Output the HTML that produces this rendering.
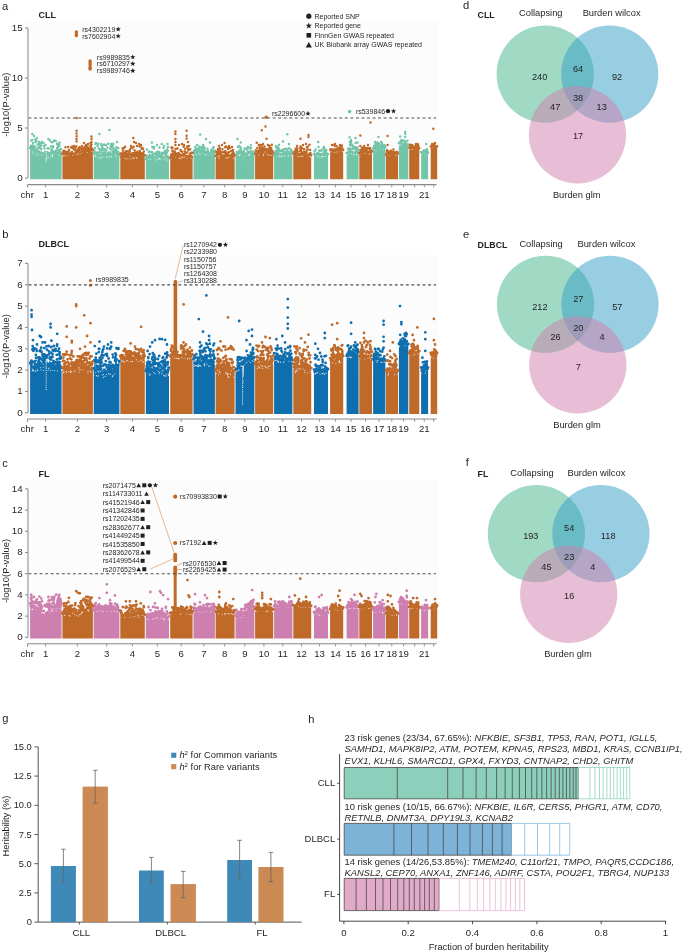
<!DOCTYPE html><html><head><meta charset="utf-8"><style>
html,body{margin:0;padding:0;background:#fff;}
svg{display:block;font-family:"Liberation Sans", sans-serif;filter:blur(0.3px);}
</style></head><body>
<svg width="685" height="952" viewBox="0 0 685 952">
<rect width="685" height="952" fill="#fff"/>
<rect x="25" y="22" width="413" height="164" fill="#fcfcfc"/>
<rect x="25" y="255" width="413" height="166" fill="#fcfcfc"/>
<rect x="25" y="480" width="413" height="166" fill="#fcfcfc"/>
<g>
<path d="M30.1 179.2 L30.1 148.0 L30.8 146.7 L31.5 148.6 L32.2 148.2 L32.9 149.8 L33.6 150.3 L34.3 149.7 L35.0 147.1 L35.7 151.3 L36.4 151.6 L37.1 150.3 L37.8 148.0 L38.5 151.5 L39.2 152.5 L39.9 147.9 L40.6 153.1 L41.3 149.0 L42.0 153.1 L42.7 154.2 L43.4 155.0 L44.1 155.2 L44.8 152.4 L45.5 156.3 L46.2 154.6 L46.9 154.0 L47.6 155.5 L48.3 154.6 L49.0 156.1 L49.7 155.7 L50.4 154.8 L51.1 151.8 L51.8 152.8 L52.5 153.0 L53.2 151.7 L53.9 152.8 L54.6 154.0 L55.3 151.3 L56.0 152.1 L56.7 154.4 L57.4 152.8 L58.1 153.1 L58.8 150.5 L59.5 151.9 L60.2 154.3 L60.9 149.1 L61.6 154.0 L61.6 179.2ZM93.7 179.2 L93.7 153.1 L94.4 150.8 L95.1 153.3 L95.8 153.8 L96.6 154.3 L97.3 152.6 L98.0 155.9 L98.7 155.8 L99.4 151.9 L100.1 156.3 L100.8 155.9 L101.6 152.6 L102.3 155.3 L103.0 153.3 L103.7 149.4 L104.4 154.1 L105.1 154.1 L105.8 151.1 L106.6 154.7 L107.3 153.7 L108.0 153.5 L108.7 155.0 L109.4 154.0 L110.1 152.5 L110.8 154.6 L111.5 154.4 L112.3 150.5 L113.0 152.3 L113.7 154.3 L114.4 153.9 L115.1 153.0 L115.8 153.2 L116.5 152.7 L117.3 151.7 L118.0 151.9 L118.7 154.4 L119.4 154.7 L119.4 179.2ZM145.8 179.2 L145.8 158.9 L146.5 157.6 L147.2 158.7 L147.9 157.2 L148.6 156.4 L149.3 155.4 L150.0 156.9 L150.7 157.7 L151.4 156.8 L152.1 156.2 L152.8 157.4 L153.5 155.1 L154.2 158.1 L154.9 157.3 L155.6 157.6 L156.3 154.9 L157.0 153.9 L157.8 152.9 L158.5 156.3 L159.2 153.5 L159.9 156.8 L160.6 156.2 L161.3 157.6 L162.0 154.2 L162.7 153.3 L163.4 157.9 L164.1 158.2 L164.8 153.8 L165.5 155.0 L166.2 156.6 L166.9 152.8 L167.6 156.6 L168.3 158.6 L169.0 158.3 L169.0 179.2ZM193.5 179.2 L193.5 152.6 L194.2 150.4 L194.9 150.4 L195.6 150.8 L196.4 153.0 L197.1 151.0 L197.8 151.1 L198.5 151.2 L199.2 149.3 L199.9 152.3 L200.6 152.4 L201.3 150.9 L202.1 150.1 L202.8 151.5 L203.5 152.7 L204.2 151.9 L204.9 151.2 L205.6 153.1 L206.3 153.1 L207.1 153.5 L207.8 153.9 L208.5 153.3 L209.2 153.9 L209.9 153.6 L210.6 153.6 L211.3 152.1 L212.0 153.6 L212.8 152.0 L213.5 153.6 L214.2 153.6 L214.9 150.8 L214.9 179.2ZM235.5 179.2 L235.5 154.7 L236.2 154.5 L236.9 154.2 L237.6 153.8 L238.3 151.8 L239.0 152.6 L239.7 151.2 L240.4 151.0 L241.1 152.8 L241.8 153.5 L242.5 156.3 L243.2 158.9 L243.9 157.9 L244.6 154.9 L245.3 153.7 L246.0 154.2 L246.7 153.7 L247.4 150.3 L248.1 152.2 L248.8 152.3 L249.5 152.7 L250.2 151.4 L250.9 152.3 L251.6 152.1 L252.3 152.3 L253.0 153.0 L253.7 152.7 L254.4 152.5 L254.4 179.2ZM274.1 179.2 L274.1 155.4 L274.8 153.3 L275.5 153.6 L276.2 155.4 L276.9 154.2 L277.6 153.9 L278.3 151.2 L279.0 153.7 L279.7 153.9 L280.4 153.5 L281.1 154.2 L281.8 154.3 L282.5 150.8 L283.2 154.1 L284.0 152.3 L284.7 154.5 L285.4 152.2 L286.1 153.2 L286.8 154.3 L287.5 152.4 L288.2 152.2 L288.9 154.1 L289.6 153.8 L290.3 153.5 L291.0 152.8 L291.7 152.6 L292.4 151.9 L292.4 179.2ZM314.0 179.2 L314.0 153.9 L314.7 151.0 L315.4 154.3 L316.1 154.3 L316.8 153.8 L317.5 154.4 L318.2 152.9 L318.9 154.6 L319.6 155.2 L320.3 155.4 L321.0 154.4 L321.7 153.9 L322.4 154.7 L323.1 154.8 L323.8 152.3 L324.5 154.1 L325.2 155.0 L325.9 153.5 L326.6 154.8 L327.3 154.9 L328.0 153.9 L328.0 179.2ZM346.6 179.2 L346.6 152.9 L347.3 153.1 L348.0 148.4 L348.7 151.2 L349.4 151.8 L350.1 149.5 L350.8 151.8 L351.5 151.8 L352.2 152.1 L353.0 148.7 L353.7 152.5 L354.4 152.5 L355.1 148.4 L355.8 148.8 L356.5 151.0 L357.2 152.6 L357.9 150.1 L358.6 150.0 L358.6 179.2ZM373.1 179.2 L373.1 148.2 L373.8 147.4 L374.5 149.1 L375.3 147.6 L376.0 148.9 L376.7 147.0 L377.4 148.8 L378.2 148.5 L378.9 145.9 L379.6 148.1 L380.3 148.3 L381.1 146.4 L381.8 147.8 L382.5 146.7 L383.2 148.4 L384.0 147.9 L384.7 145.6 L385.4 147.3 L385.4 179.2ZM398.9 179.2 L398.9 143.1 L399.6 142.5 L400.3 142.6 L401.1 143.3 L401.8 143.4 L402.5 144.7 L403.2 144.7 L404.0 144.7 L404.7 143.0 L405.4 143.3 L406.1 143.7 L406.9 144.5 L407.6 144.4 L408.3 144.6 L408.3 179.2ZM421.1 179.2 L421.1 151.9 L421.8 153.3 L422.5 152.5 L423.2 153.3 L423.9 153.1 L424.6 153.0 L425.3 153.1 L426.0 153.4 L426.7 153.1 L427.4 151.6 L428.1 152.7 L428.1 179.2Z" fill="#73c5aa"/>
<path d="M62.4 179.2 L62.4 153.4 L63.1 153.4 L63.8 153.8 L64.5 154.0 L65.2 154.4 L65.9 154.3 L66.7 152.5 L67.4 154.6 L68.1 152.0 L68.8 154.2 L69.5 154.0 L70.2 153.8 L70.9 153.7 L71.6 152.9 L72.3 154.0 L73.0 153.8 L73.7 153.7 L74.5 153.6 L75.2 150.3 L75.9 153.0 L76.6 150.5 L77.3 151.4 L78.0 152.3 L78.7 150.4 L79.4 149.2 L80.1 149.1 L80.8 151.9 L81.6 151.8 L82.3 148.9 L83.0 150.7 L83.7 151.4 L84.4 152.2 L85.1 151.4 L85.8 150.1 L86.5 151.2 L87.2 149.2 L87.9 148.0 L88.6 151.1 L89.4 150.7 L90.1 149.6 L90.8 147.2 L91.5 149.7 L92.2 150.5 L92.9 149.7 L92.9 179.2ZM120.3 179.2 L120.3 153.6 L121.0 156.7 L121.7 156.8 L122.4 156.2 L123.1 155.3 L123.8 155.7 L124.5 156.4 L125.2 156.5 L125.9 154.8 L126.6 153.7 L127.3 157.2 L128.0 155.7 L128.7 154.7 L129.4 157.6 L130.1 154.6 L130.8 157.5 L131.5 155.5 L132.2 155.3 L132.9 154.6 L133.6 156.0 L134.3 155.7 L135.0 154.8 L135.7 155.1 L136.4 153.7 L137.1 154.9 L137.8 155.3 L138.5 156.5 L139.2 154.8 L139.9 155.2 L140.6 155.8 L141.3 153.4 L142.0 153.5 L142.7 155.4 L143.4 156.0 L144.1 154.7 L144.8 155.3 L144.8 179.2ZM170.2 179.2 L170.2 157.8 L170.9 156.7 L171.6 154.8 L172.3 156.9 L173.0 156.6 L173.7 156.0 L174.4 156.7 L175.1 156.5 L175.8 154.3 L176.5 155.6 L177.2 153.6 L177.9 155.3 L178.6 153.1 L179.3 156.2 L180.0 155.5 L180.7 155.3 L181.4 155.3 L182.1 155.1 L182.8 155.1 L183.5 154.7 L184.2 155.3 L184.9 151.6 L185.6 152.9 L186.3 156.3 L187.0 157.0 L187.7 156.0 L188.4 156.7 L189.1 156.2 L189.8 154.0 L190.5 156.5 L191.2 152.8 L191.9 157.2 L192.6 152.8 L192.6 179.2ZM215.6 179.2 L215.6 155.8 L216.3 152.0 L217.0 153.8 L217.7 152.8 L218.4 155.1 L219.1 154.1 L219.8 153.6 L220.5 153.7 L221.2 157.3 L221.9 155.5 L222.6 157.1 L223.3 155.4 L224.0 157.1 L224.7 155.9 L225.5 153.1 L226.2 154.8 L226.9 156.0 L227.6 154.9 L228.3 155.3 L229.0 152.2 L229.7 156.2 L230.4 156.4 L231.1 155.0 L231.8 156.8 L232.5 155.0 L233.2 152.2 L233.9 154.7 L234.6 155.2 L234.6 179.2ZM255.1 179.2 L255.1 153.7 L255.8 150.3 L256.5 151.5 L257.3 153.9 L258.0 152.0 L258.7 153.0 L259.4 150.9 L260.2 150.0 L260.9 152.4 L261.6 152.8 L262.3 149.2 L263.1 151.9 L263.8 148.8 L264.5 150.2 L265.2 150.2 L266.0 150.0 L266.7 151.4 L267.4 152.2 L268.1 152.9 L268.9 151.0 L269.6 152.5 L270.3 152.6 L271.0 150.3 L271.8 153.6 L272.5 151.1 L273.2 153.3 L273.2 179.2ZM293.3 179.2 L293.3 153.8 L294.0 153.8 L294.7 152.1 L295.4 153.0 L296.2 150.8 L296.9 153.9 L297.6 151.4 L298.3 153.7 L299.0 155.2 L299.7 155.3 L300.5 154.2 L301.2 151.7 L301.9 154.7 L302.6 152.7 L303.3 154.2 L304.0 152.0 L304.8 155.0 L305.5 154.2 L306.2 152.2 L306.9 155.0 L307.6 155.0 L308.3 155.1 L309.1 155.0 L309.8 154.8 L310.5 153.3 L311.2 155.2 L311.2 179.2ZM330.1 179.2 L330.1 149.6 L330.8 150.4 L331.6 149.6 L332.3 149.5 L333.0 151.2 L333.7 150.5 L334.5 151.3 L335.2 151.1 L335.9 150.5 L336.6 149.9 L337.4 150.1 L338.1 150.4 L338.8 149.2 L339.6 150.6 L340.3 149.6 L341.0 150.2 L341.7 149.9 L342.5 149.1 L343.2 150.0 L343.2 179.2ZM359.3 179.2 L359.3 153.0 L360.0 152.4 L360.7 153.4 L361.4 153.1 L362.1 150.5 L362.8 152.7 L363.5 152.0 L364.2 150.0 L364.9 150.4 L365.6 151.2 L366.4 151.7 L367.1 152.1 L367.8 152.1 L368.5 152.0 L369.2 152.2 L369.9 150.6 L370.6 151.2 L371.3 152.6 L372.0 151.1 L372.0 179.2ZM386.0 179.2 L386.0 154.8 L386.7 153.4 L387.4 154.0 L388.1 154.3 L388.8 152.8 L389.5 154.5 L390.2 154.5 L390.9 154.5 L391.6 153.7 L392.4 152.9 L393.1 153.1 L393.8 153.7 L394.5 152.8 L395.2 154.0 L395.9 153.8 L396.6 153.1 L397.3 152.1 L398.0 153.4 L398.0 179.2ZM409.2 179.2 L409.2 147.5 L409.9 148.2 L410.6 148.0 L411.4 146.1 L412.1 148.1 L412.8 148.1 L413.5 147.2 L414.2 147.1 L415.0 147.5 L415.7 147.2 L416.4 148.4 L417.1 148.5 L417.9 146.6 L418.6 147.1 L419.3 148.3 L419.3 179.2ZM430.7 179.2 L430.7 146.5 L431.4 146.2 L432.1 145.2 L432.9 145.9 L433.6 146.5 L434.3 145.6 L435.0 146.5 L435.8 146.5 L436.5 146.4 L437.2 146.3 L437.2 179.2Z" fill="#c06a2a"/>
<path d="M52.6 155.6h0M41.5 152.3h0M32.1 149.0h0M50.6 155.9h0M53.5 154.2h0M52.3 156.0h0M52.5 156.6h0M38.0 150.8h0M36.4 154.6h0M34.9 150.1h0M53.2 153.8h0M34.0 150.5h0M38.7 154.7h0M52.2 154.9h0M33.0 151.8h0M52.3 154.5h0M42.0 155.4h0M50.9 154.2h0M53.5 152.6h0M41.5 150.0h0M38.3 152.5h0M34.9 151.1h0M59.2 155.4h0M59.3 155.1h0M36.5 152.2h0M46.4 158.2h0M50.7 156.8h0M47.4 156.2h0M59.3 152.9h0M48.9 156.6h0M48.2 157.4h0M46.2 159.0h0M49.6 156.5h0M53.2 153.5h0M33.2 153.0h0M39.7 148.5h0M41.5 154.4h0M64.3 155.6h0M92.5 151.5h0M73.0 154.3h0M76.5 153.8h0M81.7 152.5h0M91.0 149.8h0M87.4 150.8h0M64.5 154.6h0M90.1 150.5h0M75.4 152.6h0M87.2 152.2h0M77.1 153.7h0M91.6 151.3h0M76.0 154.2h0M67.2 155.8h0M71.8 154.2h0M87.5 151.9h0M82.3 151.6h0M72.9 155.2h0M65.9 155.6h0M87.6 151.4h0M81.0 153.5h0M71.5 154.5h0M64.6 155.2h0M78.7 153.9h0M91.0 148.4h0M65.8 155.7h0M80.1 150.9h0M76.1 153.7h0M63.1 155.9h0M83.7 151.9h0M65.5 155.6h0M86.1 150.9h0M72.9 154.5h0M68.9 155.1h0M91.7 150.4h0M102.2 155.9h0M101.4 155.2h0M93.8 157.1h0M109.3 156.8h0M100.4 157.9h0M95.2 155.1h0M103.2 154.4h0M112.1 152.7h0M107.0 157.4h0M115.6 155.2h0M98.1 156.6h0M99.9 157.2h0M100.7 157.2h0M106.5 155.9h0M95.9 156.4h0M109.1 156.1h0M110.1 154.3h0M111.3 157.0h0M101.0 157.2h0M111.5 155.9h0M100.6 157.6h0M100.4 157.2h0M97.5 154.7h0M116.5 156.6h0M101.1 157.0h0M98.1 157.2h0M102.5 157.1h0M95.1 153.9h0M95.9 155.4h0M97.3 153.4h0M131.2 157.9h0M135.3 155.6h0M131.4 156.6h0M144.9 156.5h0M143.3 156.5h0M129.4 158.8h0M127.1 158.5h0M128.8 155.3h0M134.2 158.1h0M131.0 158.5h0M144.3 156.8h0M120.3 154.6h0M130.0 156.4h0M129.5 158.5h0M127.0 158.7h0M124.3 157.5h0M126.3 155.3h0M126.0 156.2h0M122.8 156.5h0M136.7 157.5h0M143.8 155.5h0M136.9 158.2h0M125.5 158.8h0M123.9 156.5h0M132.7 156.7h0M129.3 158.6h0M131.4 158.8h0M133.1 158.5h0M134.4 156.6h0M164.0 159.7h0M151.4 157.9h0M155.6 159.9h0M157.2 154.5h0M167.0 160.9h0M157.8 157.3h0M159.8 158.8h0M149.2 157.2h0M158.9 154.7h0M159.6 157.9h0M161.0 158.9h0M145.5 160.5h0M158.2 159.4h0M151.9 157.2h0M165.3 158.4h0M163.2 158.8h0M149.6 157.2h0M159.3 158.8h0M169.2 160.7h0M150.6 159.2h0M155.6 158.5h0M148.2 159.0h0M167.4 159.5h0M145.7 160.6h0M167.8 158.1h0M162.3 157.6h0M148.5 159.8h0M178.7 154.4h0M179.7 157.7h0M187.5 157.6h0M181.1 156.8h0M186.8 158.1h0M185.4 154.3h0M181.4 156.1h0M191.0 155.4h0M179.1 158.3h0M182.8 157.3h0M187.9 156.9h0M181.0 158.6h0M186.2 157.0h0M190.3 157.3h0M170.9 158.1h0M170.7 158.7h0M191.7 158.1h0M182.4 157.1h0M175.5 157.4h0M178.5 153.6h0M170.9 158.8h0M190.7 157.8h0M173.1 157.3h0M174.9 157.4h0M184.3 156.9h0M192.6 156.0h0M195.6 151.5h0M205.1 154.7h0M196.6 154.9h0M198.3 152.6h0M200.1 154.1h0M193.8 154.8h0M209.6 154.7h0M207.0 154.3h0M198.3 152.4h0M212.6 154.5h0M199.2 153.8h0M204.7 152.3h0M195.4 153.0h0M206.2 154.5h0M208.6 154.2h0M196.8 151.6h0M207.7 154.7h0M211.8 154.3h0M214.8 154.5h0M202.0 153.3h0M202.8 152.4h0M214.1 154.6h0M205.6 154.8h0M214.8 152.1h0M212.8 153.6h0M215.6 158.7h0M226.2 157.4h0M222.2 157.1h0M227.0 156.8h0M224.7 157.6h0M228.9 154.2h0M215.6 157.0h0M217.7 156.0h0M229.7 157.4h0M219.8 154.2h0M225.7 154.5h0M228.3 157.5h0M233.8 158.3h0M223.5 156.0h0M227.0 158.3h0M222.1 156.7h0M226.8 156.7h0M219.3 156.2h0M219.6 156.0h0M219.2 158.4h0M218.0 156.3h0M229.8 157.1h0M249.9 152.2h0M243.4 159.8h0M239.6 155.0h0M240.6 153.9h0M243.8 159.3h0M245.5 154.6h0M254.7 153.1h0M239.1 155.4h0M250.4 152.7h0M235.6 155.3h0M240.3 151.5h0M249.4 155.2h0M241.2 153.4h0M250.8 153.4h0M248.6 155.0h0M241.9 155.2h0M247.5 153.7h0M238.8 154.0h0M245.9 155.0h0M244.6 156.0h0M235.7 155.5h0M249.2 154.6h0M270.8 153.1h0M259.4 153.0h0M258.8 153.5h0M269.7 155.2h0M258.8 155.1h0M263.5 154.5h0M265.1 152.7h0M263.3 155.6h0M273.0 154.5h0M256.6 152.9h0M264.2 151.1h0M255.3 154.5h0M271.6 155.2h0M265.3 151.4h0M267.9 154.9h0M262.3 151.9h0M267.6 152.9h0M263.9 149.4h0M273.3 154.1h0M262.2 151.4h0M268.1 154.4h0M283.9 155.0h0M281.7 156.0h0M284.4 156.1h0M284.0 153.2h0M288.3 155.9h0M279.5 155.6h0M279.8 155.7h0M287.1 154.8h0M275.0 154.0h0M276.4 156.0h0M287.9 154.1h0M291.9 155.4h0M291.8 153.3h0M280.3 154.1h0M281.9 155.6h0M282.0 155.0h0M281.0 156.7h0M281.3 154.9h0M285.2 154.9h0M278.8 154.2h0M278.5 156.8h0M310.4 154.5h0M304.3 155.5h0M311.0 156.3h0M311.0 155.8h0M310.0 156.9h0M301.8 155.6h0M298.3 155.1h0M302.0 155.3h0M298.0 156.7h0M308.9 156.1h0M297.6 154.7h0M299.3 156.4h0M297.8 152.0h0M304.3 153.0h0M298.8 155.8h0M299.6 156.5h0M303.9 152.9h0M300.5 155.2h0M303.1 156.2h0M311.4 156.5h0M301.3 156.4h0M322.5 156.4h0M322.1 156.2h0M325.3 156.5h0M321.2 156.8h0M319.1 155.2h0M319.6 155.8h0M321.7 155.4h0M318.6 155.1h0M325.0 156.3h0M317.3 155.2h0M317.6 156.5h0M317.7 155.5h0M327.7 154.6h0M322.6 156.2h0M322.9 156.7h0M319.5 156.4h0M331.0 151.4h0M343.1 151.8h0M330.6 151.0h0M337.7 151.8h0M333.6 151.0h0M335.9 152.0h0M336.7 151.1h0M339.4 151.4h0M335.4 151.7h0M342.3 151.3h0M330.9 151.8h0M340.4 150.6h0M333.2 152.0h0M334.6 152.0h0M330.5 151.2h0M351.4 153.1h0M348.6 151.7h0M349.2 153.0h0M353.6 154.1h0M353.5 153.4h0M353.1 150.0h0M356.5 154.4h0M350.1 151.5h0M347.4 154.9h0M355.6 150.8h0M354.5 154.7h0M350.2 152.6h0M348.2 152.2h0M357.0 154.2h0M370.9 153.2h0M371.4 153.4h0M360.9 153.9h0M365.2 151.5h0M364.2 153.1h0M364.3 150.8h0M360.2 153.6h0M366.3 152.4h0M360.8 154.1h0M366.6 152.7h0M368.2 152.8h0M370.2 152.0h0M369.9 152.5h0M369.2 153.9h0M360.9 154.1h0M376.2 150.0h0M374.0 149.6h0M377.0 148.1h0M379.8 148.6h0M380.9 146.9h0M379.6 148.7h0M380.3 148.9h0M378.8 148.4h0M383.8 149.5h0M383.2 149.5h0M376.6 147.9h0M376.0 149.9h0M385.3 148.1h0M374.5 150.0h0M390.5 155.4h0M397.8 154.3h0M389.5 155.5h0M395.4 155.1h0M391.7 154.5h0M394.7 154.4h0M395.4 155.2h0M387.0 154.1h0M392.9 154.1h0M396.5 154.2h0M396.0 155.2h0M388.0 155.2h0M390.5 155.5h0M385.8 155.4h0M398.9 144.9h0M399.5 143.3h0M404.7 143.6h0M405.8 144.3h0M401.0 143.9h0M399.8 145.1h0M401.1 144.6h0M406.4 144.5h0M407.7 145.5h0M398.7 143.8h0M406.3 144.5h0M409.8 149.0h0M409.8 149.4h0M419.1 148.8h0M412.7 149.2h0M412.1 149.3h0M412.5 148.8h0M410.0 149.5h0M417.9 147.8h0M414.5 147.6h0M415.9 148.2h0M416.9 149.1h0M409.3 148.2h0M425.6 153.8h0M422.6 153.5h0M422.6 153.4h0M425.2 154.2h0M421.3 154.2h0M428.4 154.0h0M427.9 153.4h0M421.9 154.0h0M432.3 146.5h0M434.3 146.7h0M431.7 146.8h0M432.1 146.6h0M430.5 147.2h0M433.1 146.6h0M432.8 146.6h0" stroke="#fff" stroke-opacity="0.85" stroke-width="1.1" stroke-linecap="round" fill="none"/>
<path d="M30.1 148.0h0M30.8 146.7h0M31.5 148.6h0M32.2 148.2h0M32.9 149.8h0M33.6 150.3h0M34.3 149.7h0M35.0 147.1h0M35.7 151.3h0M36.4 151.6h0M37.1 150.3h0M37.8 148.0h0M38.5 151.5h0M39.2 152.5h0M39.9 147.9h0M40.6 153.1h0M41.3 149.0h0M42.0 153.1h0M42.7 154.2h0M43.4 155.0h0M44.1 155.2h0M44.8 152.4h0M45.5 156.3h0M46.2 154.6h0M46.9 154.0h0M47.6 155.5h0M48.3 154.6h0M49.0 156.1h0M49.7 155.7h0M50.4 154.8h0M51.1 151.8h0M51.8 152.8h0M52.5 153.0h0M53.2 151.7h0M53.9 152.8h0M54.6 154.0h0M55.3 151.3h0M56.0 152.1h0M56.7 154.4h0M57.4 152.8h0M58.1 153.1h0M58.8 150.5h0M59.5 151.9h0M60.2 154.3h0M60.9 149.1h0M61.6 154.0h0M48.0 152.9h0M51.7 142.3h0M33.1 145.6h0M44.0 153.3h0M51.9 150.0h0M34.0 147.3h0M59.2 145.9h0M43.5 143.0h0M49.5 153.3h0M59.4 142.6h0M45.2 156.0h0M32.0 147.1h0M40.5 143.4h0M51.5 150.2h0M54.4 153.6h0M49.3 154.7h0M48.7 148.6h0M47.3 153.6h0M37.5 144.5h0M55.7 151.0h0M36.3 149.7h0M55.2 151.0h0M52.9 147.5h0M32.2 140.1h0M60.4 152.0h0M47.5 152.2h0M47.2 155.4h0M39.2 152.3h0M56.3 154.4h0M36.4 141.0h0M57.0 143.7h0M57.3 147.7h0M45.6 153.0h0M35.3 139.5h0M50.4 153.3h0M36.1 149.9h0M41.3 145.4h0M52.8 142.0h0M53.1 146.2h0M31.0 145.7h0M59.1 145.8h0M41.3 143.1h0M45.7 152.2h0M52.4 152.3h0M38.7 144.2h0M39.7 146.0h0M31.2 140.6h0M50.9 146.6h0M45.5 145.0h0M45.9 154.2h0M39.6 146.2h0M44.6 148.5h0M57.7 149.7h0M58.7 146.4h0M59.2 150.0h0M51.4 149.5h0M58.0 145.2h0M47.6 148.2h0M33.8 149.8h0M35.3 146.7h0M50.6 154.4h0M57.1 148.2h0M45.2 152.0h0M58.5 145.0h0M35.6 142.1h0M38.8 151.8h0M32.4 134.0h0M34.0 136.0h0M36.8 138.0h0M39.0 142.0h0M41.9 142.0h0M48.4 139.0h0M49.9 140.5h0M54.3 140.5h0M55.7 141.0h0M57.0 144.0h0M59.4 144.0h0M33.0 143.0h0M44.0 146.0h0M93.7 153.1h0M94.4 150.8h0M95.1 153.3h0M95.8 153.8h0M96.6 154.3h0M97.3 152.6h0M98.0 155.9h0M98.7 155.8h0M99.4 151.9h0M100.1 156.3h0M100.8 155.9h0M101.6 152.6h0M102.3 155.3h0M103.0 153.3h0M103.7 149.4h0M104.4 154.1h0M105.1 154.1h0M105.8 151.1h0M106.6 154.7h0M107.3 153.7h0M108.0 153.5h0M108.7 155.0h0M109.4 154.0h0M110.1 152.5h0M110.8 154.6h0M111.5 154.4h0M112.3 150.5h0M113.0 152.3h0M113.7 154.3h0M114.4 153.9h0M115.1 153.0h0M115.8 153.2h0M116.5 152.7h0M117.3 151.7h0M118.0 151.9h0M118.7 154.4h0M119.4 154.7h0M116.2 150.1h0M102.1 147.2h0M103.7 148.9h0M106.2 150.0h0M101.9 150.2h0M96.2 153.5h0M111.2 154.4h0M100.1 149.5h0M101.5 145.2h0M108.2 143.7h0M100.7 155.3h0M117.5 151.7h0M111.1 143.9h0M113.4 154.3h0M105.5 149.6h0M98.7 148.4h0M110.7 146.9h0M112.6 147.7h0M102.2 145.3h0M102.1 148.6h0M114.7 151.1h0M111.2 154.3h0M96.8 154.3h0M102.5 145.7h0M108.6 153.4h0M94.9 148.0h0M108.3 152.4h0M96.2 153.5h0M115.3 150.7h0M111.1 145.3h0M115.5 150.5h0M107.5 147.4h0M104.3 152.7h0M110.3 149.0h0M116.3 147.3h0M104.3 149.3h0M115.2 151.8h0M113.3 143.8h0M105.2 153.4h0M112.3 146.8h0M113.4 154.0h0M114.5 148.9h0M118.2 148.0h0M98.9 154.5h0M105.9 149.9h0M104.9 153.2h0M104.2 153.0h0M102.1 153.1h0M104.4 153.3h0M98.1 143.8h0M97.6 146.1h0M104.0 144.5h0M95.4 152.6h0M95.6 144.1h0M99.5 134.0h0M109.5 130.0h0M96.0 143.0h0M106.0 145.0h0M113.0 145.0h0M117.0 142.0h0M101.0 144.0h0M145.8 158.9h0M146.5 157.6h0M147.2 158.7h0M147.9 157.2h0M148.6 156.4h0M149.3 155.4h0M150.0 156.9h0M150.7 157.7h0M151.4 156.8h0M152.1 156.2h0M152.8 157.4h0M153.5 155.1h0M154.2 158.1h0M154.9 157.3h0M155.6 157.6h0M156.3 154.9h0M157.0 153.9h0M157.8 152.9h0M158.5 156.3h0M159.2 153.5h0M159.9 156.8h0M160.6 156.2h0M161.3 157.6h0M162.0 154.2h0M162.7 153.3h0M163.4 157.9h0M164.1 158.2h0M164.8 153.8h0M165.5 155.0h0M166.2 156.6h0M166.9 152.8h0M167.6 156.6h0M168.3 158.6h0M169.0 158.3h0M149.9 155.0h0M149.3 151.4h0M161.7 153.5h0M168.0 147.0h0M156.0 157.3h0M147.1 157.1h0M152.4 154.0h0M159.6 154.5h0M157.1 153.8h0M166.3 151.4h0M168.1 157.2h0M152.3 147.1h0M159.9 155.3h0M156.2 154.5h0M149.7 152.1h0M154.1 147.0h0M159.3 152.0h0M153.9 148.4h0M157.5 151.8h0M146.8 149.6h0M164.9 151.7h0M158.4 156.0h0M163.0 157.0h0M164.9 151.0h0M164.4 152.6h0M155.8 152.7h0M166.1 155.8h0M150.3 156.1h0M163.5 153.0h0M157.3 152.0h0M146.6 155.4h0M153.8 153.9h0M167.9 156.4h0M157.1 153.7h0M154.3 157.9h0M166.2 151.1h0M167.9 150.7h0M162.0 152.7h0M166.0 151.6h0M163.4 148.0h0M161.4 156.6h0M162.6 153.3h0M164.4 153.2h0M161.3 157.4h0M159.4 147.4h0M163.3 157.5h0M148.9 152.1h0M167.0 149.4h0M152.0 152.0h0M151.9 142.4h0M161.8 144.0h0M167.6 144.0h0M157.0 145.0h0M164.0 146.0h0M193.5 152.6h0M194.2 150.4h0M194.9 150.4h0M195.6 150.8h0M196.4 153.0h0M197.1 151.0h0M197.8 151.1h0M198.5 151.2h0M199.2 149.3h0M199.9 152.3h0M200.6 152.4h0M201.3 150.9h0M202.1 150.1h0M202.8 151.5h0M203.5 152.7h0M204.2 151.9h0M204.9 151.2h0M205.6 153.1h0M206.3 153.1h0M207.1 153.5h0M207.8 153.9h0M208.5 153.3h0M209.2 153.9h0M209.9 153.6h0M210.6 153.6h0M211.3 152.1h0M212.0 153.6h0M212.8 152.0h0M213.5 153.6h0M214.2 153.6h0M214.9 150.8h0M198.2 149.1h0M201.7 150.8h0M203.9 147.0h0M202.3 148.4h0M203.9 151.9h0M198.5 149.0h0M196.2 149.1h0M197.2 149.3h0M196.3 152.8h0M202.7 151.3h0M199.3 148.9h0M211.1 150.5h0M200.6 150.7h0M196.7 153.0h0M213.7 147.2h0M205.6 152.4h0M199.4 146.4h0M203.2 146.2h0M214.0 152.3h0M203.1 151.5h0M210.3 153.4h0M207.4 148.7h0M200.6 151.0h0M211.6 150.2h0M197.0 151.0h0M202.5 149.6h0M196.6 150.9h0M198.7 150.9h0M195.2 147.0h0M209.9 152.9h0M197.5 148.7h0M208.0 151.0h0M197.4 148.6h0M204.8 148.4h0M201.2 147.4h0M213.1 151.9h0M203.1 150.1h0M212.9 151.5h0M206.6 152.0h0M197.2 149.2h0M212.4 150.2h0M203.9 152.7h0M201.5 147.6h0M213.1 148.3h0M212.7 148.5h0M200.2 134.6h0M206.0 139.0h0M210.0 142.4h0M197.0 145.0h0M203.0 145.0h0M235.5 154.7h0M236.2 154.5h0M236.9 154.2h0M237.6 153.8h0M238.3 151.8h0M239.0 152.6h0M239.7 151.2h0M240.4 151.0h0M241.1 152.8h0M241.8 153.5h0M242.5 156.3h0M243.2 158.9h0M243.9 157.9h0M244.6 154.9h0M245.3 153.7h0M246.0 154.2h0M246.7 153.7h0M247.4 150.3h0M248.1 152.2h0M248.8 152.3h0M249.5 152.7h0M250.2 151.4h0M250.9 152.3h0M251.6 152.1h0M252.3 152.3h0M253.0 153.0h0M253.7 152.7h0M254.4 152.5h0M237.9 146.9h0M236.8 152.3h0M243.5 157.5h0M244.0 150.9h0M244.9 153.2h0M240.0 146.8h0M244.7 148.6h0M246.4 154.1h0M250.1 148.5h0M240.3 150.1h0M250.9 148.1h0M240.1 150.8h0M243.6 151.7h0M241.7 152.3h0M242.5 155.0h0M244.0 150.7h0M244.9 153.8h0M240.3 149.8h0M243.0 158.9h0M249.8 147.9h0M240.6 151.0h0M241.1 148.5h0M247.4 147.7h0M252.8 151.8h0M239.9 150.3h0M247.9 147.1h0M246.5 148.6h0M249.9 148.6h0M241.2 151.3h0M243.2 157.7h0M246.5 148.4h0M237.7 153.7h0M252.5 152.3h0M251.0 151.5h0M244.1 153.8h0M252.6 151.4h0M237.4 139.0h0M240.7 142.4h0M250.9 145.3h0M247.0 148.0h0M239.0 146.0h0M274.1 155.4h0M274.8 153.3h0M275.5 153.6h0M276.2 155.4h0M276.9 154.2h0M277.6 153.9h0M278.3 151.2h0M279.0 153.7h0M279.7 153.9h0M280.4 153.5h0M281.1 154.2h0M281.8 154.3h0M282.5 150.8h0M283.2 154.1h0M284.0 152.3h0M284.7 154.5h0M285.4 152.2h0M286.1 153.2h0M286.8 154.3h0M287.5 152.4h0M288.2 152.2h0M288.9 154.1h0M289.6 153.8h0M290.3 153.5h0M291.0 152.8h0M291.7 152.6h0M292.4 151.9h0M286.4 152.7h0M275.7 153.4h0M285.4 149.0h0M291.4 150.0h0M290.3 151.8h0M288.8 153.8h0M278.4 148.1h0M276.8 150.9h0M282.3 150.0h0M278.3 151.1h0M276.9 147.8h0M287.9 152.1h0M276.5 148.3h0M277.5 148.4h0M288.5 153.5h0M278.9 149.5h0M282.0 154.3h0M287.4 151.5h0M281.4 154.0h0M288.7 152.9h0M289.5 148.4h0M286.7 149.1h0M284.3 149.1h0M277.3 147.3h0M289.0 148.5h0M287.1 151.7h0M289.8 153.1h0M283.6 151.4h0M276.9 152.0h0M275.0 153.3h0M277.7 150.5h0M287.4 150.8h0M277.8 152.1h0M279.3 150.7h0M275.4 151.3h0M280.7 150.7h0M287.4 134.3h0M283.0 141.6h0M279.0 145.0h0M289.0 144.0h0M276.0 146.0h0M314.0 153.9h0M314.7 151.0h0M315.4 154.3h0M316.1 154.3h0M316.8 153.8h0M317.5 154.4h0M318.2 152.9h0M318.9 154.6h0M319.6 155.2h0M320.3 155.4h0M321.0 154.4h0M321.7 153.9h0M322.4 154.7h0M323.1 154.8h0M323.8 152.3h0M324.5 154.1h0M325.2 155.0h0M325.9 153.5h0M326.6 154.8h0M327.3 154.9h0M328.0 153.9h0M326.5 154.7h0M320.7 154.2h0M324.9 151.8h0M325.6 149.6h0M325.6 152.4h0M324.9 154.0h0M318.5 147.0h0M319.1 153.8h0M317.1 153.6h0M326.3 152.9h0M321.2 150.8h0M325.7 152.6h0M323.5 148.5h0M319.5 154.2h0M323.0 154.5h0M322.7 149.3h0M319.8 150.4h0M319.2 150.8h0M315.7 149.4h0M325.8 150.4h0M326.0 151.8h0M326.2 150.0h0M324.5 151.2h0M318.2 142.1h0M324.0 147.0h0M346.6 152.9h0M347.3 153.1h0M348.0 148.4h0M348.7 151.2h0M349.4 151.8h0M350.1 149.5h0M350.8 151.8h0M351.5 151.8h0M352.2 152.1h0M353.0 148.7h0M353.7 152.5h0M354.4 152.5h0M355.1 148.4h0M355.8 148.8h0M356.5 151.0h0M357.2 152.6h0M357.9 150.1h0M358.6 150.0h0M350.1 145.1h0M353.2 146.1h0M349.8 141.9h0M350.8 148.9h0M351.1 141.6h0M355.6 142.9h0M356.6 150.7h0M347.6 152.7h0M350.4 148.5h0M351.8 144.4h0M353.3 147.6h0M350.6 144.3h0M351.5 151.8h0M354.8 147.5h0M350.8 145.5h0M355.6 147.2h0M347.6 152.8h0M351.2 141.8h0M357.6 147.5h0M357.5 142.5h0M350.8 143.2h0M350.5 150.7h0M349.6 137.3h0M355.5 138.0h0M351.0 140.0h0M373.1 148.2h0M373.8 147.4h0M374.5 149.1h0M375.3 147.6h0M376.0 148.9h0M376.7 147.0h0M377.4 148.8h0M378.2 148.5h0M378.9 145.9h0M379.6 148.1h0M380.3 148.3h0M381.1 146.4h0M381.8 147.8h0M382.5 146.7h0M383.2 148.4h0M384.0 147.9h0M384.7 145.6h0M385.4 147.3h0M377.7 142.5h0M381.8 147.8h0M376.4 146.6h0M379.1 144.0h0M376.3 143.4h0M382.2 144.7h0M383.0 147.7h0M379.7 145.5h0M382.1 143.9h0M374.1 145.9h0M381.2 146.4h0M375.3 146.3h0M382.9 147.6h0M375.6 142.9h0M378.6 144.4h0M384.3 145.0h0M379.0 145.6h0M374.8 145.6h0M381.8 142.4h0M381.2 145.9h0M377.0 145.6h0M374.1 146.6h0M378.4 137.0h0M375.0 142.0h0M381.0 142.0h0M398.9 143.1h0M399.6 142.5h0M400.3 142.6h0M401.1 143.3h0M401.8 143.4h0M402.5 144.7h0M403.2 144.7h0M404.0 144.7h0M404.7 143.0h0M405.4 143.3h0M406.1 143.7h0M406.9 144.5h0M407.6 144.4h0M408.3 144.6h0M406.0 143.1h0M400.5 142.1h0M404.2 144.0h0M404.4 140.7h0M407.4 140.7h0M400.6 141.8h0M401.8 143.2h0M401.9 140.3h0M401.2 140.3h0M404.6 141.2h0M403.0 140.8h0M402.9 144.7h0M401.3 142.2h0M400.2 136.6h0M405.2 132.0h0M405.2 134.0h0M405.2 137.0h0M421.1 151.9h0M421.8 153.3h0M422.5 152.5h0M423.2 153.3h0M423.9 153.1h0M424.6 153.0h0M425.3 153.1h0M426.0 153.4h0M426.7 153.1h0M427.4 151.6h0M428.1 152.7h0M426.2 150.2h0M424.4 152.7h0M425.3 152.5h0M427.0 149.5h0M424.2 150.5h0M423.5 150.4h0M426.4 153.1h0M424.5 152.5h0M425.7 152.0h0M423.6 152.4h0M426.9 149.2h0M421.9 153.0h0M426.2 144.0h0" stroke="#73c5aa" stroke-width="2.5" stroke-linecap="round" fill="none"/>
<path d="M62.4 153.4h0M63.1 153.4h0M63.8 153.8h0M64.5 154.0h0M65.2 154.4h0M65.9 154.3h0M66.7 152.5h0M67.4 154.6h0M68.1 152.0h0M68.8 154.2h0M69.5 154.0h0M70.2 153.8h0M70.9 153.7h0M71.6 152.9h0M72.3 154.0h0M73.0 153.8h0M73.7 153.7h0M74.5 153.6h0M75.2 150.3h0M75.9 153.0h0M76.6 150.5h0M77.3 151.4h0M78.0 152.3h0M78.7 150.4h0M79.4 149.2h0M80.1 149.1h0M80.8 151.9h0M81.6 151.8h0M82.3 148.9h0M83.0 150.7h0M83.7 151.4h0M84.4 152.2h0M85.1 151.4h0M85.8 150.1h0M86.5 151.2h0M87.2 149.2h0M87.9 148.0h0M88.6 151.1h0M89.4 150.7h0M90.1 149.6h0M90.8 147.2h0M91.5 149.7h0M92.2 150.5h0M92.9 149.7h0M81.7 149.5h0M80.5 148.6h0M72.0 151.9h0M90.5 142.9h0M64.8 154.0h0M91.0 146.9h0M69.1 150.4h0M79.7 147.3h0M75.2 148.0h0M63.8 153.6h0M81.9 148.3h0M77.7 149.5h0M72.7 147.7h0M71.5 152.9h0M79.1 148.8h0M91.2 147.7h0M65.7 151.5h0M79.8 148.6h0M72.0 146.8h0M68.9 150.0h0M89.3 149.7h0M84.1 147.8h0M91.2 144.7h0M85.2 147.2h0M84.8 149.1h0M85.2 146.4h0M63.4 151.0h0M91.3 149.7h0M68.2 147.0h0M79.7 147.8h0M90.4 145.8h0M73.0 153.8h0M65.4 152.2h0M86.2 148.9h0M83.5 151.3h0M73.5 149.1h0M72.5 146.5h0M84.7 152.1h0M63.9 150.8h0M65.3 153.3h0M91.7 148.9h0M87.6 146.8h0M84.2 148.4h0M71.8 152.2h0M85.6 148.6h0M67.8 151.9h0M76.3 146.6h0M65.5 147.3h0M82.7 148.2h0M71.3 152.8h0M85.6 149.2h0M89.6 148.5h0M67.5 154.1h0M84.3 151.9h0M84.5 150.6h0M68.7 152.9h0M67.6 154.6h0M77.6 151.3h0M71.1 147.6h0M75.0 150.3h0M79.8 147.7h0M79.1 147.4h0M76.6 130.8h0M76.6 133.5h0M76.6 136.2h0M76.6 138.9h0M76.6 141.6h0M76.6 118.0h0M91.5 136.5h0M91.5 139.0h0M91.5 142.0h0M91.5 144.5h0M84.0 143.0h0M86.0 145.0h0M82.0 146.0h0M88.0 144.0h0M74.0 146.0h0M120.3 153.6h0M121.0 156.7h0M121.7 156.8h0M122.4 156.2h0M123.1 155.3h0M123.8 155.7h0M124.5 156.4h0M125.2 156.5h0M125.9 154.8h0M126.6 153.7h0M127.3 157.2h0M128.0 155.7h0M128.7 154.7h0M129.4 157.6h0M130.1 154.6h0M130.8 157.5h0M131.5 155.5h0M132.2 155.3h0M132.9 154.6h0M133.6 156.0h0M134.3 155.7h0M135.0 154.8h0M135.7 155.1h0M136.4 153.7h0M137.1 154.9h0M137.8 155.3h0M138.5 156.5h0M139.2 154.8h0M139.9 155.2h0M140.6 155.8h0M141.3 153.4h0M142.0 153.5h0M142.7 155.4h0M143.4 156.0h0M144.1 154.7h0M144.8 155.3h0M125.8 153.5h0M139.9 151.1h0M121.8 156.7h0M134.5 152.9h0M122.6 148.3h0M125.5 154.8h0M125.0 146.8h0M141.8 148.7h0M127.4 151.3h0M129.8 153.4h0M131.2 148.1h0M132.5 153.1h0M131.5 147.8h0M129.5 152.9h0M130.7 157.5h0M127.9 151.6h0M132.3 148.1h0M127.5 156.2h0M143.0 148.8h0M139.9 152.0h0M124.3 153.2h0M138.0 153.8h0M137.5 151.8h0M136.3 153.7h0M129.8 149.8h0M122.2 153.2h0M133.7 146.8h0M134.5 150.2h0M129.8 151.2h0M139.1 153.5h0M122.1 155.5h0M121.3 156.8h0M135.5 152.4h0M143.9 151.6h0M125.7 151.3h0M141.0 153.4h0M131.0 154.9h0M123.2 148.4h0M132.1 154.5h0M140.0 152.6h0M141.8 147.7h0M121.3 156.8h0M127.8 155.7h0M124.1 153.0h0M128.4 154.2h0M142.8 153.6h0M128.0 155.7h0M122.8 150.8h0M141.5 153.4h0M139.4 152.7h0M139.6 146.6h0M133.3 138.0h0M134.0 142.0h0M136.0 143.0h0M139.0 144.0h0M141.0 145.0h0M124.0 148.0h0M131.0 146.0h0M137.0 146.0h0M170.2 157.8h0M170.9 156.7h0M171.6 154.8h0M172.3 156.9h0M173.0 156.6h0M173.7 156.0h0M174.4 156.7h0M175.1 156.5h0M175.8 154.3h0M176.5 155.6h0M177.2 153.6h0M177.9 155.3h0M178.6 153.1h0M179.3 156.2h0M180.0 155.5h0M180.7 155.3h0M181.4 155.3h0M182.1 155.1h0M182.8 155.1h0M183.5 154.7h0M184.2 155.3h0M184.9 151.6h0M185.6 152.9h0M186.3 156.3h0M187.0 157.0h0M187.7 156.0h0M188.4 156.7h0M189.1 156.2h0M189.8 154.0h0M190.5 156.5h0M191.2 152.8h0M191.9 157.2h0M192.6 152.8h0M187.9 148.4h0M172.2 156.7h0M171.4 147.6h0M172.5 148.1h0M187.1 152.5h0M173.5 151.4h0M190.6 156.1h0M178.2 153.5h0M174.7 151.9h0M186.6 156.0h0M183.5 154.0h0M183.2 154.7h0M172.3 153.7h0M175.3 154.4h0M187.7 156.0h0M187.1 146.6h0M176.5 153.8h0M174.1 154.0h0M176.6 153.7h0M175.5 148.9h0M179.6 156.0h0M180.7 150.1h0M172.2 150.7h0M176.7 155.5h0M181.7 155.3h0M171.2 154.8h0M173.6 154.9h0M177.6 148.5h0M172.2 147.4h0M189.8 153.7h0M175.0 152.0h0M188.4 150.2h0M190.2 149.2h0M184.7 151.6h0M185.2 148.7h0M183.6 146.8h0M180.6 150.8h0M180.2 154.6h0M182.0 151.8h0M171.4 154.5h0M176.3 148.8h0M191.8 157.1h0M175.4 131.4h0M175.4 134.0h0M175.4 139.0h0M175.4 142.0h0M175.4 145.0h0M186.6 130.7h0M186.6 135.8h0M186.6 138.5h0M188.0 142.0h0M184.0 145.0h0M189.0 146.0h0M179.0 145.0h0M182.0 144.0h0M215.6 155.8h0M216.3 152.0h0M217.0 153.8h0M217.7 152.8h0M218.4 155.1h0M219.1 154.1h0M219.8 153.6h0M220.5 153.7h0M221.2 157.3h0M221.9 155.5h0M222.6 157.1h0M223.3 155.4h0M224.0 157.1h0M224.7 155.9h0M225.5 153.1h0M226.2 154.8h0M226.9 156.0h0M227.6 154.9h0M228.3 155.3h0M229.0 152.2h0M229.7 156.2h0M230.4 156.4h0M231.1 155.0h0M231.8 156.8h0M232.5 155.0h0M233.2 152.2h0M233.9 154.7h0M234.6 155.2h0M225.5 147.3h0M225.2 152.9h0M222.3 152.2h0M221.0 157.1h0M227.4 152.9h0M231.1 151.1h0M219.9 152.4h0M227.4 152.7h0M233.7 154.1h0M220.3 151.3h0M228.2 147.7h0M219.4 153.5h0M227.4 154.1h0M219.7 149.1h0M219.2 151.0h0M223.3 155.4h0M224.3 155.4h0M232.2 154.5h0M230.6 156.0h0M222.8 156.8h0M219.9 148.3h0M217.9 149.1h0M232.9 154.2h0M229.8 147.9h0M218.3 155.0h0M225.0 152.3h0M226.1 146.6h0M218.3 149.6h0M217.6 151.3h0M225.3 152.0h0M223.3 152.3h0M224.2 157.1h0M232.1 153.8h0M225.3 150.9h0M232.9 150.1h0M228.1 149.1h0M222.5 149.3h0M233.7 153.6h0M225.1 147.2h0M224.6 143.0h0M219.0 146.0h0M229.0 146.0h0M232.0 147.0h0M222.0 145.0h0M255.1 153.7h0M255.8 150.3h0M256.5 151.5h0M257.3 153.9h0M258.0 152.0h0M258.7 153.0h0M259.4 150.9h0M260.2 150.0h0M260.9 152.4h0M261.6 152.8h0M262.3 149.2h0M263.1 151.9h0M263.8 148.8h0M264.5 150.2h0M265.2 150.2h0M266.0 150.0h0M266.7 151.4h0M267.4 152.2h0M268.1 152.9h0M268.9 151.0h0M269.6 152.5h0M270.3 152.6h0M271.0 150.3h0M271.8 153.6h0M272.5 151.1h0M273.2 153.3h0M271.3 148.3h0M258.8 144.9h0M269.4 151.8h0M263.0 151.4h0M261.3 148.5h0M266.1 149.6h0M259.8 147.1h0M258.3 150.8h0M261.3 148.3h0M268.2 151.7h0M257.3 148.1h0M258.9 152.7h0M265.5 149.0h0M259.1 150.2h0M263.1 151.8h0M260.7 152.3h0M261.6 152.6h0M262.3 147.5h0M261.4 152.7h0M271.9 144.7h0M267.9 149.0h0M264.5 146.5h0M261.9 145.1h0M269.4 149.2h0M271.9 152.9h0M259.8 146.7h0M257.8 151.6h0M269.6 145.9h0M270.0 147.3h0M261.8 151.7h0M258.8 151.6h0M260.1 148.1h0M263.3 151.2h0M268.4 145.6h0M261.8 130.2h0M265.5 126.6h0M266.6 138.7h0M256.7 142.7h0M263.0 144.0h0M268.0 145.0h0M260.0 145.0h0M293.3 153.8h0M294.0 153.8h0M294.7 152.1h0M295.4 153.0h0M296.2 150.8h0M296.9 153.9h0M297.6 151.4h0M298.3 153.7h0M299.0 155.2h0M299.7 155.3h0M300.5 154.2h0M301.2 151.7h0M301.9 154.7h0M302.6 152.7h0M303.3 154.2h0M304.0 152.0h0M304.8 155.0h0M305.5 154.2h0M306.2 152.2h0M306.9 155.0h0M307.6 155.0h0M308.3 155.1h0M309.1 155.0h0M309.8 154.8h0M310.5 153.3h0M311.2 155.2h0M301.9 147.9h0M300.0 151.2h0M297.4 151.4h0M296.2 150.8h0M306.1 152.0h0M297.4 149.1h0M300.8 154.2h0M304.0 149.2h0M300.2 148.2h0M307.7 149.5h0M306.8 147.3h0M300.5 146.5h0M309.2 153.8h0M294.3 151.8h0M305.0 154.9h0M301.1 149.9h0M306.5 152.0h0M307.0 154.4h0M306.7 150.3h0M310.1 150.1h0M307.8 146.7h0M303.4 153.0h0M305.1 154.8h0M295.6 148.8h0M300.9 149.4h0M302.1 154.6h0M295.1 151.1h0M305.7 153.6h0M306.8 154.7h0M297.2 148.2h0M310.2 153.3h0M300.5 138.7h0M308.5 135.0h0M308.5 137.0h0M309.5 144.7h0M303.0 145.0h0M297.0 146.0h0M306.0 144.0h0M330.1 149.6h0M330.8 150.4h0M331.6 149.6h0M332.3 149.5h0M333.0 151.2h0M333.7 150.5h0M334.5 151.3h0M335.2 151.1h0M335.9 150.5h0M336.6 149.9h0M337.4 150.1h0M338.1 150.4h0M338.8 149.2h0M339.6 150.6h0M340.3 149.6h0M341.0 150.2h0M341.7 149.9h0M342.5 149.1h0M343.2 150.0h0M342.3 148.5h0M335.0 149.6h0M341.9 145.5h0M334.2 144.7h0M336.7 149.0h0M331.0 149.3h0M331.0 149.7h0M339.5 148.0h0M335.8 149.3h0M334.8 145.9h0M334.3 151.2h0M340.2 147.9h0M341.4 147.5h0M340.4 148.3h0M340.8 150.2h0M338.8 147.7h0M334.4 151.2h0M336.7 146.3h0M340.0 149.2h0M331.6 149.6h0M340.7 146.6h0M334.6 149.4h0M335.0 144.0h0M340.0 145.0h0M332.0 145.0h0M359.3 153.0h0M360.0 152.4h0M360.7 153.4h0M361.4 153.1h0M362.1 150.5h0M362.8 152.7h0M363.5 152.0h0M364.2 150.0h0M364.9 150.4h0M365.6 151.2h0M366.4 151.7h0M367.1 152.1h0M367.8 152.1h0M368.5 152.0h0M369.2 152.2h0M369.9 150.6h0M370.6 151.2h0M371.3 152.6h0M372.0 151.1h0M360.9 153.1h0M365.3 149.5h0M370.3 149.3h0M361.1 150.5h0M364.0 147.6h0M370.8 151.1h0M363.9 149.4h0M361.0 150.2h0M363.1 151.8h0M369.3 151.9h0M366.7 150.6h0M368.1 148.2h0M362.3 148.3h0M362.4 147.8h0M363.3 151.6h0M366.5 151.6h0M369.5 149.2h0M366.7 148.4h0M360.5 150.3h0M367.3 152.0h0M367.1 148.1h0M370.0 148.0h0M361.9 148.2h0M366.0 148.2h0M368.0 148.3h0M360.3 135.5h0M370.5 122.4h0M360.3 146.0h0M364.2 146.0h0M368.0 145.0h0M386.0 154.8h0M386.7 153.4h0M387.4 154.0h0M388.1 154.3h0M388.8 152.8h0M389.5 154.5h0M390.2 154.5h0M390.9 154.5h0M391.6 153.7h0M392.4 152.9h0M393.1 153.1h0M393.8 153.7h0M394.5 152.8h0M395.2 154.0h0M395.9 153.8h0M396.6 153.1h0M397.3 152.1h0M398.0 153.4h0M388.3 153.5h0M393.0 152.2h0M392.9 152.9h0M388.8 151.9h0M392.1 152.5h0M387.8 153.9h0M391.0 153.6h0M391.9 151.8h0M388.5 151.4h0M390.9 150.7h0M386.9 151.0h0M394.8 152.7h0M394.6 152.5h0M387.6 152.3h0M397.1 152.0h0M390.8 153.8h0M387.3 151.9h0M387.1 150.3h0M389.8 152.5h0M388.8 152.0h0M396.0 152.3h0M395.6 153.5h0M393.4 152.1h0M390.7 151.5h0M387.6 136.0h0M387.6 145.0h0M393.4 149.6h0M409.2 147.5h0M409.9 148.2h0M410.6 148.0h0M411.4 146.1h0M412.1 148.1h0M412.8 148.1h0M413.5 147.2h0M414.2 147.1h0M415.0 147.5h0M415.7 147.2h0M416.4 148.4h0M417.1 148.5h0M417.9 146.6h0M418.6 147.1h0M419.3 148.3h0M418.0 144.3h0M416.5 147.5h0M410.1 144.8h0M417.9 145.5h0M412.5 145.4h0M418.2 145.6h0M415.8 145.1h0M414.6 147.5h0M415.1 146.6h0M416.0 145.8h0M415.2 146.6h0M410.1 145.7h0M416.4 148.4h0M412.0 145.0h0M416.0 144.0h0M430.7 146.5h0M431.4 146.2h0M432.1 145.2h0M432.9 145.9h0M433.6 146.5h0M434.3 145.6h0M435.0 146.5h0M435.8 146.5h0M436.5 146.4h0M437.2 146.3h0M432.1 143.9h0M431.7 145.4h0M434.6 145.6h0M432.6 145.7h0M434.4 145.4h0M431.7 146.1h0M433.3 146.4h0M431.7 146.2h0M433.7 145.2h0M432.5 145.6h0M433.9 146.4h0M434.2 144.1h0M433.3 128.8h0M435.0 143.0h0" stroke="#c06a2a" stroke-width="2.5" stroke-linecap="round" fill="none"/>
<line x1="46.2" y1="152.0" x2="46.2" y2="163.0" stroke="#fff" stroke-opacity="0.85" stroke-width="0.9" stroke-dasharray="1.2 0.9"/>
</g>
<circle cx="76.4" cy="32.0" r="1.7" fill="#c06a2a"/>
<circle cx="76.4" cy="34.0" r="1.7" fill="#c06a2a"/>
<circle cx="76.4" cy="35.5" r="1.7" fill="#c06a2a"/>
<circle cx="90.1" cy="61.0" r="1.75" fill="#c06a2a"/>
<circle cx="90.1" cy="63.0" r="1.75" fill="#c06a2a"/>
<circle cx="90.1" cy="65.0" r="1.75" fill="#c06a2a"/>
<circle cx="90.1" cy="67.5" r="1.75" fill="#c06a2a"/>
<circle cx="90.1" cy="69.0" r="1.75" fill="#c06a2a"/>
<circle cx="266.2" cy="117.2" r="1.8" fill="#c06a2a"/>
<circle cx="349.6" cy="111.6" r="1.8" fill="#73c5aa"/>
<line x1="28.5" y1="118.0" x2="436" y2="118.0" stroke="#4d4d4d" stroke-width="1.15" stroke-dasharray="2.9 2.65"/>
<line x1="28.0" y1="28.0" x2="28.0" y2="178.0" stroke="#8a8a8a" stroke-width="1"/>
<line x1="25" y1="178.0" x2="28.0" y2="178.0" stroke="#8a8a8a" stroke-width="1"/>
<text x="22.6" y="180.9" font-size="9.7" text-anchor="end" fill="#231f20">0</text>
<line x1="25" y1="128.0" x2="28.0" y2="128.0" stroke="#8a8a8a" stroke-width="1"/>
<text x="22.6" y="130.9" font-size="9.7" text-anchor="end" fill="#231f20">5</text>
<line x1="25" y1="78.0" x2="28.0" y2="78.0" stroke="#8a8a8a" stroke-width="1"/>
<text x="22.6" y="80.9" font-size="9.7" text-anchor="end" fill="#231f20">10</text>
<line x1="25" y1="28.0" x2="28.0" y2="28.0" stroke="#8a8a8a" stroke-width="1"/>
<text x="22.6" y="30.9" font-size="9.7" text-anchor="end" fill="#231f20">15</text>
<line x1="27.6" y1="184.6" x2="436.5" y2="184.6" stroke="#8a8a8a" stroke-width="1.1"/>
<line x1="27.6" y1="184.6" x2="27.6" y2="187.6" stroke="#8a8a8a" stroke-width="1"/>
<line x1="45.6" y1="184.6" x2="45.6" y2="187.4" stroke="#8a8a8a" stroke-width="0.9"/>
<text x="45.6" y="197.8" font-size="9.6" text-anchor="middle" fill="#231f20">1</text>
<line x1="77.4" y1="184.6" x2="77.4" y2="187.4" stroke="#8a8a8a" stroke-width="0.9"/>
<text x="77.4" y="197.8" font-size="9.6" text-anchor="middle" fill="#231f20">2</text>
<line x1="106.6" y1="184.6" x2="106.6" y2="187.4" stroke="#8a8a8a" stroke-width="0.9"/>
<text x="106.6" y="197.8" font-size="9.6" text-anchor="middle" fill="#231f20">3</text>
<line x1="132.4" y1="184.6" x2="132.4" y2="187.4" stroke="#8a8a8a" stroke-width="0.9"/>
<text x="132.4" y="197.8" font-size="9.6" text-anchor="middle" fill="#231f20">4</text>
<line x1="157.4" y1="184.6" x2="157.4" y2="187.4" stroke="#8a8a8a" stroke-width="0.9"/>
<text x="157.4" y="197.8" font-size="9.6" text-anchor="middle" fill="#231f20">5</text>
<line x1="181.2" y1="184.6" x2="181.2" y2="187.4" stroke="#8a8a8a" stroke-width="0.9"/>
<text x="181.2" y="197.8" font-size="9.6" text-anchor="middle" fill="#231f20">6</text>
<line x1="203.8" y1="184.6" x2="203.8" y2="187.4" stroke="#8a8a8a" stroke-width="0.9"/>
<text x="203.8" y="197.8" font-size="9.6" text-anchor="middle" fill="#231f20">7</text>
<line x1="224.7" y1="184.6" x2="224.7" y2="187.4" stroke="#8a8a8a" stroke-width="0.9"/>
<text x="224.7" y="197.8" font-size="9.6" text-anchor="middle" fill="#231f20">8</text>
<line x1="244.8" y1="184.6" x2="244.8" y2="187.4" stroke="#8a8a8a" stroke-width="0.9"/>
<text x="244.8" y="197.8" font-size="9.6" text-anchor="middle" fill="#231f20">9</text>
<line x1="263.9" y1="184.6" x2="263.9" y2="187.4" stroke="#8a8a8a" stroke-width="0.9"/>
<text x="263.9" y="197.8" font-size="9.6" text-anchor="middle" fill="#231f20">10</text>
<line x1="282.8" y1="184.6" x2="282.8" y2="187.4" stroke="#8a8a8a" stroke-width="0.9"/>
<text x="282.8" y="197.8" font-size="9.6" text-anchor="middle" fill="#231f20">11</text>
<line x1="301.6" y1="184.6" x2="301.6" y2="187.4" stroke="#8a8a8a" stroke-width="0.9"/>
<text x="301.6" y="197.8" font-size="9.6" text-anchor="middle" fill="#231f20">12</text>
<line x1="319.6" y1="184.6" x2="319.6" y2="187.4" stroke="#8a8a8a" stroke-width="0.9"/>
<text x="319.6" y="197.8" font-size="9.6" text-anchor="middle" fill="#231f20">13</text>
<line x1="335.6" y1="184.6" x2="335.6" y2="187.4" stroke="#8a8a8a" stroke-width="0.9"/>
<text x="335.6" y="197.8" font-size="9.6" text-anchor="middle" fill="#231f20">14</text>
<line x1="351.0" y1="184.6" x2="351.0" y2="187.4" stroke="#8a8a8a" stroke-width="0.9"/>
<text x="351.0" y="197.8" font-size="9.6" text-anchor="middle" fill="#231f20">15</text>
<line x1="365.6" y1="184.6" x2="365.6" y2="187.4" stroke="#8a8a8a" stroke-width="0.9"/>
<text x="365.6" y="197.8" font-size="9.6" text-anchor="middle" fill="#231f20">16</text>
<line x1="379.0" y1="184.6" x2="379.0" y2="187.4" stroke="#8a8a8a" stroke-width="0.9"/>
<text x="379.0" y="197.8" font-size="9.6" text-anchor="middle" fill="#231f20">17</text>
<line x1="391.8" y1="184.6" x2="391.8" y2="187.4" stroke="#8a8a8a" stroke-width="0.9"/>
<text x="391.8" y="197.8" font-size="9.6" text-anchor="middle" fill="#231f20">18</text>
<line x1="403.6" y1="184.6" x2="403.6" y2="187.4" stroke="#8a8a8a" stroke-width="0.9"/>
<text x="403.6" y="197.8" font-size="9.6" text-anchor="middle" fill="#231f20">19</text>
<line x1="414.6" y1="184.6" x2="414.6" y2="187.4" stroke="#8a8a8a" stroke-width="0.9"/>
<line x1="424.3" y1="184.6" x2="424.3" y2="187.4" stroke="#8a8a8a" stroke-width="0.9"/>
<text x="424.3" y="197.8" font-size="9.6" text-anchor="middle" fill="#231f20">21</text>
<line x1="433.7" y1="184.6" x2="433.7" y2="187.4" stroke="#8a8a8a" stroke-width="0.9"/>
<text x="27.2" y="197.8" font-size="9.6" text-anchor="middle" fill="#231f20">chr</text>
<text transform="translate(8.6 104.7) rotate(-90)" font-size="9.4" text-anchor="middle" fill="#231f20">-log10(P-value)</text>
<text x="38.6" y="18.1" font-size="9.0" font-weight="bold" fill="#231f20">CLL</text>
<g>
<path d="M30.1 414.0 L30.1 362.8 L30.8 364.8 L31.5 363.4 L32.2 361.4 L32.9 367.1 L33.6 367.9 L34.3 366.5 L35.0 368.6 L35.7 368.2 L36.4 366.3 L37.1 367.4 L37.8 366.9 L38.5 365.3 L39.2 364.2 L39.9 357.9 L40.6 363.5 L41.3 366.3 L42.0 365.7 L42.7 360.5 L43.4 362.4 L44.1 357.9 L44.8 356.1 L45.5 358.1 L46.2 365.4 L46.9 357.4 L47.6 363.7 L48.3 365.8 L49.0 365.9 L49.7 358.6 L50.4 364.9 L51.1 364.9 L51.8 364.2 L52.5 356.9 L53.2 363.6 L53.9 361.2 L54.6 367.0 L55.3 365.6 L56.0 366.8 L56.7 367.4 L57.4 363.5 L58.1 366.4 L58.8 367.6 L59.5 358.5 L60.2 365.7 L60.9 367.6 L61.6 367.6 L61.6 414.0ZM93.7 414.0 L93.7 368.4 L94.4 360.1 L95.1 370.9 L95.8 362.6 L96.6 366.9 L97.3 373.4 L98.0 366.5 L98.7 368.4 L99.4 362.2 L100.1 367.5 L100.8 369.7 L101.6 362.4 L102.3 372.5 L103.0 365.7 L103.7 372.4 L104.4 371.9 L105.1 373.2 L105.8 365.3 L106.6 371.9 L107.3 367.5 L108.0 371.5 L108.7 364.9 L109.4 365.3 L110.1 370.0 L110.8 368.0 L111.5 365.7 L112.3 371.6 L113.0 367.1 L113.7 370.5 L114.4 369.3 L115.1 360.9 L115.8 360.4 L116.5 359.0 L117.3 367.7 L118.0 365.2 L118.7 360.8 L119.4 361.5 L119.4 414.0ZM145.8 414.0 L145.8 370.8 L146.5 369.0 L147.2 365.1 L147.9 371.7 L148.6 370.9 L149.3 371.7 L150.0 371.2 L150.7 368.9 L151.4 365.6 L152.1 370.3 L152.8 364.4 L153.5 362.5 L154.2 368.3 L154.9 364.1 L155.6 370.3 L156.3 368.5 L157.0 368.4 L157.8 363.7 L158.5 366.0 L159.2 369.9 L159.9 366.3 L160.6 370.3 L161.3 361.8 L162.0 368.1 L162.7 367.6 L163.4 363.7 L164.1 366.3 L164.8 370.3 L165.5 366.3 L166.2 372.5 L166.9 371.9 L167.6 364.4 L168.3 370.3 L169.0 367.7 L169.0 414.0ZM193.5 414.0 L193.5 359.1 L194.2 358.3 L194.9 363.6 L195.6 362.8 L196.4 363.7 L197.1 362.2 L197.8 363.3 L198.5 362.6 L199.2 357.8 L199.9 362.6 L200.6 356.0 L201.3 356.3 L202.1 357.5 L202.8 357.0 L203.5 357.2 L204.2 360.5 L204.9 360.3 L205.6 358.5 L206.3 360.4 L207.1 356.4 L207.8 356.0 L208.5 361.6 L209.2 360.4 L209.9 360.7 L210.6 355.8 L211.3 355.5 L212.0 360.5 L212.8 362.5 L213.5 354.5 L214.2 358.4 L214.9 358.3 L214.9 414.0ZM235.5 414.0 L235.5 369.4 L236.2 368.7 L236.9 369.3 L237.6 365.5 L238.3 366.4 L239.0 368.0 L239.7 363.8 L240.4 368.0 L241.1 368.6 L241.8 363.6 L242.5 364.5 L243.2 385.0 L243.9 361.6 L244.6 357.6 L245.3 358.9 L246.0 360.3 L246.7 359.0 L247.4 360.3 L248.1 358.3 L248.8 355.6 L249.5 357.5 L250.2 359.8 L250.9 357.1 L251.6 356.1 L252.3 358.7 L253.0 353.7 L253.7 357.9 L254.4 357.1 L254.4 414.0ZM274.1 414.0 L274.1 353.2 L274.8 358.6 L275.5 356.7 L276.2 356.9 L276.9 358.1 L277.6 354.4 L278.3 358.9 L279.0 359.2 L279.7 359.8 L280.4 355.8 L281.1 359.5 L281.8 360.9 L282.5 359.8 L283.2 357.6 L284.0 355.6 L284.7 360.1 L285.4 356.4 L286.1 359.6 L286.8 358.9 L287.5 359.5 L288.2 359.5 L288.9 354.4 L289.6 355.7 L290.3 355.9 L291.0 357.8 L291.7 357.7 L292.4 360.1 L292.4 414.0ZM314.0 414.0 L314.0 369.6 L314.7 371.8 L315.4 371.6 L316.1 371.0 L316.8 370.7 L317.5 366.2 L318.2 369.7 L318.9 366.7 L319.6 370.1 L320.3 370.3 L321.0 369.9 L321.7 371.4 L322.4 365.0 L323.1 371.3 L323.8 370.2 L324.5 372.2 L325.2 369.0 L325.9 370.8 L326.6 370.8 L327.3 368.4 L328.0 369.2 L328.0 414.0ZM346.6 414.0 L346.6 355.6 L347.3 354.3 L348.0 355.8 L348.7 352.4 L349.4 351.4 L350.1 354.4 L350.8 354.4 L351.5 353.6 L352.2 354.2 L353.0 354.0 L353.7 354.2 L354.4 352.4 L355.1 353.8 L355.8 350.6 L356.5 350.3 L357.2 351.0 L357.9 350.6 L358.6 351.8 L358.6 414.0ZM373.1 414.0 L373.1 359.5 L373.8 357.8 L374.5 359.8 L375.3 358.6 L376.0 355.4 L376.7 358.9 L377.4 358.1 L378.2 358.4 L378.9 359.2 L379.6 359.2 L380.3 359.0 L381.1 360.2 L381.8 360.0 L382.5 358.7 L383.2 359.7 L384.0 360.6 L384.7 359.5 L385.4 360.2 L385.4 414.0ZM398.9 414.0 L398.9 343.8 L399.6 342.9 L400.3 341.6 L401.1 345.0 L401.8 343.6 L402.5 341.6 L403.2 344.1 L404.0 340.3 L404.7 339.9 L405.4 343.6 L406.1 344.3 L406.9 344.6 L407.6 344.6 L408.3 344.0 L408.3 414.0ZM421.1 414.0 L421.1 367.5 L421.8 370.7 L422.5 371.6 L423.2 367.2 L423.9 372.6 L424.6 367.4 L425.3 366.7 L426.0 368.7 L426.7 365.7 L427.4 368.9 L428.1 367.6 L428.1 414.0Z" fill="#0f6fae"/>
<path d="M62.4 414.0 L62.4 367.3 L63.1 360.9 L63.8 368.5 L64.5 364.3 L65.2 369.1 L65.9 369.9 L66.7 369.9 L67.4 368.6 L68.1 362.4 L68.8 369.5 L69.5 363.9 L70.2 368.5 L70.9 368.9 L71.6 364.5 L72.3 367.5 L73.0 367.7 L73.7 366.4 L74.5 362.5 L75.2 362.1 L75.9 365.6 L76.6 368.5 L77.3 364.2 L78.0 365.6 L78.7 361.8 L79.4 360.4 L80.1 366.0 L80.8 361.1 L81.6 361.7 L82.3 366.9 L83.0 367.3 L83.7 368.2 L84.4 368.9 L85.1 369.1 L85.8 370.0 L86.5 369.4 L87.2 363.2 L87.9 368.0 L88.6 366.1 L89.4 363.2 L90.1 365.0 L90.8 368.9 L91.5 362.8 L92.2 364.1 L92.9 361.4 L92.9 414.0ZM120.3 414.0 L120.3 355.9 L121.0 358.0 L121.7 355.1 L122.4 357.7 L123.1 355.6 L123.8 358.6 L124.5 359.9 L125.2 358.6 L125.9 358.3 L126.6 358.7 L127.3 358.8 L128.0 358.7 L128.7 358.8 L129.4 360.4 L130.1 360.2 L130.8 359.1 L131.5 359.0 L132.2 359.4 L132.9 358.0 L133.6 359.7 L134.3 358.0 L135.0 358.6 L135.7 356.1 L136.4 356.9 L137.1 356.8 L137.8 358.6 L138.5 359.4 L139.2 355.2 L139.9 357.8 L140.6 358.3 L141.3 358.5 L142.0 358.0 L142.7 356.0 L143.4 354.9 L144.1 357.0 L144.8 355.9 L144.8 414.0ZM170.2 414.0 L170.2 356.4 L170.9 354.7 L171.6 355.9 L172.3 355.3 L173.0 355.4 L173.7 354.9 L174.4 352.2 L175.1 354.7 L175.8 351.5 L176.5 355.2 L177.2 352.5 L177.9 356.3 L178.6 356.5 L179.3 356.0 L180.0 356.5 L180.7 355.2 L181.4 355.4 L182.1 356.2 L182.8 352.5 L183.5 356.0 L184.2 357.1 L184.9 352.4 L185.6 357.0 L186.3 356.9 L187.0 357.1 L187.7 357.0 L188.4 354.3 L189.1 355.1 L189.8 355.4 L190.5 356.1 L191.2 355.5 L191.9 350.5 L192.6 354.3 L192.6 414.0ZM215.6 414.0 L215.6 370.7 L216.3 368.9 L217.0 361.3 L217.7 366.3 L218.4 368.3 L219.1 358.9 L219.8 368.0 L220.5 361.6 L221.2 367.3 L221.9 368.9 L222.6 369.1 L223.3 365.9 L224.0 364.6 L224.7 367.9 L225.5 369.8 L226.2 370.7 L226.9 368.3 L227.6 370.9 L228.3 367.0 L229.0 363.2 L229.7 367.3 L230.4 368.6 L231.1 368.3 L231.8 362.7 L232.5 362.9 L233.2 370.6 L233.9 370.6 L234.6 370.5 L234.6 414.0ZM255.1 414.0 L255.1 364.0 L255.8 362.0 L256.5 357.3 L257.3 363.2 L258.0 365.3 L258.7 363.8 L259.4 364.1 L260.2 360.5 L260.9 360.6 L261.6 363.1 L262.3 363.0 L263.1 359.8 L263.8 358.5 L264.5 362.7 L265.2 363.0 L266.0 363.1 L266.7 363.9 L267.4 359.8 L268.1 357.2 L268.9 364.2 L269.6 361.9 L270.3 361.3 L271.0 360.3 L271.8 358.4 L272.5 360.5 L273.2 355.7 L273.2 414.0ZM293.3 414.0 L293.3 363.9 L294.0 366.9 L294.7 360.9 L295.4 366.8 L296.2 364.5 L296.9 365.5 L297.6 367.0 L298.3 358.8 L299.0 366.3 L299.7 366.6 L300.5 366.5 L301.2 363.2 L301.9 360.9 L302.6 364.6 L303.3 367.2 L304.0 364.7 L304.8 366.0 L305.5 361.2 L306.2 361.2 L306.9 364.4 L307.6 368.9 L308.3 365.2 L309.1 366.0 L309.8 367.4 L310.5 362.2 L311.2 368.0 L311.2 414.0ZM330.1 414.0 L330.1 358.1 L330.8 360.0 L331.6 354.9 L332.3 359.6 L333.0 356.0 L333.7 357.5 L334.5 357.7 L335.2 356.5 L335.9 360.2 L336.6 356.3 L337.4 358.8 L338.1 356.1 L338.8 354.2 L339.6 358.2 L340.3 357.7 L341.0 358.4 L341.7 359.4 L342.5 354.1 L343.2 356.1 L343.2 414.0ZM359.3 414.0 L359.3 355.8 L360.0 357.2 L360.7 354.7 L361.4 350.3 L362.1 356.5 L362.8 355.6 L363.5 352.1 L364.2 355.6 L364.9 357.9 L365.6 357.2 L366.4 353.0 L367.1 357.0 L367.8 356.4 L368.5 352.2 L369.2 352.9 L369.9 352.3 L370.6 356.1 L371.3 355.5 L372.0 351.8 L372.0 414.0ZM386.0 414.0 L386.0 370.5 L386.7 370.0 L387.4 369.8 L388.1 369.2 L388.8 371.1 L389.5 364.7 L390.2 369.0 L390.9 372.5 L391.6 369.7 L392.4 366.3 L393.1 372.0 L393.8 368.3 L394.5 363.5 L395.2 369.3 L395.9 364.2 L396.6 365.3 L397.3 369.8 L398.0 370.5 L398.0 414.0ZM409.2 414.0 L409.2 352.5 L409.9 353.9 L410.6 351.1 L411.4 354.1 L412.1 351.9 L412.8 353.0 L413.5 352.5 L414.2 351.9 L415.0 348.7 L415.7 348.6 L416.4 352.5 L417.1 348.5 L417.9 348.3 L418.6 351.2 L419.3 351.2 L419.3 414.0ZM430.7 414.0 L430.7 353.0 L431.4 355.0 L432.1 355.1 L432.9 353.4 L433.6 356.5 L434.3 356.8 L435.0 354.9 L435.8 356.0 L436.5 353.1 L437.2 352.9 L437.2 414.0Z" fill="#c06a2a"/>
<path d="M48.9 368.7h0M32.3 370.8h0M39.7 363.7h0M61.7 369.4h0M37.7 370.4h0M59.3 360.4h0M32.4 368.4h0M61.9 369.3h0M43.4 367.3h0M43.5 370.5h0M33.5 370.5h0M40.9 369.7h0M40.4 367.5h0M35.1 370.0h0M46.2 367.7h0M43.2 364.8h0M32.9 369.2h0M33.0 370.3h0M40.1 364.4h0M61.7 370.0h0M54.2 366.3h0M43.9 362.5h0M50.7 370.6h0M36.0 371.4h0M54.6 370.8h0M57.5 370.9h0M59.5 361.6h0M33.7 370.9h0M61.3 368.8h0M42.8 362.2h0M52.9 370.2h0M37.2 368.9h0M48.1 370.3h0M48.9 368.0h0M40.6 367.5h0M33.7 370.6h0M47.2 363.8h0M75.0 364.4h0M79.2 372.1h0M64.3 366.8h0M75.6 370.7h0M74.0 371.6h0M66.7 371.1h0M65.7 371.3h0M70.9 372.6h0M79.5 366.6h0M70.5 370.6h0M63.6 372.3h0M63.9 372.7h0M90.8 372.1h0M66.7 372.3h0M92.7 362.9h0M67.3 369.7h0M80.1 369.8h0M84.0 369.3h0M70.4 372.0h0M78.1 368.4h0M82.4 369.7h0M63.8 370.1h0M87.9 372.7h0M63.0 365.2h0M79.9 369.2h0M64.6 365.8h0M68.9 371.5h0M69.2 366.8h0M85.3 370.3h0M78.8 367.5h0M88.0 370.9h0M77.6 365.5h0M90.3 371.0h0M71.2 371.7h0M92.4 366.4h0M88.5 368.5h0M101.0 371.6h0M106.5 374.6h0M98.1 371.2h0M102.1 375.0h0M103.1 371.5h0M97.2 376.3h0M103.5 374.5h0M112.4 376.6h0M110.0 374.5h0M108.6 373.4h0M112.7 376.0h0M96.1 368.4h0M98.1 372.4h0M105.2 376.4h0M115.8 366.7h0M96.7 368.4h0M114.9 373.8h0M113.1 375.2h0M101.8 367.9h0M95.3 372.8h0M96.4 375.4h0M96.1 372.6h0M106.0 372.2h0M110.3 374.1h0M100.8 370.9h0M93.7 375.5h0M113.1 369.1h0M100.0 370.8h0M98.6 375.7h0M103.4 377.4h0M136.4 359.6h0M127.4 360.2h0M124.6 361.9h0M142.6 358.1h0M123.3 360.5h0M143.5 361.7h0M130.3 361.6h0M140.8 360.3h0M128.8 361.1h0M120.9 361.4h0M123.2 361.7h0M122.3 361.2h0M132.3 361.4h0M124.1 359.9h0M140.2 359.8h0M145.0 357.3h0M132.7 361.1h0M144.9 359.0h0M126.6 360.9h0M137.1 358.5h0M128.5 360.0h0M132.4 360.8h0M130.7 361.6h0M121.5 360.0h0M136.3 359.7h0M142.2 361.9h0M135.5 359.5h0M142.1 359.7h0M138.0 361.5h0M157.6 367.5h0M164.8 376.0h0M159.7 372.5h0M168.5 375.5h0M167.5 371.2h0M159.9 370.7h0M159.1 373.7h0M168.6 374.3h0M156.6 369.6h0M157.3 369.8h0M155.0 373.6h0M151.5 368.0h0M149.4 375.0h0M162.0 373.6h0M154.0 372.7h0M150.2 374.6h0M153.6 368.8h0M163.9 375.4h0M163.3 370.4h0M162.0 370.9h0M158.5 371.5h0M168.2 373.7h0M152.3 371.5h0M165.9 376.1h0M148.9 372.9h0M161.8 369.8h0M166.1 374.7h0M184.0 358.2h0M178.0 358.4h0M176.5 356.6h0M182.2 357.5h0M178.1 358.8h0M176.6 358.2h0M175.0 358.1h0M170.0 358.5h0M182.9 353.9h0M177.0 356.1h0M187.5 358.1h0M172.7 356.6h0M187.5 359.1h0M172.2 356.6h0M189.7 358.7h0M178.8 358.7h0M185.6 358.3h0M175.5 353.1h0M188.5 357.7h0M179.3 358.0h0M178.7 357.7h0M191.3 358.1h0M173.7 356.2h0M189.7 356.7h0M181.2 357.8h0M177.0 355.7h0M197.6 364.7h0M200.8 366.0h0M199.9 365.4h0M214.7 363.7h0M195.5 364.6h0M204.8 365.1h0M206.3 361.8h0M201.5 360.7h0M209.9 366.1h0M207.1 358.9h0M204.4 363.5h0M198.6 364.0h0M195.5 365.6h0M198.6 366.4h0M198.6 366.0h0M204.2 364.2h0M208.6 366.1h0M198.8 365.0h0M197.7 366.4h0M194.7 365.9h0M196.6 365.5h0M214.7 360.5h0M207.0 364.2h0M200.1 365.6h0M204.2 365.8h0M231.3 370.7h0M216.1 373.5h0M231.9 365.7h0M226.4 372.7h0M232.2 367.9h0M228.2 377.4h0M227.0 369.8h0M217.7 370.6h0M219.7 371.9h0M225.7 372.9h0M231.7 366.6h0M231.7 364.2h0M228.8 376.9h0M229.0 373.7h0M233.7 377.2h0M227.8 375.8h0M227.8 373.6h0M227.1 374.4h0M230.5 374.4h0M218.5 374.2h0M219.6 369.7h0M220.0 372.8h0M243.0 386.7h0M236.8 370.6h0M237.0 370.7h0M244.8 364.7h0M247.0 362.7h0M239.0 370.0h0M236.7 371.4h0M250.3 362.6h0M249.7 360.0h0M235.2 370.6h0M235.7 370.8h0M238.5 369.3h0M238.3 370.2h0M252.2 360.2h0M245.7 361.8h0M253.8 359.4h0M242.0 366.5h0M253.0 361.3h0M238.3 368.4h0M248.2 360.8h0M242.2 365.7h0M250.9 359.2h0M262.6 366.4h0M258.7 365.5h0M258.9 367.3h0M258.8 366.5h0M257.5 366.5h0M257.1 368.6h0M273.0 363.1h0M268.8 366.2h0M265.7 366.7h0M264.8 366.0h0M261.9 366.0h0M267.3 367.0h0M269.0 366.4h0M260.4 364.9h0M263.8 363.3h0M267.6 363.1h0M259.6 367.9h0M262.2 368.6h0M265.9 367.8h0M270.2 365.2h0M268.1 368.3h0M284.2 358.4h0M284.4 361.4h0M285.7 360.1h0M274.2 359.4h0M288.9 361.1h0M291.4 361.2h0M274.1 360.6h0M280.6 362.5h0M277.4 359.0h0M287.0 360.3h0M292.3 361.2h0M278.4 362.2h0M288.7 359.2h0M283.4 362.6h0M277.8 361.3h0M277.0 360.4h0M285.5 358.4h0M278.6 361.4h0M278.1 362.3h0M275.6 360.2h0M280.9 361.4h0M299.0 367.6h0M310.2 366.3h0M310.8 371.9h0M297.1 371.2h0M298.2 368.7h0M307.6 373.1h0M304.9 370.5h0M293.8 368.7h0M304.8 372.4h0M303.1 368.9h0M300.2 368.9h0M295.3 370.9h0M307.2 367.7h0M300.2 368.1h0M311.4 369.8h0M298.1 364.1h0M297.3 369.3h0M296.4 367.8h0M293.0 365.2h0M296.7 370.9h0M295.3 372.6h0M315.6 373.8h0M325.7 372.4h0M326.0 373.4h0M318.8 370.7h0M323.1 373.7h0M317.5 372.7h0M322.3 373.4h0M314.9 374.0h0M320.1 374.0h0M317.0 372.0h0M315.0 372.8h0M323.2 373.3h0M324.9 371.5h0M324.4 374.4h0M316.1 372.9h0M323.7 372.6h0M335.9 363.5h0M333.3 358.2h0M334.2 359.8h0M338.4 361.8h0M339.6 362.3h0M332.4 362.6h0M339.5 360.5h0M335.2 360.2h0M339.4 361.4h0M340.8 362.7h0M333.9 359.0h0M335.0 358.0h0M335.2 358.3h0M343.0 358.3h0M331.5 357.9h0M346.8 357.0h0M356.4 351.7h0M355.8 353.3h0M350.5 357.6h0M356.5 353.3h0M349.7 356.9h0M351.5 357.3h0M355.5 352.6h0M354.4 353.6h0M358.4 355.1h0M349.9 356.0h0M356.6 351.7h0M358.5 354.8h0M348.2 357.2h0M370.8 359.8h0M364.7 359.7h0M369.1 354.5h0M359.2 357.6h0M371.6 357.3h0M361.7 353.4h0M369.8 355.2h0M371.0 357.7h0M369.8 354.0h0M361.6 352.3h0M360.6 356.5h0M360.1 358.6h0M369.4 357.2h0M366.5 356.2h0M367.8 358.4h0M378.0 360.3h0M381.5 362.4h0M381.3 362.2h0M373.8 360.0h0M375.9 357.6h0M383.9 362.3h0M377.7 360.9h0M376.9 362.3h0M384.7 362.0h0M385.3 361.8h0M384.7 360.9h0M382.0 361.7h0M376.0 360.6h0M373.8 360.5h0M396.4 366.6h0M396.5 370.6h0M394.7 374.7h0M390.2 370.5h0M397.3 374.5h0M388.0 371.1h0M389.7 366.4h0M396.5 368.8h0M387.9 375.1h0M392.5 369.4h0M388.6 372.6h0M388.6 374.5h0M391.9 371.0h0M392.6 369.6h0M405.6 345.5h0M399.0 346.1h0M402.3 343.3h0M399.6 346.5h0M404.5 342.3h0M405.2 345.7h0M400.6 343.2h0M406.4 345.4h0M403.8 342.8h0M405.2 345.8h0M404.2 344.0h0M414.1 354.2h0M414.4 354.7h0M415.4 351.5h0M410.9 355.2h0M417.6 350.2h0M410.5 352.2h0M412.0 353.0h0M414.3 353.8h0M417.6 353.7h0M419.6 353.1h0M409.0 353.7h0M415.7 350.8h0M426.7 369.7h0M426.2 369.8h0M421.8 372.9h0M424.8 370.4h0M427.9 369.5h0M425.5 372.7h0M424.5 371.9h0M425.1 373.3h0M430.6 357.1h0M437.1 357.1h0M437.3 358.7h0M431.9 356.2h0M432.9 356.9h0M433.6 358.1h0M431.1 356.8h0" stroke="#fff" stroke-opacity="0.85" stroke-width="1.1" stroke-linecap="round" fill="none"/>
<path d="M30.1 362.8h0M30.8 364.8h0M31.5 363.4h0M32.2 361.4h0M32.9 367.1h0M33.6 367.9h0M34.3 366.5h0M35.0 368.6h0M35.7 368.2h0M36.4 366.3h0M37.1 367.4h0M37.8 366.9h0M38.5 365.3h0M39.2 364.2h0M39.9 357.9h0M40.6 363.5h0M41.3 366.3h0M42.0 365.7h0M42.7 360.5h0M43.4 362.4h0M44.1 357.9h0M44.8 356.1h0M45.5 358.1h0M46.2 365.4h0M46.9 357.4h0M47.6 363.7h0M48.3 365.8h0M49.0 365.9h0M49.7 358.6h0M50.4 364.9h0M51.1 364.9h0M51.8 364.2h0M52.5 356.9h0M53.2 363.6h0M53.9 361.2h0M54.6 367.0h0M55.3 365.6h0M56.0 366.8h0M56.7 367.4h0M57.4 363.5h0M58.1 366.4h0M58.8 367.6h0M59.5 358.5h0M60.2 365.7h0M60.9 367.6h0M61.6 367.6h0M59.0 348.7h0M58.8 354.4h0M54.0 351.0h0M59.6 352.2h0M36.3 349.1h0M44.3 348.1h0M46.3 356.0h0M60.7 358.6h0M33.6 350.8h0M42.7 360.1h0M38.3 362.7h0M38.9 361.3h0M59.9 362.4h0M50.9 359.6h0M52.8 349.9h0M60.6 356.9h0M39.0 359.3h0M43.8 358.1h0M40.3 350.1h0M31.4 360.7h0M59.7 353.6h0M36.9 351.1h0M36.5 364.4h0M50.4 358.1h0M46.6 356.5h0M34.8 363.7h0M36.1 367.5h0M44.4 357.8h0M39.8 357.8h0M49.9 357.4h0M55.4 349.8h0M42.4 354.4h0M33.9 348.1h0M34.7 348.5h0M32.7 346.2h0M35.6 360.8h0M43.6 354.3h0M52.6 354.1h0M51.9 356.8h0M46.5 346.3h0M38.4 357.4h0M41.4 365.3h0M58.6 363.8h0M53.0 350.5h0M57.5 362.4h0M44.3 357.9h0M51.0 352.7h0M59.1 361.8h0M44.3 356.9h0M48.7 346.0h0M53.8 346.0h0M39.8 351.0h0M47.0 349.7h0M36.1 357.8h0M41.7 359.5h0M47.7 355.1h0M51.2 347.0h0M55.3 362.5h0M48.9 351.5h0M60.5 356.4h0M37.0 366.9h0M58.3 350.9h0M58.6 365.7h0M56.4 365.7h0M43.5 361.7h0M33.0 350.6h0M55.6 348.8h0M56.7 354.8h0M41.6 351.9h0M37.5 365.1h0M37.6 364.9h0M40.2 363.1h0M34.0 367.2h0M44.5 354.5h0M42.6 356.4h0M41.2 347.7h0M41.0 366.0h0M57.0 345.8h0M35.9 355.0h0M44.8 355.8h0M57.0 359.5h0M32.4 349.4h0M48.9 354.4h0M39.7 357.8h0M50.8 357.2h0M38.7 360.4h0M50.6 363.4h0M33.9 362.0h0M48.7 364.8h0M55.8 350.8h0M50.2 363.1h0M31.6 310.2h0M31.6 314.6h0M31.6 316.8h0M32.0 330.0h0M33.0 340.2h0M39.7 336.0h0M42.6 342.4h0M50.6 324.0h0M50.6 327.4h0M57.2 333.8h0M57.2 344.5h0M51.4 340.7h0M37.0 344.5h0M45.0 342.4h0M41.0 337.0h0M93.7 368.4h0M94.4 360.1h0M95.1 370.9h0M95.8 362.6h0M96.6 366.9h0M97.3 373.4h0M98.0 366.5h0M98.7 368.4h0M99.4 362.2h0M100.1 367.5h0M100.8 369.7h0M101.6 362.4h0M102.3 372.5h0M103.0 365.7h0M103.7 372.4h0M104.4 371.9h0M105.1 373.2h0M105.8 365.3h0M106.6 371.9h0M107.3 367.5h0M108.0 371.5h0M108.7 364.9h0M109.4 365.3h0M110.1 370.0h0M110.8 368.0h0M111.5 365.7h0M112.3 371.6h0M113.0 367.1h0M113.7 370.5h0M114.4 369.3h0M115.1 360.9h0M115.8 360.4h0M116.5 359.0h0M117.3 367.7h0M118.0 365.2h0M118.7 360.8h0M119.4 361.5h0M114.5 366.3h0M115.5 360.9h0M100.4 365.1h0M118.2 348.1h0M109.5 362.0h0M104.2 364.3h0M113.7 370.2h0M94.9 360.9h0M97.5 369.4h0M101.9 354.9h0M98.8 352.1h0M105.0 372.1h0M103.7 355.3h0M104.9 373.0h0M101.2 359.9h0M96.7 360.2h0M113.5 365.4h0M115.4 353.4h0M110.6 362.5h0M117.6 348.9h0M100.9 369.2h0M107.9 370.5h0M99.7 358.0h0M105.9 365.0h0M116.0 354.8h0M100.7 369.4h0M111.2 346.7h0M99.4 360.5h0M108.6 358.5h0M108.2 368.3h0M114.1 366.9h0M110.2 348.2h0M110.1 348.9h0M102.3 352.2h0M101.4 355.8h0M107.1 355.9h0M96.5 365.6h0M96.3 360.7h0M98.9 366.7h0M98.8 348.8h0M102.4 358.0h0M112.6 364.9h0M116.5 348.2h0M118.2 365.2h0M102.7 350.3h0M103.4 349.1h0M105.9 354.1h0M108.1 367.0h0M112.7 354.6h0M105.8 361.1h0M94.8 346.1h0M113.1 357.3h0M100.7 365.8h0M99.3 348.8h0M105.2 372.1h0M99.8 359.2h0M98.4 361.9h0M115.8 355.6h0M104.3 369.9h0M109.2 365.1h0M115.2 357.7h0M115.3 359.9h0M95.8 357.7h0M95.2 369.7h0M96.4 353.7h0M97.1 373.1h0M106.9 353.8h0M113.5 369.7h0M107.2 348.5h0M98.1 362.0h0M100.9 362.9h0M99.5 341.7h0M111.2 342.4h0M118.5 348.8h0M104.0 346.6h0M108.0 344.5h0M145.8 370.8h0M146.5 369.0h0M147.2 365.1h0M147.9 371.7h0M148.6 370.9h0M149.3 371.7h0M150.0 371.2h0M150.7 368.9h0M151.4 365.6h0M152.1 370.3h0M152.8 364.4h0M153.5 362.5h0M154.2 368.3h0M154.9 364.1h0M155.6 370.3h0M156.3 368.5h0M157.0 368.4h0M157.8 363.7h0M158.5 366.0h0M159.2 369.9h0M159.9 366.3h0M160.6 370.3h0M161.3 361.8h0M162.0 368.1h0M162.7 367.6h0M163.4 363.7h0M164.1 366.3h0M164.8 370.3h0M165.5 366.3h0M166.2 372.5h0M166.9 371.9h0M167.6 364.4h0M168.3 370.3h0M169.0 367.7h0M164.7 369.7h0M153.7 354.7h0M152.8 360.2h0M165.6 362.4h0M149.6 354.2h0M154.2 354.9h0M150.0 369.9h0M159.3 362.8h0M153.7 360.7h0M167.1 352.5h0M153.0 363.9h0M149.7 364.1h0M147.7 370.5h0M156.9 368.2h0M167.3 364.4h0M166.0 370.9h0M163.8 365.3h0M150.0 365.8h0M146.9 368.0h0M147.1 362.7h0M163.2 361.2h0M164.8 364.4h0M166.7 357.6h0M163.8 366.2h0M154.9 359.5h0M156.7 363.5h0M150.4 366.0h0M165.2 370.2h0M167.7 355.1h0M167.1 356.1h0M165.0 359.8h0M154.7 361.8h0M159.9 365.2h0M148.3 361.6h0M158.1 364.4h0M152.5 357.2h0M149.0 368.7h0M162.1 361.3h0M150.4 364.6h0M168.0 362.1h0M165.1 367.0h0M154.1 360.8h0M162.6 358.1h0M158.0 359.2h0M165.3 353.7h0M152.1 358.9h0M157.6 358.9h0M152.8 353.2h0M156.0 368.4h0M148.9 367.1h0M159.5 365.8h0M148.3 358.1h0M163.2 357.2h0M146.8 366.2h0M166.6 371.9h0M168.1 370.1h0M149.4 363.6h0M148.3 357.5h0M164.0 360.8h0M160.1 366.2h0M150.1 362.1h0M159.2 356.0h0M150.0 364.1h0M155.0 357.3h0M150.0 346.6h0M152.2 342.4h0M155.0 340.2h0M159.6 339.0h0M162.0 339.2h0M165.1 339.8h0M167.0 344.5h0M147.6 350.9h0M193.5 359.1h0M194.2 358.3h0M194.9 363.6h0M195.6 362.8h0M196.4 363.7h0M197.1 362.2h0M197.8 363.3h0M198.5 362.6h0M199.2 357.8h0M199.9 362.6h0M200.6 356.0h0M201.3 356.3h0M202.1 357.5h0M202.8 357.0h0M203.5 357.2h0M204.2 360.5h0M204.9 360.3h0M205.6 358.5h0M206.3 360.4h0M207.1 356.4h0M207.8 356.0h0M208.5 361.6h0M209.2 360.4h0M209.9 360.7h0M210.6 355.8h0M211.3 355.5h0M212.0 360.5h0M212.8 362.5h0M213.5 354.5h0M214.2 358.4h0M214.9 358.3h0M208.7 361.4h0M198.3 361.5h0M201.4 345.7h0M202.7 356.8h0M194.8 363.2h0M209.9 343.7h0M202.9 352.0h0M207.5 344.6h0M206.3 343.5h0M200.4 354.4h0M204.4 360.5h0M204.3 359.5h0M194.5 358.2h0M200.1 346.9h0M198.5 360.4h0M213.5 350.8h0M194.4 357.7h0M197.9 359.8h0M209.7 360.5h0M205.5 355.2h0M195.3 357.4h0M194.5 355.4h0M209.7 356.6h0M198.3 357.7h0M197.3 357.6h0M209.5 349.9h0M196.4 354.2h0M202.3 357.4h0M200.3 353.1h0M205.4 348.0h0M205.5 357.4h0M211.9 360.5h0M209.5 349.3h0M209.8 355.7h0M206.5 358.5h0M210.0 354.5h0M204.3 348.5h0M214.1 343.6h0M210.2 351.6h0M202.2 351.0h0M204.0 349.3h0M205.7 357.6h0M213.2 351.6h0M200.1 350.6h0M208.0 347.4h0M207.2 355.6h0M205.6 357.8h0M213.9 356.5h0M200.3 354.6h0M206.1 356.9h0M199.6 351.0h0M196.7 361.3h0M210.6 354.6h0M213.4 345.3h0M210.8 349.3h0M205.5 351.3h0M198.4 360.1h0M206.4 295.4h0M198.8 319.1h0M203.0 331.7h0M209.1 336.0h0M209.1 340.2h0M200.0 342.4h0M235.5 369.4h0M236.2 368.7h0M236.9 369.3h0M237.6 365.5h0M238.3 366.4h0M239.0 368.0h0M239.7 363.8h0M240.4 368.0h0M241.1 368.6h0M241.8 363.6h0M242.5 364.5h0M243.2 385.0h0M243.9 361.6h0M244.6 357.6h0M245.3 358.9h0M246.0 360.3h0M246.7 359.0h0M247.4 360.3h0M248.1 358.3h0M248.8 355.6h0M249.5 357.5h0M250.2 359.8h0M250.9 357.1h0M251.6 356.1h0M252.3 358.7h0M253.0 353.7h0M253.7 357.9h0M254.4 357.1h0M241.8 362.5h0M240.8 359.4h0M252.9 349.6h0M252.6 350.0h0M248.2 358.2h0M247.9 355.5h0M240.4 364.0h0M252.9 353.7h0M241.6 357.7h0M237.5 360.0h0M253.3 353.0h0M237.8 357.5h0M249.7 356.4h0M240.9 368.5h0M251.9 354.2h0M243.3 378.6h0M242.8 364.5h0M239.3 357.1h0M246.7 358.6h0M247.1 359.5h0M246.7 358.7h0M251.5 353.1h0M238.6 359.8h0M253.4 353.6h0M252.7 353.0h0M251.3 354.4h0M239.2 365.7h0M238.3 365.3h0M238.7 367.6h0M243.6 361.5h0M238.3 363.0h0M243.8 358.4h0M246.6 351.0h0M237.8 362.6h0M253.1 348.7h0M247.9 358.2h0M242.4 362.7h0M247.1 359.9h0M252.9 347.9h0M241.0 368.2h0M252.1 358.4h0M243.1 384.7h0M249.7 356.3h0M242.7 364.3h0M242.8 364.1h0M250.9 352.6h0M243.4 378.8h0M239.2 321.0h0M248.7 330.9h0M252.0 329.6h0M252.0 336.0h0M246.5 340.2h0M250.0 344.5h0M274.1 353.2h0M274.8 358.6h0M275.5 356.7h0M276.2 356.9h0M276.9 358.1h0M277.6 354.4h0M278.3 358.9h0M279.0 359.2h0M279.7 359.8h0M280.4 355.8h0M281.1 359.5h0M281.8 360.9h0M282.5 359.8h0M283.2 357.6h0M284.0 355.6h0M284.7 360.1h0M285.4 356.4h0M286.1 359.6h0M286.8 358.9h0M287.5 359.5h0M288.2 359.5h0M288.9 354.4h0M289.6 355.7h0M290.3 355.9h0M291.0 357.8h0M291.7 357.7h0M292.4 360.1h0M288.1 354.2h0M291.3 353.7h0M281.5 350.9h0M275.8 348.6h0M276.4 353.7h0M279.3 359.6h0M288.2 358.4h0M278.7 357.3h0M285.3 349.2h0M278.0 348.4h0M288.5 359.3h0M290.8 357.3h0M281.1 348.4h0M281.8 360.5h0M289.4 355.7h0M278.2 356.1h0M290.2 346.2h0M278.9 348.6h0M290.2 355.1h0M286.7 358.7h0M276.1 356.7h0M275.1 358.5h0M289.7 355.1h0M290.0 347.1h0M285.1 352.3h0M282.3 357.6h0M288.5 353.1h0M277.6 345.6h0M283.6 354.4h0M285.8 357.9h0M286.9 353.6h0M282.0 351.8h0M286.3 359.3h0M276.6 350.1h0M287.9 359.5h0M284.4 355.1h0M281.7 360.0h0M288.7 353.2h0M283.1 355.9h0M276.5 348.5h0M290.4 350.7h0M288.0 347.4h0M287.8 299.1h0M287.8 307.6h0M287.8 317.6h0M287.8 323.8h0M287.8 328.5h0M282.3 336.0h0M276.4 339.2h0M285.0 342.4h0M314.0 369.6h0M314.7 371.8h0M315.4 371.6h0M316.1 371.0h0M316.8 370.7h0M317.5 366.2h0M318.2 369.7h0M318.9 366.7h0M319.6 370.1h0M320.3 370.3h0M321.0 369.9h0M321.7 371.4h0M322.4 365.0h0M323.1 371.3h0M323.8 370.2h0M324.5 372.2h0M325.2 369.0h0M325.9 370.8h0M326.6 370.8h0M327.3 368.4h0M328.0 369.2h0M321.1 369.9h0M316.4 365.7h0M321.0 365.2h0M324.1 370.0h0M315.9 365.8h0M326.2 367.7h0M324.3 369.7h0M317.1 356.5h0M321.5 371.3h0M320.2 366.5h0M320.0 367.6h0M315.5 364.8h0M315.8 365.7h0M324.5 356.3h0M324.1 369.3h0M324.4 369.8h0M317.9 369.7h0M325.9 355.8h0M317.2 366.2h0M322.5 359.7h0M324.8 366.3h0M325.5 362.9h0M315.4 370.9h0M315.2 354.9h0M323.0 370.8h0M326.8 370.8h0M315.7 358.3h0M316.2 368.7h0M321.3 356.5h0M315.0 358.3h0M318.5 359.7h0M315.6 364.8h0M322.7 361.8h0M315.3 343.7h0M324.8 333.0h0M324.8 338.1h0M318.0 348.8h0M320.0 353.0h0M346.6 355.6h0M347.3 354.3h0M348.0 355.8h0M348.7 352.4h0M349.4 351.4h0M350.1 354.4h0M350.8 354.4h0M351.5 353.6h0M352.2 354.2h0M353.0 354.0h0M353.7 354.2h0M354.4 352.4h0M355.1 353.8h0M355.8 350.6h0M356.5 350.3h0M357.2 351.0h0M357.9 350.6h0M358.6 351.8h0M351.2 346.6h0M352.3 352.0h0M355.8 347.7h0M357.0 350.9h0M355.8 345.8h0M353.2 349.6h0M347.6 353.7h0M349.5 350.5h0M347.7 345.8h0M350.7 351.4h0M351.1 353.7h0M349.0 351.3h0M348.7 351.4h0M355.2 353.7h0M355.4 350.3h0M354.0 345.3h0M355.4 353.7h0M350.9 354.1h0M350.5 351.5h0M354.7 353.4h0M349.1 348.7h0M357.6 349.4h0M357.5 344.7h0M351.1 351.8h0M350.5 347.9h0M356.3 347.3h0M350.0 351.7h0M348.2 345.5h0M352.9 353.9h0M354.7 346.8h0M352.2 354.1h0M349.1 351.3h0M351.1 322.7h0M351.1 333.8h0M355.2 342.4h0M355.2 346.6h0M373.1 359.5h0M373.8 357.8h0M374.5 359.8h0M375.3 358.6h0M376.0 355.4h0M376.7 358.9h0M377.4 358.1h0M378.2 358.4h0M378.9 359.2h0M379.6 359.2h0M380.3 359.0h0M381.1 360.2h0M381.8 360.0h0M382.5 358.7h0M383.2 359.7h0M384.0 360.6h0M384.7 359.5h0M385.4 360.2h0M382.2 351.7h0M378.2 354.1h0M377.6 353.1h0M374.1 354.4h0M380.1 351.2h0M383.3 359.4h0M378.5 358.3h0M383.4 358.7h0M375.9 351.6h0M380.5 355.2h0M373.9 356.2h0M378.7 348.8h0M382.8 349.3h0M375.0 349.0h0M375.1 356.9h0M381.2 360.2h0M384.3 356.3h0M381.6 359.7h0M383.1 358.6h0M376.8 355.6h0M376.2 355.4h0M379.5 359.1h0M377.9 349.0h0M379.2 355.5h0M376.3 353.5h0M374.3 354.0h0M373.9 355.3h0M383.6 321.0h0M383.6 324.7h0M383.6 336.8h0M383.6 341.3h0M383.6 347.7h0M398.9 343.8h0M399.6 342.9h0M400.3 341.6h0M401.1 345.0h0M401.8 343.6h0M402.5 341.6h0M403.2 344.1h0M404.0 340.3h0M404.7 339.9h0M405.4 343.6h0M406.1 344.3h0M406.9 344.6h0M407.6 344.6h0M408.3 344.0h0M406.7 334.2h0M400.7 339.9h0M406.4 344.1h0M400.7 341.2h0M401.9 342.3h0M400.7 344.8h0M405.9 344.2h0M405.4 342.0h0M407.2 344.1h0M405.1 336.0h0M404.6 334.0h0M406.5 341.9h0M406.8 341.2h0M402.9 342.2h0M404.7 339.3h0M403.4 342.3h0M407.0 343.8h0M400.7 344.4h0M400.2 334.8h0M402.9 338.3h0M400.0 306.1h0M401.4 322.1h0M401.4 324.2h0M406.0 332.8h0M406.0 336.0h0M421.1 367.5h0M421.8 370.7h0M422.5 371.6h0M423.2 367.2h0M423.9 372.6h0M424.6 367.4h0M425.3 366.7h0M426.0 368.7h0M426.7 365.7h0M427.4 368.9h0M428.1 367.6h0M427.3 368.5h0M426.0 368.7h0M423.8 370.2h0M426.6 363.7h0M425.1 365.4h0M424.1 365.3h0M422.8 362.3h0M422.4 357.7h0M424.7 361.9h0M422.5 371.2h0M424.0 365.5h0M422.5 370.0h0M426.9 361.5h0M425.6 364.5h0M422.2 371.6h0M426.5 365.3h0M425.3 332.3h0M425.3 339.2h0M425.3 350.9h0" stroke="#0f6fae" stroke-width="2.8" stroke-linecap="round" fill="none"/>
<path d="M62.4 367.3h0M63.1 360.9h0M63.8 368.5h0M64.5 364.3h0M65.2 369.1h0M65.9 369.9h0M66.7 369.9h0M67.4 368.6h0M68.1 362.4h0M68.8 369.5h0M69.5 363.9h0M70.2 368.5h0M70.9 368.9h0M71.6 364.5h0M72.3 367.5h0M73.0 367.7h0M73.7 366.4h0M74.5 362.5h0M75.2 362.1h0M75.9 365.6h0M76.6 368.5h0M77.3 364.2h0M78.0 365.6h0M78.7 361.8h0M79.4 360.4h0M80.1 366.0h0M80.8 361.1h0M81.6 361.7h0M82.3 366.9h0M83.0 367.3h0M83.7 368.2h0M84.4 368.9h0M85.1 369.1h0M85.8 370.0h0M86.5 369.4h0M87.2 363.2h0M87.9 368.0h0M88.6 366.1h0M89.4 363.2h0M90.1 365.0h0M90.8 368.9h0M91.5 362.8h0M92.2 364.1h0M92.9 361.4h0M69.7 355.4h0M73.8 364.4h0M81.8 361.4h0M86.7 360.7h0M64.4 354.9h0M76.9 368.0h0M64.8 354.9h0M83.3 363.3h0M83.2 355.1h0M71.8 362.5h0M64.9 366.8h0M63.4 360.9h0M78.4 361.7h0M64.3 361.1h0M80.0 362.2h0M79.3 356.5h0M87.9 354.4h0M76.1 363.5h0M66.7 351.6h0M85.5 365.7h0M92.0 363.4h0M86.4 352.9h0M67.5 362.4h0M83.0 363.8h0M68.0 362.3h0M85.6 364.4h0M77.7 356.3h0M89.6 362.5h0M81.3 357.2h0M65.6 368.1h0M76.3 361.4h0M70.2 358.4h0M68.9 366.4h0M87.5 362.7h0M63.4 357.7h0M67.7 365.8h0M64.3 364.3h0M85.4 359.5h0M71.6 353.1h0M87.0 362.8h0M82.5 363.6h0M89.5 358.5h0M72.3 362.7h0M82.6 357.4h0M77.6 363.7h0M73.1 366.5h0M70.0 367.8h0M71.3 359.3h0M67.6 359.3h0M71.4 355.1h0M84.7 353.3h0M82.6 355.0h0M87.4 362.8h0M82.7 366.3h0M86.4 358.4h0M73.4 366.6h0M80.7 358.9h0M75.6 364.7h0M65.7 362.8h0M67.4 367.7h0M84.0 357.8h0M88.6 353.0h0M83.7 363.9h0M84.8 368.4h0M65.1 366.0h0M65.2 366.4h0M81.4 356.3h0M80.2 362.3h0M88.0 367.9h0M83.6 360.9h0M81.6 361.3h0M91.6 356.3h0M78.9 359.8h0M76.7 360.1h0M77.5 363.7h0M87.1 362.6h0M67.1 354.4h0M63.2 354.5h0M82.3 364.4h0M86.7 367.1h0M83.4 366.8h0M90.2 356.3h0M73.4 356.4h0M65.1 354.2h0M86.1 354.9h0M76.2 304.4h0M76.2 306.1h0M84.2 315.3h0M90.5 323.2h0M66.7 326.4h0M66.7 336.8h0M76.2 327.4h0M71.8 340.9h0M71.8 342.4h0M87.1 336.0h0M90.5 342.4h0M85.0 346.6h0M71.8 350.9h0M80.0 348.8h0M120.3 355.9h0M121.0 358.0h0M121.7 355.1h0M122.4 357.7h0M123.1 355.6h0M123.8 358.6h0M124.5 359.9h0M125.2 358.6h0M125.9 358.3h0M126.6 358.7h0M127.3 358.8h0M128.0 358.7h0M128.7 358.8h0M129.4 360.4h0M130.1 360.2h0M130.8 359.1h0M131.5 359.0h0M132.2 359.4h0M132.9 358.0h0M133.6 359.7h0M134.3 358.0h0M135.0 358.6h0M135.7 356.1h0M136.4 356.9h0M137.1 356.8h0M137.8 358.6h0M138.5 359.4h0M139.2 355.2h0M139.9 357.8h0M140.6 358.3h0M141.3 358.5h0M142.0 358.0h0M142.7 356.0h0M143.4 354.9h0M144.1 357.0h0M144.8 355.9h0M129.6 351.5h0M133.6 359.6h0M136.6 356.4h0M130.5 357.6h0M131.6 353.7h0M132.2 357.8h0M138.1 349.5h0M143.7 350.2h0M133.8 358.9h0M135.0 353.2h0M128.0 357.1h0M132.5 359.3h0M126.2 351.2h0M139.7 357.5h0M127.0 358.2h0M127.2 358.7h0M130.7 351.4h0M122.3 357.2h0M136.4 356.8h0M132.2 357.4h0M131.9 357.1h0M127.9 358.7h0M136.1 355.9h0M126.0 354.2h0M128.5 355.1h0M129.9 359.5h0M130.6 355.1h0M134.0 354.6h0M143.5 352.4h0M142.7 355.5h0M139.7 355.9h0M136.0 356.3h0M135.4 357.8h0M139.0 352.7h0M137.2 354.3h0M132.2 353.6h0M141.0 358.2h0M137.1 353.6h0M128.2 351.4h0M127.5 358.6h0M131.7 352.9h0M123.6 350.9h0M123.5 358.6h0M138.5 358.3h0M135.7 349.0h0M127.0 355.6h0M125.1 351.1h0M129.2 358.3h0M135.1 355.1h0M132.0 359.3h0M136.7 355.6h0M125.8 351.3h0M134.7 358.6h0M136.2 356.9h0M128.8 356.5h0M137.6 358.2h0M140.3 350.2h0M122.0 357.1h0M134.4 353.4h0M142.0 351.8h0M143.8 353.3h0M127.8 354.2h0M126.1 352.4h0M143.0 355.2h0M143.8 354.8h0M124.9 357.4h0M128.7 354.6h0M130.2 353.5h0M134.4 352.5h0M141.1 326.8h0M130.6 343.4h0M141.1 348.8h0M125.0 348.8h0M135.0 346.6h0M170.2 356.4h0M170.9 354.7h0M171.6 355.9h0M172.3 355.3h0M173.0 355.4h0M173.7 354.9h0M174.4 352.2h0M175.1 354.7h0M175.8 351.5h0M176.5 355.2h0M177.2 352.5h0M177.9 356.3h0M178.6 356.5h0M179.3 356.0h0M180.0 356.5h0M180.7 355.2h0M181.4 355.4h0M182.1 356.2h0M182.8 352.5h0M183.5 356.0h0M184.2 357.1h0M184.9 352.4h0M185.6 357.0h0M186.3 356.9h0M187.0 357.1h0M187.7 357.0h0M188.4 354.3h0M189.1 355.1h0M189.8 355.4h0M190.5 356.1h0M191.2 355.5h0M191.9 350.5h0M192.6 354.3h0M171.9 355.7h0M171.0 350.8h0M187.4 352.9h0M182.0 355.8h0M173.9 351.2h0M185.0 345.7h0M182.9 351.5h0M174.0 351.5h0M181.5 345.8h0M189.8 352.6h0M184.5 350.7h0M178.1 355.3h0M175.6 351.1h0M184.7 351.3h0M189.8 355.3h0M178.2 356.2h0M189.5 352.8h0M171.2 348.8h0M188.2 354.0h0M172.4 354.4h0M183.6 353.7h0M172.4 352.1h0M183.8 349.0h0M188.9 353.6h0M172.6 347.2h0M186.6 352.2h0M183.8 354.9h0M181.3 345.4h0M186.7 356.9h0M174.4 350.5h0M175.3 352.1h0M183.1 347.0h0M182.2 356.2h0M191.5 354.6h0M190.4 354.8h0M172.2 351.7h0M188.0 352.5h0M176.6 352.4h0M171.8 345.7h0M172.5 354.4h0M177.4 351.9h0M187.3 349.7h0M184.3 356.7h0M174.2 349.9h0M187.4 356.7h0M189.5 351.6h0M183.1 352.5h0M182.3 356.1h0M174.8 347.3h0M188.0 350.8h0M172.9 355.3h0M186.7 355.6h0M171.7 355.7h0M190.5 355.7h0M174.9 345.7h0M183.3 356.0h0M181.1 348.7h0M189.9 347.6h0M183.6 304.4h0M183.6 342.4h0M186.0 344.5h0M181.0 346.6h0M215.6 370.7h0M216.3 368.9h0M217.0 361.3h0M217.7 366.3h0M218.4 368.3h0M219.1 358.9h0M219.8 368.0h0M220.5 361.6h0M221.2 367.3h0M221.9 368.9h0M222.6 369.1h0M223.3 365.9h0M224.0 364.6h0M224.7 367.9h0M225.5 369.8h0M226.2 370.7h0M226.9 368.3h0M227.6 370.9h0M228.3 367.0h0M229.0 363.2h0M229.7 367.3h0M230.4 368.6h0M231.1 368.3h0M231.8 362.7h0M232.5 362.9h0M233.2 370.6h0M233.9 370.6h0M234.6 370.5h0M223.5 361.7h0M232.1 347.3h0M217.0 350.0h0M226.1 361.0h0M233.7 349.6h0M225.1 365.8h0M225.8 356.0h0M219.6 368.0h0M229.8 359.2h0M218.4 364.8h0M230.7 346.1h0M217.7 358.6h0M218.4 362.1h0M218.6 364.0h0M218.4 348.7h0M221.0 365.7h0M225.8 366.0h0M218.0 360.2h0M226.6 361.5h0M218.0 365.3h0M222.4 369.0h0M218.7 347.8h0M226.5 359.1h0M231.6 359.4h0M232.7 362.0h0M227.7 364.7h0M225.9 367.1h0M233.7 367.2h0M217.9 361.7h0M217.9 354.3h0M229.7 348.1h0M228.3 348.9h0M229.3 365.3h0M232.4 362.9h0M222.6 364.2h0M224.5 361.1h0M226.8 363.5h0M223.2 357.8h0M225.1 356.6h0M224.0 363.8h0M217.6 364.8h0M216.7 366.5h0M225.6 349.7h0M220.8 360.4h0M221.5 350.6h0M226.1 370.2h0M219.4 349.0h0M223.4 346.5h0M228.0 317.4h0M220.5 341.3h0M231.9 348.8h0M225.0 346.6h0M255.1 364.0h0M255.8 362.0h0M256.5 357.3h0M257.3 363.2h0M258.0 365.3h0M258.7 363.8h0M259.4 364.1h0M260.2 360.5h0M260.9 360.6h0M261.6 363.1h0M262.3 363.0h0M263.1 359.8h0M263.8 358.5h0M264.5 362.7h0M265.2 363.0h0M266.0 363.1h0M266.7 363.9h0M267.4 359.8h0M268.1 357.2h0M268.9 364.2h0M269.6 361.9h0M270.3 361.3h0M271.0 360.3h0M271.8 358.4h0M272.5 360.5h0M273.2 355.7h0M270.6 346.5h0M260.0 358.3h0M263.6 358.4h0M266.6 348.0h0M269.0 352.7h0M268.3 350.7h0M265.9 349.7h0M263.4 355.1h0M268.7 355.8h0M267.0 350.0h0M266.3 361.8h0M263.3 345.8h0M257.1 356.5h0M263.0 351.2h0M262.2 353.3h0M261.3 351.5h0M256.5 345.7h0M262.7 347.3h0M256.9 362.1h0M264.5 346.7h0M260.9 360.5h0M267.2 354.7h0M262.7 354.8h0M271.4 348.5h0M261.2 351.4h0M263.0 346.8h0M260.5 360.6h0M271.1 356.6h0M269.2 364.0h0M270.8 360.1h0M256.7 349.6h0M265.2 361.7h0M259.1 357.9h0M261.2 358.4h0M271.7 350.1h0M260.8 355.3h0M259.1 346.1h0M267.4 354.5h0M258.2 351.1h0M262.1 359.5h0M268.0 356.6h0M270.0 352.6h0M257.7 360.7h0M268.4 347.8h0M258.9 345.9h0M262.9 359.7h0M260.7 354.8h0M265.0 362.9h0M270.8 359.3h0M257.2 345.8h0M265.5 337.0h0M269.9 338.1h0M262.0 342.4h0M258.0 346.6h0M293.3 363.9h0M294.0 366.9h0M294.7 360.9h0M295.4 366.8h0M296.2 364.5h0M296.9 365.5h0M297.6 367.0h0M298.3 358.8h0M299.0 366.3h0M299.7 366.6h0M300.5 366.5h0M301.2 363.2h0M301.9 360.9h0M302.6 364.6h0M303.3 367.2h0M304.0 364.7h0M304.8 366.0h0M305.5 361.2h0M306.2 361.2h0M306.9 364.4h0M307.6 368.9h0M308.3 365.2h0M309.1 366.0h0M309.8 367.4h0M310.5 362.2h0M311.2 368.0h0M308.7 352.8h0M302.8 354.0h0M302.8 362.9h0M308.6 355.0h0M301.2 355.1h0M296.9 363.1h0M295.4 366.6h0M296.8 346.7h0M304.0 358.6h0M302.0 357.2h0M307.7 346.9h0M299.5 353.3h0M300.7 360.7h0M295.9 363.4h0M301.0 360.8h0M296.5 360.2h0M306.2 361.1h0M306.3 350.1h0M300.6 355.0h0M296.2 357.4h0M295.1 359.0h0M302.7 362.6h0M304.7 364.0h0M298.1 357.6h0M304.2 358.3h0M297.6 350.6h0M302.6 354.9h0M299.3 365.9h0M295.3 352.2h0M303.7 349.7h0M301.0 362.6h0M303.7 351.1h0M309.4 358.5h0M306.6 359.4h0M302.9 363.1h0M310.1 355.3h0M305.0 363.9h0M295.8 358.5h0M307.4 367.1h0M296.3 348.5h0M303.0 367.2h0M297.8 360.0h0M299.6 348.2h0M294.4 346.3h0M294.5 359.6h0M296.0 353.4h0M295.2 360.6h0M297.9 361.9h0M295.3 364.0h0M302.1 360.2h0M301.2 338.3h0M308.5 334.7h0M305.0 342.4h0M297.0 346.6h0M330.1 358.1h0M330.8 360.0h0M331.6 354.9h0M332.3 359.6h0M333.0 356.0h0M333.7 357.5h0M334.5 357.7h0M335.2 356.5h0M335.9 360.2h0M336.6 356.3h0M337.4 358.8h0M338.1 356.1h0M338.8 354.2h0M339.6 358.2h0M340.3 357.7h0M341.0 358.4h0M341.7 359.4h0M342.5 354.1h0M343.2 356.1h0M341.0 354.4h0M339.9 355.7h0M333.0 352.9h0M336.2 349.9h0M337.2 354.6h0M332.0 358.0h0M340.5 355.6h0M336.2 348.4h0M334.8 346.0h0M334.4 355.0h0M338.1 347.5h0M342.3 354.1h0M331.3 349.4h0M341.7 345.6h0M334.5 357.0h0M337.4 350.8h0M333.4 347.8h0M338.4 348.8h0M338.3 352.3h0M342.2 352.8h0M337.4 350.7h0M334.3 345.1h0M340.2 357.6h0M333.6 355.2h0M331.6 350.6h0M340.3 348.8h0M342.3 351.2h0M341.4 357.6h0M341.7 349.8h0M339.2 355.6h0M333.3 350.1h0M342.2 353.3h0M339.2 354.9h0M339.4 349.3h0M332.1 324.7h0M337.2 323.2h0M337.2 339.2h0M342.3 345.2h0M359.3 355.8h0M360.0 357.2h0M360.7 354.7h0M361.4 350.3h0M362.1 356.5h0M362.8 355.6h0M363.5 352.1h0M364.2 355.6h0M364.9 357.9h0M365.6 357.2h0M366.4 353.0h0M367.1 357.0h0M367.8 356.4h0M368.5 352.2h0M369.2 352.9h0M369.9 352.3h0M370.6 356.1h0M371.3 355.5h0M372.0 351.8h0M366.0 356.2h0M360.4 352.5h0M360.7 354.7h0M365.3 355.6h0M365.4 340.8h0M371.1 349.7h0M361.5 350.3h0M361.0 351.5h0M363.2 349.6h0M362.8 355.4h0M361.8 353.3h0M366.0 347.1h0M370.6 347.1h0M370.4 349.6h0M367.6 356.2h0M361.9 345.1h0M362.4 347.2h0M367.4 351.3h0M361.9 356.5h0M364.6 357.5h0M366.9 352.3h0M362.0 347.4h0M370.1 348.9h0M360.4 342.8h0M364.3 350.9h0M362.6 355.3h0M363.4 352.1h0M360.9 349.6h0M366.7 345.0h0M370.5 341.2h0M367.8 342.0h0M364.7 355.9h0M371.1 355.3h0M369.9 345.0h0M364.0 333.0h0M364.0 338.1h0M364.0 342.4h0M368.0 342.4h0M386.0 370.5h0M386.7 370.0h0M387.4 369.8h0M388.1 369.2h0M388.8 371.1h0M389.5 364.7h0M390.2 369.0h0M390.9 372.5h0M391.6 369.7h0M392.4 366.3h0M393.1 372.0h0M393.8 368.3h0M394.5 363.5h0M395.2 369.3h0M395.9 364.2h0M396.6 365.3h0M397.3 369.8h0M398.0 370.5h0M395.1 366.8h0M395.5 356.0h0M393.5 365.8h0M392.9 371.2h0M396.6 359.0h0M395.0 367.3h0M390.4 356.9h0M392.7 365.2h0M394.2 354.3h0M395.3 360.3h0M387.6 368.7h0M389.3 363.9h0M387.0 360.9h0M390.0 368.4h0M387.2 354.6h0M389.7 364.6h0M392.0 358.1h0M393.3 372.0h0M390.1 361.2h0M387.8 360.5h0M391.4 364.4h0M393.9 368.3h0M394.1 367.9h0M395.5 362.1h0M392.8 342.4h0M390.0 350.9h0M409.2 352.5h0M409.9 353.9h0M410.6 351.1h0M411.4 354.1h0M412.1 351.9h0M412.8 353.0h0M413.5 352.5h0M414.2 351.9h0M415.0 348.7h0M415.7 348.6h0M416.4 352.5h0M417.1 348.5h0M417.9 348.3h0M418.6 351.2h0M419.3 351.2h0M411.7 346.6h0M413.0 343.8h0M415.6 348.6h0M411.1 351.2h0M413.7 344.9h0M412.5 348.7h0M411.4 353.3h0M413.1 353.0h0M417.4 348.4h0M417.8 348.3h0M412.7 350.1h0M411.8 352.5h0M418.3 350.6h0M412.8 349.9h0M413.3 352.5h0M413.9 347.7h0M416.0 347.3h0M413.9 347.0h0M412.8 352.6h0M413.3 349.9h0M410.4 350.3h0M417.7 345.9h0M412.4 352.2h0M412.2 350.6h0M411.5 344.7h0M411.6 354.1h0M417.4 327.4h0M412.6 334.9h0M414.0 340.2h0M430.7 353.0h0M431.4 355.0h0M432.1 355.1h0M432.9 353.4h0M433.6 356.5h0M434.3 356.8h0M435.0 354.9h0M435.8 356.0h0M436.5 353.1h0M437.2 352.9h0M434.9 350.1h0M432.0 354.4h0M431.6 352.9h0M434.0 351.9h0M435.6 355.9h0M434.7 356.4h0M432.9 352.6h0M434.3 349.5h0M435.2 352.1h0M433.9 354.6h0M432.1 352.6h0M436.1 355.8h0M435.9 351.1h0M433.9 318.9h0M433.9 340.2h0M435.0 344.5h0" stroke="#c06a2a" stroke-width="2.8" stroke-linecap="round" fill="none"/>
<line x1="46.2" y1="361.6" x2="46.2" y2="390.6" stroke="#fff" stroke-opacity="0.85" stroke-width="0.9" stroke-dasharray="1.2 0.9"/>
<line x1="242.6" y1="365.9" x2="242.6" y2="405.3" stroke="#fff" stroke-opacity="0.85" stroke-width="0.9" stroke-dasharray="1.2 0.9"/>
</g>
<line x1="175.4" y1="281.6" x2="175.4" y2="355.2" stroke="#c06a2a" stroke-width="3.6" stroke-linecap="round"/>
<circle cx="90.4" cy="280.5" r="1.5" fill="#c06a2a"/>
<circle cx="90.4" cy="285.2" r="1.5" fill="#c06a2a"/>
<line x1="28.5" y1="284.8" x2="436" y2="284.8" stroke="#4d4d4d" stroke-width="1.15" stroke-dasharray="2.9 2.65"/>
<line x1="28.0" y1="263.4" x2="28.0" y2="412.8" stroke="#8a8a8a" stroke-width="1"/>
<line x1="25" y1="412.8" x2="28.0" y2="412.8" stroke="#8a8a8a" stroke-width="1"/>
<text x="22.6" y="415.7" font-size="9.7" text-anchor="end" fill="#231f20">0</text>
<line x1="25" y1="391.5" x2="28.0" y2="391.5" stroke="#8a8a8a" stroke-width="1"/>
<text x="22.6" y="394.4" font-size="9.7" text-anchor="end" fill="#231f20">1</text>
<line x1="25" y1="370.1" x2="28.0" y2="370.1" stroke="#8a8a8a" stroke-width="1"/>
<text x="22.6" y="373.0" font-size="9.7" text-anchor="end" fill="#231f20">2</text>
<line x1="25" y1="348.8" x2="28.0" y2="348.8" stroke="#8a8a8a" stroke-width="1"/>
<text x="22.6" y="351.7" font-size="9.7" text-anchor="end" fill="#231f20">3</text>
<line x1="25" y1="327.4" x2="28.0" y2="327.4" stroke="#8a8a8a" stroke-width="1"/>
<text x="22.6" y="330.3" font-size="9.7" text-anchor="end" fill="#231f20">4</text>
<line x1="25" y1="306.1" x2="28.0" y2="306.1" stroke="#8a8a8a" stroke-width="1"/>
<text x="22.6" y="309.0" font-size="9.7" text-anchor="end" fill="#231f20">5</text>
<line x1="25" y1="284.8" x2="28.0" y2="284.8" stroke="#8a8a8a" stroke-width="1"/>
<text x="22.6" y="287.7" font-size="9.7" text-anchor="end" fill="#231f20">6</text>
<line x1="25" y1="263.4" x2="28.0" y2="263.4" stroke="#8a8a8a" stroke-width="1"/>
<text x="22.6" y="266.3" font-size="9.7" text-anchor="end" fill="#231f20">7</text>
<line x1="27.6" y1="419.0" x2="436.5" y2="419.0" stroke="#8a8a8a" stroke-width="1.1"/>
<line x1="27.6" y1="419.0" x2="27.6" y2="422.0" stroke="#8a8a8a" stroke-width="1"/>
<line x1="45.6" y1="419.0" x2="45.6" y2="421.8" stroke="#8a8a8a" stroke-width="0.9"/>
<text x="45.6" y="432.2" font-size="9.6" text-anchor="middle" fill="#231f20">1</text>
<line x1="77.4" y1="419.0" x2="77.4" y2="421.8" stroke="#8a8a8a" stroke-width="0.9"/>
<text x="77.4" y="432.2" font-size="9.6" text-anchor="middle" fill="#231f20">2</text>
<line x1="106.6" y1="419.0" x2="106.6" y2="421.8" stroke="#8a8a8a" stroke-width="0.9"/>
<text x="106.6" y="432.2" font-size="9.6" text-anchor="middle" fill="#231f20">3</text>
<line x1="132.4" y1="419.0" x2="132.4" y2="421.8" stroke="#8a8a8a" stroke-width="0.9"/>
<text x="132.4" y="432.2" font-size="9.6" text-anchor="middle" fill="#231f20">4</text>
<line x1="157.4" y1="419.0" x2="157.4" y2="421.8" stroke="#8a8a8a" stroke-width="0.9"/>
<text x="157.4" y="432.2" font-size="9.6" text-anchor="middle" fill="#231f20">5</text>
<line x1="181.2" y1="419.0" x2="181.2" y2="421.8" stroke="#8a8a8a" stroke-width="0.9"/>
<text x="181.2" y="432.2" font-size="9.6" text-anchor="middle" fill="#231f20">6</text>
<line x1="203.8" y1="419.0" x2="203.8" y2="421.8" stroke="#8a8a8a" stroke-width="0.9"/>
<text x="203.8" y="432.2" font-size="9.6" text-anchor="middle" fill="#231f20">7</text>
<line x1="224.7" y1="419.0" x2="224.7" y2="421.8" stroke="#8a8a8a" stroke-width="0.9"/>
<text x="224.7" y="432.2" font-size="9.6" text-anchor="middle" fill="#231f20">8</text>
<line x1="244.8" y1="419.0" x2="244.8" y2="421.8" stroke="#8a8a8a" stroke-width="0.9"/>
<text x="244.8" y="432.2" font-size="9.6" text-anchor="middle" fill="#231f20">9</text>
<line x1="263.9" y1="419.0" x2="263.9" y2="421.8" stroke="#8a8a8a" stroke-width="0.9"/>
<text x="263.9" y="432.2" font-size="9.6" text-anchor="middle" fill="#231f20">10</text>
<line x1="282.8" y1="419.0" x2="282.8" y2="421.8" stroke="#8a8a8a" stroke-width="0.9"/>
<text x="282.8" y="432.2" font-size="9.6" text-anchor="middle" fill="#231f20">11</text>
<line x1="301.6" y1="419.0" x2="301.6" y2="421.8" stroke="#8a8a8a" stroke-width="0.9"/>
<text x="301.6" y="432.2" font-size="9.6" text-anchor="middle" fill="#231f20">12</text>
<line x1="319.6" y1="419.0" x2="319.6" y2="421.8" stroke="#8a8a8a" stroke-width="0.9"/>
<text x="319.6" y="432.2" font-size="9.6" text-anchor="middle" fill="#231f20">13</text>
<line x1="335.6" y1="419.0" x2="335.6" y2="421.8" stroke="#8a8a8a" stroke-width="0.9"/>
<text x="335.6" y="432.2" font-size="9.6" text-anchor="middle" fill="#231f20">14</text>
<line x1="351.0" y1="419.0" x2="351.0" y2="421.8" stroke="#8a8a8a" stroke-width="0.9"/>
<text x="351.0" y="432.2" font-size="9.6" text-anchor="middle" fill="#231f20">15</text>
<line x1="365.6" y1="419.0" x2="365.6" y2="421.8" stroke="#8a8a8a" stroke-width="0.9"/>
<text x="365.6" y="432.2" font-size="9.6" text-anchor="middle" fill="#231f20">16</text>
<line x1="379.0" y1="419.0" x2="379.0" y2="421.8" stroke="#8a8a8a" stroke-width="0.9"/>
<text x="379.0" y="432.2" font-size="9.6" text-anchor="middle" fill="#231f20">17</text>
<line x1="391.8" y1="419.0" x2="391.8" y2="421.8" stroke="#8a8a8a" stroke-width="0.9"/>
<text x="391.8" y="432.2" font-size="9.6" text-anchor="middle" fill="#231f20">18</text>
<line x1="403.6" y1="419.0" x2="403.6" y2="421.8" stroke="#8a8a8a" stroke-width="0.9"/>
<text x="403.6" y="432.2" font-size="9.6" text-anchor="middle" fill="#231f20">19</text>
<line x1="414.6" y1="419.0" x2="414.6" y2="421.8" stroke="#8a8a8a" stroke-width="0.9"/>
<line x1="424.3" y1="419.0" x2="424.3" y2="421.8" stroke="#8a8a8a" stroke-width="0.9"/>
<text x="424.3" y="432.2" font-size="9.6" text-anchor="middle" fill="#231f20">21</text>
<line x1="433.7" y1="419.0" x2="433.7" y2="421.8" stroke="#8a8a8a" stroke-width="0.9"/>
<text x="27.2" y="432.2" font-size="9.6" text-anchor="middle" fill="#231f20">chr</text>
<text transform="translate(8.6 346.2) rotate(-90)" font-size="9.4" text-anchor="middle" fill="#231f20">-log10(P-value)</text>
<text x="38.6" y="247.4" font-size="9.0" font-weight="bold" fill="#231f20">DLBCL</text>
<g>
<path d="M30.1 638.5 L30.1 603.2 L30.8 605.9 L31.5 603.0 L32.2 601.1 L32.9 605.7 L33.6 607.6 L34.3 608.3 L35.0 607.9 L35.7 603.1 L36.4 607.8 L37.1 602.1 L37.8 608.3 L38.5 604.1 L39.2 605.2 L39.9 608.3 L40.6 609.8 L41.3 610.9 L42.0 607.6 L42.7 614.6 L43.4 616.5 L44.1 618.3 L44.8 615.2 L45.5 617.0 L46.2 615.0 L46.9 616.5 L47.6 612.2 L48.3 613.7 L49.0 609.0 L49.7 610.8 L50.4 606.6 L51.1 606.6 L51.8 606.6 L52.5 603.5 L53.2 607.1 L53.9 602.8 L54.6 606.8 L55.3 607.3 L56.0 607.4 L56.7 604.9 L57.4 603.6 L58.1 606.5 L58.8 606.0 L59.5 602.5 L60.2 606.7 L60.9 601.5 L61.6 603.8 L61.6 638.5ZM93.7 638.5 L93.7 610.3 L94.4 608.2 L95.1 607.3 L95.8 610.2 L96.6 608.0 L97.3 609.8 L98.0 607.7 L98.7 607.2 L99.4 609.0 L100.1 609.4 L100.8 606.3 L101.6 608.4 L102.3 609.5 L103.0 609.2 L103.7 608.7 L104.4 607.9 L105.1 609.6 L105.8 609.6 L106.6 609.5 L107.3 608.7 L108.0 608.4 L108.7 608.7 L109.4 609.1 L110.1 609.1 L110.8 607.5 L111.5 608.1 L112.3 609.4 L113.0 610.4 L113.7 609.8 L114.4 610.0 L115.1 609.6 L115.8 609.9 L116.5 609.7 L117.3 609.9 L118.0 609.0 L118.7 610.3 L119.4 610.5 L119.4 638.5ZM145.8 638.5 L145.8 615.4 L146.5 615.4 L147.2 616.2 L147.9 613.9 L148.6 618.0 L149.3 618.0 L150.0 616.5 L150.7 617.3 L151.4 617.1 L152.1 617.2 L152.8 614.1 L153.5 617.4 L154.2 615.1 L154.9 615.5 L155.6 616.3 L156.3 612.2 L157.0 615.9 L157.8 615.9 L158.5 616.4 L159.2 614.3 L159.9 614.5 L160.6 616.3 L161.3 616.8 L162.0 615.0 L162.7 616.2 L163.4 615.4 L164.1 615.1 L164.8 617.6 L165.5 617.8 L166.2 614.5 L166.9 614.0 L167.6 617.5 L168.3 617.1 L169.0 616.3 L169.0 638.5ZM193.5 638.5 L193.5 607.7 L194.2 610.0 L194.9 610.3 L195.6 608.5 L196.4 610.5 L197.1 608.9 L197.8 610.0 L198.5 608.5 L199.2 610.4 L199.9 610.8 L200.6 608.8 L201.3 610.3 L202.1 610.4 L202.8 608.0 L203.5 609.1 L204.2 610.9 L204.9 609.3 L205.6 610.0 L206.3 609.6 L207.1 610.0 L207.8 610.4 L208.5 610.5 L209.2 610.6 L209.9 610.5 L210.6 608.0 L211.3 609.8 L212.0 609.3 L212.8 608.1 L213.5 608.4 L214.2 609.5 L214.9 606.7 L214.9 638.5ZM235.5 638.5 L235.5 615.9 L236.2 615.4 L236.9 617.7 L237.6 616.8 L238.3 617.4 L239.0 614.6 L239.7 615.6 L240.4 616.2 L241.1 616.3 L241.8 615.0 L242.5 616.4 L243.2 612.8 L243.9 613.9 L244.6 612.0 L245.3 607.4 L246.0 607.7 L246.7 605.2 L247.4 607.2 L248.1 604.0 L248.8 607.2 L249.5 606.0 L250.2 606.7 L250.9 606.4 L251.6 606.2 L252.3 605.4 L253.0 607.2 L253.7 606.5 L254.4 606.6 L254.4 638.5ZM274.1 638.5 L274.1 606.0 L274.8 605.3 L275.5 606.2 L276.2 606.3 L276.9 606.2 L277.6 606.5 L278.3 606.4 L279.0 606.2 L279.7 606.1 L280.4 605.1 L281.1 606.1 L281.8 605.7 L282.5 604.5 L283.2 605.3 L284.0 605.9 L284.7 605.6 L285.4 605.6 L286.1 605.9 L286.8 606.3 L287.5 606.3 L288.2 606.3 L288.9 606.1 L289.6 605.8 L290.3 605.8 L291.0 605.0 L291.7 605.7 L292.4 605.2 L292.4 638.5ZM314.0 638.5 L314.0 612.0 L314.7 613.4 L315.4 611.8 L316.1 612.8 L316.8 609.6 L317.5 611.6 L318.2 612.8 L318.9 610.1 L319.6 613.4 L320.3 611.5 L321.0 612.1 L321.7 613.9 L322.4 613.4 L323.1 614.3 L323.8 610.9 L324.5 614.4 L325.2 612.7 L325.9 612.8 L326.6 613.6 L327.3 610.5 L328.0 612.7 L328.0 638.5ZM346.6 638.5 L346.6 607.5 L347.3 605.6 L348.0 605.7 L348.7 604.5 L349.4 604.4 L350.1 604.9 L350.8 607.1 L351.5 606.9 L352.2 605.5 L353.0 604.0 L353.7 606.4 L354.4 604.0 L355.1 606.7 L355.8 604.4 L356.5 606.7 L357.2 606.4 L357.9 606.6 L358.6 605.8 L358.6 638.5ZM373.1 638.5 L373.1 609.0 L373.8 611.1 L374.5 608.2 L375.3 609.0 L376.0 610.9 L376.7 610.4 L377.4 609.7 L378.2 609.2 L378.9 606.9 L379.6 607.3 L380.3 608.2 L381.1 609.9 L381.8 606.5 L382.5 610.4 L383.2 610.5 L384.0 610.1 L384.7 610.8 L385.4 608.4 L385.4 638.5ZM398.9 638.5 L398.9 601.9 L399.6 602.4 L400.3 600.7 L401.1 601.0 L401.8 602.6 L402.5 601.6 L403.2 602.0 L404.0 602.7 L404.7 602.1 L405.4 603.0 L406.1 603.0 L406.9 601.9 L407.6 601.6 L408.3 602.5 L408.3 638.5ZM421.1 638.5 L421.1 608.3 L421.8 607.3 L422.5 608.5 L423.2 608.3 L423.9 609.1 L424.6 608.3 L425.3 607.8 L426.0 608.4 L426.7 609.0 L427.4 609.2 L428.1 608.0 L428.1 638.5Z" fill="#cd80af"/>
<path d="M62.4 638.5 L62.4 612.9 L63.1 613.9 L63.8 611.1 L64.5 609.9 L65.2 613.5 L65.9 613.9 L66.7 608.5 L67.4 613.1 L68.1 610.4 L68.8 609.3 L69.5 611.2 L70.2 608.4 L70.9 613.0 L71.6 610.8 L72.3 609.4 L73.0 609.7 L73.7 610.1 L74.5 612.9 L75.2 612.4 L75.9 610.0 L76.6 613.2 L77.3 613.8 L78.0 614.0 L78.7 613.2 L79.4 612.7 L80.1 607.3 L80.8 610.9 L81.6 610.4 L82.3 605.7 L83.0 608.3 L83.7 610.0 L84.4 610.8 L85.1 609.8 L85.8 609.7 L86.5 604.7 L87.2 608.2 L87.9 603.6 L88.6 608.1 L89.4 608.3 L90.1 603.6 L90.8 607.8 L91.5 604.0 L92.2 605.0 L92.9 606.1 L92.9 638.5ZM120.3 638.5 L120.3 610.7 L121.0 611.0 L121.7 613.8 L122.4 615.8 L123.1 615.2 L123.8 616.0 L124.5 615.3 L125.2 613.3 L125.9 615.7 L126.6 615.8 L127.3 614.1 L128.0 611.3 L128.7 613.4 L129.4 615.9 L130.1 615.5 L130.8 616.4 L131.5 613.2 L132.2 615.3 L132.9 614.7 L133.6 611.3 L134.3 614.7 L135.0 614.1 L135.7 610.0 L136.4 614.3 L137.1 613.0 L137.8 612.2 L138.5 613.9 L139.2 612.8 L139.9 614.4 L140.6 612.0 L141.3 613.8 L142.0 612.3 L142.7 612.9 L143.4 611.9 L144.1 613.7 L144.8 614.6 L144.8 638.5ZM170.2 638.5 L170.2 613.1 L170.9 612.8 L171.6 612.4 L172.3 613.1 L173.0 612.7 L173.7 611.2 L174.4 610.9 L175.1 612.9 L175.8 613.5 L176.5 613.6 L177.2 613.4 L177.9 613.8 L178.6 613.6 L179.3 612.3 L180.0 611.3 L180.7 611.5 L181.4 612.2 L182.1 612.3 L182.8 611.7 L183.5 612.9 L184.2 612.7 L184.9 611.3 L185.6 611.5 L186.3 612.1 L187.0 612.4 L187.7 612.3 L188.4 611.6 L189.1 612.8 L189.8 611.7 L190.5 610.4 L191.2 612.9 L191.9 612.7 L192.6 611.1 L192.6 638.5ZM215.6 638.5 L215.6 611.3 L216.3 612.3 L217.0 611.8 L217.7 610.8 L218.4 612.0 L219.1 609.3 L219.8 611.6 L220.5 609.0 L221.2 612.0 L221.9 609.8 L222.6 610.6 L223.3 608.9 L224.0 611.7 L224.7 611.2 L225.5 609.4 L226.2 611.9 L226.9 611.9 L227.6 609.8 L228.3 611.0 L229.0 611.6 L229.7 612.2 L230.4 609.4 L231.1 611.0 L231.8 611.7 L232.5 611.8 L233.2 612.7 L233.9 610.2 L234.6 610.5 L234.6 638.5ZM255.1 638.5 L255.1 609.1 L255.8 608.7 L256.5 608.1 L257.3 610.5 L258.0 610.5 L258.7 608.6 L259.4 609.8 L260.2 609.9 L260.9 609.2 L261.6 609.6 L262.3 609.7 L263.1 608.1 L263.8 609.5 L264.5 608.6 L265.2 609.5 L266.0 610.0 L266.7 608.4 L267.4 608.8 L268.1 609.3 L268.9 609.7 L269.6 610.6 L270.3 609.7 L271.0 608.3 L271.8 608.6 L272.5 609.6 L273.2 609.5 L273.2 638.5ZM293.3 638.5 L293.3 605.2 L294.0 605.3 L294.7 605.9 L295.4 605.6 L296.2 605.7 L296.9 605.7 L297.6 604.1 L298.3 604.9 L299.0 604.9 L299.7 603.7 L300.5 605.6 L301.2 604.1 L301.9 606.3 L302.6 605.0 L303.3 604.5 L304.0 605.6 L304.8 606.2 L305.5 605.7 L306.2 604.7 L306.9 605.9 L307.6 603.9 L308.3 605.8 L309.1 605.9 L309.8 604.6 L310.5 606.2 L311.2 605.6 L311.2 638.5ZM330.1 638.5 L330.1 609.2 L330.8 606.9 L331.6 609.2 L332.3 606.9 L333.0 608.5 L333.7 608.5 L334.5 607.7 L335.2 608.4 L335.9 606.2 L336.6 607.8 L337.4 608.7 L338.1 608.4 L338.8 608.7 L339.6 608.3 L340.3 608.5 L341.0 609.2 L341.7 608.3 L342.5 608.9 L343.2 607.5 L343.2 638.5ZM359.3 638.5 L359.3 606.7 L360.0 605.8 L360.7 607.6 L361.4 606.1 L362.1 607.7 L362.8 607.3 L363.5 607.5 L364.2 607.3 L364.9 606.1 L365.6 606.4 L366.4 603.9 L367.1 603.8 L367.8 604.8 L368.5 605.8 L369.2 605.5 L369.9 606.6 L370.6 606.3 L371.3 606.1 L372.0 606.6 L372.0 638.5ZM386.0 638.5 L386.0 613.4 L386.7 609.3 L387.4 613.0 L388.1 610.5 L388.8 611.8 L389.5 610.2 L390.2 611.1 L390.9 613.3 L391.6 611.0 L392.4 611.3 L393.1 613.5 L393.8 610.1 L394.5 613.4 L395.2 613.0 L395.9 612.7 L396.6 612.5 L397.3 612.4 L398.0 613.7 L398.0 638.5ZM409.2 638.5 L409.2 606.9 L409.9 606.7 L410.6 605.9 L411.4 605.1 L412.1 604.6 L412.8 607.1 L413.5 606.5 L414.2 606.6 L415.0 604.7 L415.7 606.7 L416.4 606.6 L417.1 605.6 L417.9 607.5 L418.6 607.5 L419.3 606.9 L419.3 638.5ZM430.7 638.5 L430.7 608.0 L431.4 607.8 L432.1 606.7 L432.9 607.9 L433.6 607.9 L434.3 608.1 L435.0 606.1 L435.8 606.6 L436.5 606.8 L437.2 605.4 L437.2 638.5Z" fill="#c06a2a"/>
<path d="M52.5 605.9h0M47.8 613.0h0M47.6 614.6h0M45.5 618.8h0M47.3 613.1h0M38.3 606.3h0M35.2 609.1h0M35.1 609.0h0M40.7 611.2h0M39.9 610.1h0M45.0 615.8h0M42.0 612.0h0M38.6 605.9h0M51.7 610.9h0M38.6 605.7h0M52.9 609.1h0M60.8 604.5h0M51.7 608.0h0M41.4 613.3h0M40.5 611.5h0M33.1 606.3h0M32.7 609.5h0M60.4 607.3h0M50.7 610.3h0M57.4 608.0h0M56.2 610.6h0M61.7 609.8h0M49.7 612.8h0M55.8 608.3h0M38.3 607.4h0M35.1 609.2h0M39.4 607.3h0M32.5 608.9h0M60.0 608.3h0M31.0 609.5h0M53.8 607.7h0M52.5 610.9h0M69.0 611.1h0M93.0 607.7h0M64.6 614.7h0M74.6 614.2h0M92.9 606.7h0M91.4 605.4h0M82.8 611.4h0M80.7 614.1h0M81.3 612.2h0M69.2 615.6h0M87.9 604.9h0M91.5 605.4h0M92.9 606.9h0M63.1 614.8h0M78.1 616.3h0M79.4 614.6h0M66.2 614.5h0M80.1 611.8h0M79.3 614.8h0M85.7 610.8h0M73.9 611.1h0M88.7 610.9h0M90.2 607.2h0M82.5 612.5h0M87.6 609.9h0M76.1 615.1h0M80.3 614.2h0M72.4 613.2h0M64.6 615.4h0M71.8 611.8h0M73.6 613.3h0M88.5 609.1h0M78.1 615.6h0M81.7 613.1h0M70.1 616.1h0M88.1 610.3h0M97.4 610.5h0M93.6 611.6h0M114.4 611.6h0M117.8 610.6h0M101.6 611.1h0M117.3 611.3h0M116.7 610.2h0M101.6 609.2h0M101.0 608.0h0M112.4 610.2h0M98.8 609.5h0M100.0 610.4h0M103.5 611.3h0M113.7 611.3h0M102.4 610.5h0M96.3 611.1h0M97.1 611.5h0M113.2 611.0h0M116.6 611.3h0M114.5 610.8h0M116.5 611.6h0M111.0 611.5h0M107.2 609.2h0M99.9 610.5h0M110.7 608.2h0M112.8 611.0h0M106.6 610.9h0M107.1 609.8h0M112.5 611.0h0M108.2 609.4h0M144.6 616.5h0M128.1 612.2h0M139.2 615.6h0M124.6 617.6h0M129.6 617.5h0M125.7 616.4h0M133.6 615.8h0M142.7 615.2h0M129.6 617.3h0M131.7 617.0h0M134.8 616.3h0M132.7 615.9h0M144.8 616.7h0M138.4 614.6h0M130.4 616.1h0M121.8 616.6h0M144.4 615.1h0M136.9 615.7h0M144.3 615.8h0M133.0 615.5h0M138.7 617.4h0M137.8 613.4h0M139.3 614.1h0M125.4 614.8h0M143.3 612.5h0M121.1 613.8h0M138.3 615.1h0M121.1 614.5h0M127.8 614.0h0M164.9 619.1h0M156.2 612.9h0M149.2 619.5h0M169.1 618.7h0M152.7 618.9h0M163.8 617.7h0M148.1 615.6h0M148.0 615.2h0M145.5 618.3h0M160.7 617.4h0M164.5 619.3h0M157.3 617.9h0M169.0 619.5h0M162.0 617.3h0M156.2 612.7h0M167.8 618.6h0M155.5 617.9h0M153.8 618.5h0M153.4 618.9h0M166.6 616.4h0M154.0 616.4h0M152.9 616.8h0M163.8 619.7h0M147.4 619.2h0M161.2 617.9h0M157.1 618.3h0M163.3 618.1h0M191.4 613.6h0M188.3 612.9h0M187.0 613.5h0M182.7 612.8h0M174.5 612.4h0M181.3 612.8h0M187.7 613.3h0M184.8 613.0h0M180.0 612.5h0M179.8 612.6h0M191.2 614.4h0M192.7 613.2h0M187.8 613.8h0M189.9 613.8h0M175.7 614.2h0M189.8 613.4h0M185.2 612.5h0M190.5 612.4h0M189.8 614.1h0M182.5 613.0h0M192.6 612.7h0M188.7 612.5h0M180.0 614.5h0M187.0 613.8h0M180.9 613.6h0M171.6 613.9h0M195.8 609.9h0M206.9 610.9h0M203.4 611.8h0M198.5 610.5h0M208.3 611.1h0M199.3 611.8h0M211.3 611.2h0M209.9 611.2h0M198.7 611.1h0M194.7 611.9h0M201.1 612.1h0M214.1 610.6h0M196.4 611.2h0M198.8 611.1h0M198.7 611.4h0M209.0 611.4h0M197.0 610.0h0M199.3 611.4h0M198.3 611.6h0M204.3 611.9h0M210.7 612.0h0M196.4 611.1h0M206.6 610.9h0M214.8 611.9h0M213.2 609.7h0M224.8 613.4h0M225.0 614.2h0M215.4 612.9h0M225.3 614.5h0M231.7 612.5h0M234.4 611.6h0M226.9 612.9h0M226.6 612.7h0M229.2 614.1h0M232.3 612.6h0M232.4 613.9h0M228.5 613.4h0M219.2 610.4h0M218.5 614.0h0M222.8 611.4h0M234.1 610.9h0M233.2 614.5h0M221.0 612.6h0M222.1 614.3h0M219.1 611.9h0M231.4 613.4h0M218.6 613.0h0M235.2 618.1h0M240.5 617.0h0M246.2 610.2h0M254.5 607.3h0M236.4 618.7h0M242.9 614.3h0M239.6 617.1h0M238.6 618.5h0M240.1 616.8h0M240.3 617.3h0M236.2 617.1h0M241.2 617.4h0M238.8 615.7h0M247.6 608.5h0M251.9 607.9h0M252.9 608.1h0M246.0 609.0h0M242.5 617.5h0M246.7 608.6h0M245.1 611.2h0M240.5 617.1h0M244.1 615.1h0M265.7 611.1h0M255.7 609.9h0M273.0 611.2h0M272.3 610.6h0M273.2 611.7h0M267.9 610.4h0M266.9 611.6h0M262.5 610.5h0M273.2 611.3h0M272.3 610.9h0M255.1 610.6h0M257.0 611.5h0M258.3 611.1h0M262.4 610.3h0M262.3 610.7h0M256.1 611.5h0M266.6 609.8h0M258.6 610.6h0M272.8 611.4h0M267.7 611.2h0M271.3 609.5h0M289.6 606.3h0M286.7 607.1h0M276.6 606.7h0M291.5 606.6h0M279.9 606.7h0M287.7 607.0h0M275.9 606.9h0M288.4 607.0h0M278.7 607.1h0M292.0 607.1h0M286.9 606.9h0M280.4 605.7h0M288.8 606.9h0M288.9 606.8h0M291.2 605.6h0M291.8 606.8h0M278.3 606.9h0M278.2 606.9h0M280.2 605.9h0M276.1 606.9h0M292.4 605.8h0M300.7 607.0h0M296.0 606.5h0M305.2 606.8h0M304.3 606.7h0M302.1 606.9h0M308.4 606.3h0M303.3 605.4h0M311.4 607.0h0M301.4 605.3h0M305.5 606.9h0M293.1 606.1h0M306.1 606.5h0M295.7 606.2h0M311.1 606.2h0M303.5 606.7h0M309.1 606.6h0M306.2 605.7h0M309.6 607.0h0M308.1 606.7h0M298.4 606.4h0M311.3 606.5h0M323.8 612.7h0M318.7 612.5h0M328.0 614.4h0M318.9 612.5h0M319.8 615.7h0M318.3 613.4h0M323.6 613.0h0M315.3 613.9h0M315.9 614.1h0M321.5 614.6h0M318.1 614.2h0M323.2 614.9h0M319.5 615.0h0M314.1 614.2h0M327.4 614.1h0M328.0 613.9h0M335.4 609.2h0M334.9 609.6h0M339.5 609.3h0M341.3 609.8h0M339.6 608.9h0M330.1 610.1h0M329.9 610.4h0M343.2 610.6h0M332.3 609.3h0M335.7 607.0h0M343.3 608.3h0M337.4 610.1h0M339.4 608.9h0M339.4 609.4h0M343.2 608.4h0M350.6 608.4h0M349.5 605.1h0M354.0 607.6h0M354.8 607.9h0M357.4 608.6h0M353.7 607.8h0M356.4 607.2h0M355.6 606.6h0M353.9 608.1h0M346.5 608.8h0M349.0 608.6h0M350.7 607.7h0M349.8 605.5h0M347.1 608.1h0M360.7 608.2h0M370.8 607.6h0M368.6 608.3h0M368.4 606.4h0M370.3 606.9h0M360.2 607.2h0M370.0 607.9h0M361.4 607.1h0M361.9 608.9h0M362.8 608.3h0M359.0 607.4h0M371.4 607.0h0M364.4 608.3h0M364.8 607.0h0M367.7 606.1h0M383.9 612.2h0M383.9 611.9h0M381.9 608.8h0M373.8 612.1h0M382.6 613.1h0M379.5 611.8h0M385.7 610.1h0M383.1 611.4h0M381.6 609.0h0M375.8 612.1h0M384.1 610.7h0M375.1 610.7h0M379.8 607.9h0M382.5 611.9h0M387.6 613.7h0M392.1 615.2h0M390.0 613.3h0M397.5 613.9h0M391.5 611.8h0M387.9 613.3h0M394.4 614.6h0M398.2 614.3h0M385.9 614.6h0M396.6 614.0h0M393.5 611.6h0M396.4 613.2h0M396.5 615.1h0M389.3 611.0h0M404.5 602.7h0M406.2 604.0h0M401.7 604.0h0M406.7 603.2h0M401.9 603.5h0M401.6 603.3h0M405.0 603.6h0M400.3 602.2h0M401.3 601.7h0M399.0 602.9h0M401.9 603.9h0M415.9 607.5h0M416.5 608.0h0M419.5 607.5h0M409.0 607.8h0M411.9 608.1h0M415.1 606.8h0M412.9 607.9h0M413.6 607.8h0M410.1 608.2h0M414.2 607.4h0M410.4 607.7h0M417.4 607.4h0M428.3 609.2h0M421.2 609.3h0M424.8 610.2h0M422.1 609.8h0M427.6 610.0h0M424.0 610.3h0M427.8 609.8h0M427.1 609.9h0M434.1 609.1h0M437.2 607.5h0M432.3 607.8h0M436.3 607.7h0M433.2 608.6h0M430.4 608.6h0M435.8 607.8h0" stroke="#fff" stroke-opacity="0.85" stroke-width="1.1" stroke-linecap="round" fill="none"/>
<path d="M30.1 603.2h0M30.8 605.9h0M31.5 603.0h0M32.2 601.1h0M32.9 605.7h0M33.6 607.6h0M34.3 608.3h0M35.0 607.9h0M35.7 603.1h0M36.4 607.8h0M37.1 602.1h0M37.8 608.3h0M38.5 604.1h0M39.2 605.2h0M39.9 608.3h0M40.6 609.8h0M41.3 610.9h0M42.0 607.6h0M42.7 614.6h0M43.4 616.5h0M44.1 618.3h0M44.8 615.2h0M45.5 617.0h0M46.2 615.0h0M46.9 616.5h0M47.6 612.2h0M48.3 613.7h0M49.0 609.0h0M49.7 610.8h0M50.4 606.6h0M51.1 606.6h0M51.8 606.6h0M52.5 603.5h0M53.2 607.1h0M53.9 602.8h0M54.6 606.8h0M55.3 607.3h0M56.0 607.4h0M56.7 604.9h0M57.4 603.6h0M58.1 606.5h0M58.8 606.0h0M59.5 602.5h0M60.2 606.7h0M60.9 601.5h0M61.6 603.8h0M46.6 614.5h0M43.3 616.5h0M31.3 594.8h0M31.0 597.9h0M60.1 598.6h0M36.7 599.6h0M51.3 606.3h0M49.0 606.6h0M51.9 597.1h0M51.0 600.2h0M47.0 606.4h0M34.2 606.1h0M49.3 605.4h0M53.7 600.3h0M55.1 605.3h0M47.8 605.8h0M48.4 613.0h0M54.2 598.3h0M39.3 602.6h0M46.4 606.7h0M49.4 604.7h0M37.6 608.3h0M57.5 600.4h0M43.9 611.0h0M46.5 605.9h0M56.1 594.7h0M41.8 606.6h0M58.6 598.9h0M59.4 594.8h0M46.9 603.9h0M40.5 607.1h0M46.5 614.6h0M39.5 605.1h0M33.8 602.8h0M58.8 595.8h0M36.0 601.5h0M52.0 599.3h0M35.3 601.7h0M49.9 604.9h0M37.4 608.3h0M41.4 598.6h0M38.7 602.5h0M31.6 603.0h0M60.4 600.7h0M48.6 600.7h0M57.5 602.2h0M40.9 604.9h0M37.0 599.3h0M35.7 602.6h0M38.3 604.1h0M34.1 606.5h0M59.9 605.4h0M45.9 613.5h0M59.5 601.7h0M49.1 603.7h0M36.0 602.0h0M44.5 605.5h0M60.6 600.1h0M33.9 596.9h0M31.8 597.5h0M58.1 605.0h0M31.2 594.9h0M31.2 599.4h0M39.4 596.6h0M48.4 597.0h0M54.3 597.0h0M58.2 598.1h0M42.0 601.3h0M50.0 600.2h0M40.0 602.3h0M93.7 610.3h0M94.4 608.2h0M95.1 607.3h0M95.8 610.2h0M96.6 608.0h0M97.3 609.8h0M98.0 607.7h0M98.7 607.2h0M99.4 609.0h0M100.1 609.4h0M100.8 606.3h0M101.6 608.4h0M102.3 609.5h0M103.0 609.2h0M103.7 608.7h0M104.4 607.9h0M105.1 609.6h0M105.8 609.6h0M106.6 609.5h0M107.3 608.7h0M108.0 608.4h0M108.7 608.7h0M109.4 609.1h0M110.1 609.1h0M110.8 607.5h0M111.5 608.1h0M112.3 609.4h0M113.0 610.4h0M113.7 609.8h0M114.4 610.0h0M115.1 609.6h0M115.8 609.9h0M116.5 609.7h0M117.3 609.9h0M118.0 609.0h0M118.7 610.3h0M119.4 610.5h0M113.7 608.1h0M94.8 608.2h0M111.5 603.7h0M118.0 606.8h0M107.2 606.7h0M95.5 610.0h0M98.0 607.3h0M111.0 603.8h0M113.4 606.3h0M96.9 608.2h0M103.3 608.7h0M116.2 608.8h0M98.0 605.5h0M105.2 609.5h0M111.1 604.4h0M114.9 609.2h0M103.9 607.4h0M111.7 608.0h0M99.6 608.9h0M112.4 608.5h0M95.2 606.6h0M110.0 603.4h0M113.6 607.9h0M110.1 605.4h0M101.5 607.0h0M110.1 608.9h0M110.7 605.8h0M104.0 606.5h0M99.1 604.4h0M95.0 604.4h0M117.4 608.7h0M116.8 606.1h0M95.7 603.2h0M112.4 607.9h0M116.4 608.5h0M103.2 606.6h0M114.3 609.8h0M115.0 609.0h0M109.2 605.9h0M111.5 608.0h0M115.1 608.0h0M94.8 605.1h0M115.4 609.6h0M108.1 608.4h0M117.0 606.5h0M104.8 607.9h0M106.7 608.0h0M103.5 608.7h0M105.7 605.4h0M101.1 606.3h0M96.1 606.9h0M117.2 604.7h0M117.6 608.2h0M115.2 603.7h0M106.8 584.3h0M106.8 592.8h0M114.9 595.4h0M99.5 598.1h0M110.0 600.2h0M145.8 615.4h0M146.5 615.4h0M147.2 616.2h0M147.9 613.9h0M148.6 618.0h0M149.3 618.0h0M150.0 616.5h0M150.7 617.3h0M151.4 617.1h0M152.1 617.2h0M152.8 614.1h0M153.5 617.4h0M154.2 615.1h0M154.9 615.5h0M155.6 616.3h0M156.3 612.2h0M157.0 615.9h0M157.8 615.9h0M158.5 616.4h0M159.2 614.3h0M159.9 614.5h0M160.6 616.3h0M161.3 616.8h0M162.0 615.0h0M162.7 616.2h0M163.4 615.4h0M164.1 615.1h0M164.8 617.6h0M165.5 617.8h0M166.2 614.5h0M166.9 614.0h0M167.6 617.5h0M168.3 617.1h0M169.0 616.3h0M148.5 607.0h0M149.6 618.0h0M165.7 607.8h0M161.1 612.6h0M150.5 610.2h0M155.3 613.2h0M160.9 614.0h0M165.3 615.8h0M157.6 607.8h0M148.7 616.6h0M165.9 606.9h0M157.8 608.1h0M158.7 611.3h0M158.6 614.9h0M149.8 615.9h0M163.2 614.8h0M162.0 609.0h0M163.7 612.8h0M154.9 613.2h0M153.1 607.0h0M166.8 611.4h0M164.3 615.0h0M155.5 607.4h0M154.6 613.8h0M150.2 615.8h0M157.6 611.9h0M152.5 613.2h0M160.8 615.0h0M162.1 610.6h0M162.3 614.1h0M161.8 614.9h0M146.9 615.2h0M158.8 611.7h0M167.6 613.6h0M163.0 612.9h0M160.9 611.2h0M151.1 616.0h0M147.2 616.1h0M150.5 614.0h0M158.6 614.1h0M159.3 614.1h0M156.8 614.1h0M155.5 611.4h0M165.2 616.8h0M162.3 614.2h0M150.4 592.0h0M160.0 591.2h0M161.0 592.8h0M163.2 595.2h0M168.0 599.1h0M155.0 603.4h0M193.5 607.7h0M194.2 610.0h0M194.9 610.3h0M195.6 608.5h0M196.4 610.5h0M197.1 608.9h0M197.8 610.0h0M198.5 608.5h0M199.2 610.4h0M199.9 610.8h0M200.6 608.8h0M201.3 610.3h0M202.1 610.4h0M202.8 608.0h0M203.5 609.1h0M204.2 610.9h0M204.9 609.3h0M205.6 610.0h0M206.3 609.6h0M207.1 610.0h0M207.8 610.4h0M208.5 610.5h0M209.2 610.6h0M209.9 610.5h0M210.6 608.0h0M211.3 609.8h0M212.0 609.3h0M212.8 608.1h0M213.5 608.4h0M214.2 609.5h0M214.9 606.7h0M203.4 605.1h0M207.9 610.4h0M207.9 608.1h0M194.5 603.8h0M200.5 606.7h0M213.0 608.0h0M204.6 607.4h0M207.7 608.9h0M211.0 607.1h0M209.8 604.2h0M198.9 609.6h0M207.4 605.6h0M201.9 608.2h0M208.1 609.4h0M207.7 603.8h0M205.2 609.0h0M198.2 608.0h0M206.2 608.9h0M212.1 608.5h0M206.3 604.6h0M213.8 604.3h0M197.7 609.4h0M204.9 608.8h0M207.6 610.3h0M206.7 608.1h0M205.6 608.1h0M213.5 603.8h0M201.9 607.7h0M199.4 610.3h0M199.7 607.4h0M212.4 604.3h0M195.2 604.4h0M201.0 607.6h0M206.3 609.3h0M213.5 605.5h0M211.5 607.4h0M208.9 609.2h0M205.1 609.2h0M194.6 607.9h0M199.1 607.0h0M195.1 594.2h0M205.0 595.2h0M207.0 598.1h0M200.0 602.3h0M235.5 615.9h0M236.2 615.4h0M236.9 617.7h0M237.6 616.8h0M238.3 617.4h0M239.0 614.6h0M239.7 615.6h0M240.4 616.2h0M241.1 616.3h0M241.8 615.0h0M242.5 616.4h0M243.2 612.8h0M243.9 613.9h0M244.6 612.0h0M245.3 607.4h0M246.0 607.7h0M246.7 605.2h0M247.4 607.2h0M248.1 604.0h0M248.8 607.2h0M249.5 606.0h0M250.2 606.7h0M250.9 606.4h0M251.6 606.2h0M252.3 605.4h0M253.0 607.2h0M253.7 606.5h0M254.4 606.6h0M248.1 603.8h0M236.7 612.6h0M241.4 609.1h0M251.8 601.6h0M241.8 613.7h0M244.1 608.8h0M239.7 615.5h0M250.9 605.4h0M249.1 607.2h0M250.7 601.7h0M249.2 603.6h0M238.3 611.9h0M236.4 609.9h0M238.8 613.7h0M252.7 600.4h0M236.8 613.9h0M240.7 616.1h0M252.9 602.5h0M250.6 605.9h0M252.4 602.9h0M240.7 611.9h0M251.5 603.4h0M241.2 615.3h0M245.3 604.9h0M240.5 613.5h0M252.6 607.1h0M249.2 605.9h0M252.6 602.2h0M252.1 602.9h0M238.9 612.3h0M247.1 605.9h0M242.2 613.7h0M241.6 610.0h0M253.5 600.0h0M252.2 590.1h0M251.0 601.3h0M274.1 606.0h0M274.8 605.3h0M275.5 606.2h0M276.2 606.3h0M276.9 606.2h0M277.6 606.5h0M278.3 606.4h0M279.0 606.2h0M279.7 606.1h0M280.4 605.1h0M281.1 606.1h0M281.8 605.7h0M282.5 604.5h0M283.2 605.3h0M284.0 605.9h0M284.7 605.6h0M285.4 605.6h0M286.1 605.9h0M286.8 606.3h0M287.5 606.3h0M288.2 606.3h0M288.9 606.1h0M289.6 605.8h0M290.3 605.8h0M291.0 605.0h0M291.7 605.7h0M292.4 605.2h0M289.8 603.5h0M287.0 605.1h0M278.1 606.2h0M281.7 605.2h0M275.3 604.2h0M279.7 602.5h0M283.8 605.5h0M291.5 603.9h0M283.8 605.8h0M283.5 601.7h0M289.4 603.4h0M282.2 601.6h0M286.2 605.8h0M291.5 601.4h0M280.0 604.1h0M279.4 601.7h0M282.1 604.7h0M277.9 602.1h0M282.0 603.1h0M286.4 604.0h0M290.0 604.5h0M279.1 602.9h0M291.5 603.2h0M282.7 603.7h0M285.5 603.3h0M282.9 604.0h0M289.1 602.0h0M289.4 604.6h0M279.5 605.6h0M285.7 605.8h0M277.2 605.7h0M281.6 604.9h0M282.6 603.8h0M280.0 605.5h0M290.5 605.0h0M289.6 601.7h0M280.3 603.2h0M284.3 605.7h0M279.6 605.9h0M275.0 601.3h0M289.3 597.0h0M314.0 612.0h0M314.7 613.4h0M315.4 611.8h0M316.1 612.8h0M316.8 609.6h0M317.5 611.6h0M318.2 612.8h0M318.9 610.1h0M319.6 613.4h0M320.3 611.5h0M321.0 612.1h0M321.7 613.9h0M322.4 613.4h0M323.1 614.3h0M323.8 610.9h0M324.5 614.4h0M325.2 612.7h0M325.9 612.8h0M326.6 613.6h0M327.3 610.5h0M328.0 612.7h0M326.9 609.2h0M322.3 613.4h0M318.0 609.2h0M320.7 611.8h0M325.3 608.0h0M319.4 613.2h0M322.1 612.3h0M323.6 610.2h0M320.1 611.5h0M322.7 612.4h0M319.9 609.3h0M326.8 607.3h0M319.2 609.9h0M317.4 609.6h0M323.3 609.8h0M315.2 606.9h0M317.6 611.1h0M318.2 611.3h0M319.9 613.1h0M323.5 608.0h0M326.3 612.2h0M326.2 612.6h0M325.0 612.3h0M325.8 612.8h0M325.4 612.6h0M318.9 608.3h0M321.8 610.6h0M315.5 606.7h0M321.7 594.9h0M319.1 597.0h0M346.6 607.5h0M347.3 605.6h0M348.0 605.7h0M348.7 604.5h0M349.4 604.4h0M350.1 604.9h0M350.8 607.1h0M351.5 606.9h0M352.2 605.5h0M353.0 604.0h0M353.7 606.4h0M354.4 604.0h0M355.1 606.7h0M355.8 604.4h0M356.5 606.7h0M357.2 606.4h0M357.9 606.6h0M358.6 605.8h0M357.6 606.2h0M351.7 605.9h0M357.6 601.6h0M356.8 604.7h0M352.3 600.4h0M348.9 603.7h0M353.4 606.0h0M357.2 605.7h0M354.6 603.4h0M349.4 604.3h0M354.1 602.9h0M348.6 602.2h0M350.5 603.9h0M355.7 601.8h0M351.6 601.9h0M351.8 606.0h0M349.3 604.1h0M351.7 606.9h0M353.8 606.0h0M354.5 594.9h0M351.0 599.1h0M373.1 609.0h0M373.8 611.1h0M374.5 608.2h0M375.3 609.0h0M376.0 610.9h0M376.7 610.4h0M377.4 609.7h0M378.2 609.2h0M378.9 606.9h0M379.6 607.3h0M380.3 608.2h0M381.1 609.9h0M381.8 606.5h0M382.5 610.4h0M383.2 610.5h0M384.0 610.1h0M384.7 610.8h0M385.4 608.4h0M380.5 607.0h0M382.5 607.3h0M376.4 609.6h0M374.8 602.3h0M382.0 604.0h0M378.1 608.9h0M383.9 604.1h0M380.1 606.9h0M380.7 607.1h0M379.7 602.4h0M375.7 608.9h0M382.5 607.9h0M379.6 606.7h0M381.4 604.1h0M380.3 606.5h0M377.8 609.5h0M380.0 602.1h0M376.7 607.2h0M384.3 608.0h0M377.1 606.3h0M378.5 605.6h0M374.3 607.3h0M378.9 606.7h0M376.4 593.8h0M375.5 597.0h0M382.6 600.2h0M398.9 601.9h0M399.6 602.4h0M400.3 600.7h0M401.1 601.0h0M401.8 602.6h0M402.5 601.6h0M403.2 602.0h0M404.0 602.7h0M404.7 602.1h0M405.4 603.0h0M406.1 603.0h0M406.9 601.9h0M407.6 601.6h0M408.3 602.5h0M402.9 601.9h0M406.8 597.3h0M405.4 601.5h0M401.0 600.2h0M400.1 598.9h0M402.0 598.3h0M402.5 600.7h0M402.8 601.5h0M403.0 600.8h0M403.8 599.9h0M403.0 602.0h0M402.7 598.3h0M406.4 601.7h0M403.9 600.1h0M401.1 597.2h0M406.7 590.7h0M406.7 596.0h0M421.1 608.3h0M421.8 607.3h0M422.5 608.5h0M423.2 608.3h0M423.9 609.1h0M424.6 608.3h0M425.3 607.8h0M426.0 608.4h0M426.7 609.0h0M427.4 609.2h0M428.1 608.0h0M426.4 607.2h0M427.1 605.2h0M424.7 608.1h0M425.1 606.8h0M425.5 607.7h0M424.7 608.0h0M422.8 607.4h0M424.8 604.8h0M422.1 606.6h0M422.1 607.5h0M422.4 608.4h0M424.3 608.3h0M426.0 600.2h0" stroke="#cd80af" stroke-width="2.8" stroke-linecap="round" fill="none"/>
<path d="M62.4 612.9h0M63.1 613.9h0M63.8 611.1h0M64.5 609.9h0M65.2 613.5h0M65.9 613.9h0M66.7 608.5h0M67.4 613.1h0M68.1 610.4h0M68.8 609.3h0M69.5 611.2h0M70.2 608.4h0M70.9 613.0h0M71.6 610.8h0M72.3 609.4h0M73.0 609.7h0M73.7 610.1h0M74.5 612.9h0M75.2 612.4h0M75.9 610.0h0M76.6 613.2h0M77.3 613.8h0M78.0 614.0h0M78.7 613.2h0M79.4 612.7h0M80.1 607.3h0M80.8 610.9h0M81.6 610.4h0M82.3 605.7h0M83.0 608.3h0M83.7 610.0h0M84.4 610.8h0M85.1 609.8h0M85.8 609.7h0M86.5 604.7h0M87.2 608.2h0M87.9 603.6h0M88.6 608.1h0M89.4 608.3h0M90.1 603.6h0M90.8 607.8h0M91.5 604.0h0M92.2 605.0h0M92.9 606.1h0M81.2 609.0h0M75.5 603.2h0M79.5 612.4h0M82.4 605.7h0M80.3 607.0h0M66.6 607.7h0M66.5 607.4h0M72.0 605.7h0M81.2 601.1h0M89.4 606.4h0M89.2 608.2h0M92.0 605.0h0M91.7 597.7h0M91.1 606.5h0M86.2 603.3h0M66.5 603.5h0M65.8 603.3h0M74.4 608.6h0M83.3 607.1h0M83.7 598.9h0M71.1 609.3h0M64.2 611.0h0M81.2 605.5h0M77.7 614.0h0M80.4 603.0h0M82.3 605.6h0M89.7 603.7h0M64.0 606.0h0M78.5 606.1h0M68.4 602.0h0M75.1 605.0h0M81.7 610.3h0M78.6 612.9h0M65.0 610.7h0M68.8 606.9h0M77.5 613.1h0M66.4 606.4h0M70.7 608.2h0M87.1 600.8h0M90.0 597.6h0M90.2 597.9h0M79.7 612.6h0M83.7 599.8h0M90.3 601.6h0M75.1 609.5h0M81.2 602.6h0M76.3 611.8h0M65.0 611.8h0M85.8 599.9h0M88.2 600.6h0M80.5 607.3h0M64.7 609.1h0M70.2 605.8h0M67.0 613.0h0M81.0 603.7h0M66.4 606.9h0M73.5 608.9h0M90.4 599.1h0M78.9 610.2h0M86.1 596.8h0M89.3 605.6h0M88.8 605.5h0M76.2 591.2h0M79.8 593.3h0M78.0 592.8h0M68.9 597.8h0M87.9 597.0h0M83.0 600.2h0M85.0 602.3h0M64.0 603.4h0M120.3 610.7h0M121.0 611.0h0M121.7 613.8h0M122.4 615.8h0M123.1 615.2h0M123.8 616.0h0M124.5 615.3h0M125.2 613.3h0M125.9 615.7h0M126.6 615.8h0M127.3 614.1h0M128.0 611.3h0M128.7 613.4h0M129.4 615.9h0M130.1 615.5h0M130.8 616.4h0M131.5 613.2h0M132.2 615.3h0M132.9 614.7h0M133.6 611.3h0M134.3 614.7h0M135.0 614.1h0M135.7 610.0h0M136.4 614.3h0M137.1 613.0h0M137.8 612.2h0M138.5 613.9h0M139.2 612.8h0M139.9 614.4h0M140.6 612.0h0M141.3 613.8h0M142.0 612.3h0M142.7 612.9h0M143.4 611.9h0M144.1 613.7h0M144.8 614.6h0M136.4 608.8h0M140.8 609.5h0M141.1 613.8h0M143.7 606.2h0M142.6 611.8h0M128.6 612.1h0M139.1 612.3h0M143.8 607.2h0M142.6 610.0h0M130.0 605.3h0M131.0 615.5h0M132.7 611.3h0M121.3 613.1h0M130.6 607.7h0M128.2 611.0h0M122.8 607.0h0M135.6 606.3h0M136.6 613.8h0M139.3 608.8h0M131.0 615.5h0M142.8 612.3h0M129.5 613.8h0M129.6 608.2h0M134.2 605.4h0M143.3 611.5h0M130.5 613.6h0M132.7 608.6h0M129.3 609.5h0M131.4 610.7h0M126.2 606.7h0M136.6 604.6h0M139.1 609.9h0M125.6 607.8h0M132.5 605.7h0M129.9 614.7h0M137.9 609.4h0M136.2 614.3h0M138.1 609.5h0M127.0 607.3h0M140.2 608.8h0M134.5 612.9h0M121.6 612.9h0M127.0 612.0h0M126.2 607.2h0M135.5 609.8h0M125.9 601.3h0M129.9 601.3h0M136.0 601.3h0M140.8 603.4h0M170.2 613.1h0M170.9 612.8h0M171.6 612.4h0M172.3 613.1h0M173.0 612.7h0M173.7 611.2h0M174.4 610.9h0M175.1 612.9h0M175.8 613.5h0M176.5 613.6h0M177.2 613.4h0M177.9 613.8h0M178.6 613.6h0M179.3 612.3h0M180.0 611.3h0M180.7 611.5h0M181.4 612.2h0M182.1 612.3h0M182.8 611.7h0M183.5 612.9h0M184.2 612.7h0M184.9 611.3h0M185.6 611.5h0M186.3 612.1h0M187.0 612.4h0M187.7 612.3h0M188.4 611.6h0M189.1 612.8h0M189.8 611.7h0M190.5 610.4h0M191.2 612.9h0M191.9 612.7h0M192.6 611.1h0M175.5 611.8h0M186.9 607.1h0M188.8 612.2h0M182.8 607.3h0M177.0 609.1h0M172.7 607.6h0M189.8 610.2h0M186.1 611.3h0M185.9 610.9h0M177.0 608.1h0M173.3 608.8h0M178.4 608.3h0M175.3 612.5h0M191.4 607.8h0M189.6 611.5h0M185.4 611.5h0M188.6 610.5h0M176.1 610.0h0M180.4 611.3h0M190.1 609.9h0M174.7 607.3h0M184.8 610.5h0M182.3 609.4h0M185.4 608.7h0M178.1 611.5h0M175.3 610.3h0M190.7 609.4h0M182.5 608.7h0M174.1 608.9h0M180.4 608.5h0M187.1 607.7h0M184.8 610.4h0M172.3 607.4h0M184.4 609.8h0M177.0 610.1h0M179.6 609.9h0M184.6 610.3h0M174.2 607.5h0M190.6 606.7h0M187.5 580.1h0M189.4 597.0h0M188.5 595.4h0M181.0 606.6h0M215.6 611.3h0M216.3 612.3h0M217.0 611.8h0M217.7 610.8h0M218.4 612.0h0M219.1 609.3h0M219.8 611.6h0M220.5 609.0h0M221.2 612.0h0M221.9 609.8h0M222.6 610.6h0M223.3 608.9h0M224.0 611.7h0M224.7 611.2h0M225.5 609.4h0M226.2 611.9h0M226.9 611.9h0M227.6 609.8h0M228.3 611.0h0M229.0 611.6h0M229.7 612.2h0M230.4 609.4h0M231.1 611.0h0M231.8 611.7h0M232.5 611.8h0M233.2 612.7h0M233.9 610.2h0M234.6 610.5h0M230.7 606.4h0M221.6 612.0h0M222.7 609.5h0M225.3 607.0h0M216.9 611.3h0M225.2 609.3h0M226.6 609.8h0M221.6 608.8h0M226.6 611.9h0M224.3 608.6h0M218.5 609.7h0M216.7 611.8h0M226.8 610.6h0M229.4 605.3h0M218.2 611.7h0M225.2 609.3h0M218.0 607.2h0M216.7 608.0h0M226.0 607.1h0M227.0 607.2h0M222.3 610.5h0M221.3 608.5h0M232.2 606.1h0M220.2 607.1h0M233.4 612.2h0M230.5 607.3h0M230.9 610.7h0M230.4 607.6h0M226.7 610.3h0M230.1 611.9h0M218.8 604.8h0M230.7 610.1h0M230.0 612.1h0M233.3 612.7h0M227.8 608.7h0M220.2 611.0h0M223.5 608.8h0M219.9 609.8h0M225.3 604.8h0M219.3 592.0h0M219.3 597.0h0M233.3 599.1h0M226.0 603.4h0M255.1 609.1h0M255.8 608.7h0M256.5 608.1h0M257.3 610.5h0M258.0 610.5h0M258.7 608.6h0M259.4 609.8h0M260.2 609.9h0M260.9 609.2h0M261.6 609.6h0M262.3 609.7h0M263.1 608.1h0M263.8 609.5h0M264.5 608.6h0M265.2 609.5h0M266.0 610.0h0M266.7 608.4h0M267.4 608.8h0M268.1 609.3h0M268.9 609.7h0M269.6 610.6h0M270.3 609.7h0M271.0 608.3h0M271.8 608.6h0M272.5 609.6h0M273.2 609.5h0M258.7 608.4h0M258.6 605.9h0M270.8 607.9h0M260.3 608.6h0M257.0 604.0h0M267.8 609.0h0M263.4 607.7h0M270.8 608.2h0M267.2 606.7h0M261.1 608.8h0M257.7 604.6h0M265.6 604.7h0M267.1 605.8h0M269.9 607.3h0M267.4 608.5h0M267.7 607.6h0M258.6 603.7h0M263.7 609.5h0M271.1 607.9h0M260.1 609.9h0M264.2 604.5h0M264.8 607.0h0M270.8 604.4h0M269.6 604.3h0M256.7 603.9h0M271.9 608.6h0M261.6 608.8h0M256.5 607.2h0M259.2 609.2h0M260.7 608.0h0M264.0 604.1h0M262.2 609.6h0M265.2 604.5h0M269.9 604.4h0M262.2 592.8h0M262.2 595.4h0M262.2 598.1h0M270.9 599.1h0M293.3 605.2h0M294.0 605.3h0M294.7 605.9h0M295.4 605.6h0M296.2 605.7h0M296.9 605.7h0M297.6 604.1h0M298.3 604.9h0M299.0 604.9h0M299.7 603.7h0M300.5 605.6h0M301.2 604.1h0M301.9 606.3h0M302.6 605.0h0M303.3 604.5h0M304.0 605.6h0M304.8 606.2h0M305.5 605.7h0M306.2 604.7h0M306.9 605.9h0M307.6 603.9h0M308.3 605.8h0M309.1 605.9h0M309.8 604.6h0M310.5 606.2h0M311.2 605.6h0M305.2 603.6h0M297.0 604.3h0M300.1 604.4h0M305.3 604.0h0M299.6 603.7h0M305.2 603.4h0M303.7 603.0h0M308.6 604.2h0M294.9 605.8h0M308.8 603.7h0M306.6 605.7h0M305.0 605.5h0M297.4 604.0h0M306.4 601.5h0M300.5 603.3h0M300.2 604.4h0M307.1 602.5h0M305.0 606.1h0M295.9 605.3h0M300.4 603.6h0M306.0 602.1h0M309.9 602.3h0M308.0 605.8h0M309.5 604.4h0M306.3 604.1h0M296.9 605.2h0M302.2 603.6h0M301.7 605.0h0M298.4 601.7h0M304.0 605.6h0M303.4 602.0h0M297.3 603.3h0M304.2 605.6h0M300.2 578.7h0M294.9 595.4h0M306.0 597.0h0M306.0 601.3h0M299.0 599.1h0M330.1 609.2h0M330.8 606.9h0M331.6 609.2h0M332.3 606.9h0M333.0 608.5h0M333.7 608.5h0M334.5 607.7h0M335.2 608.4h0M335.9 606.2h0M336.6 607.8h0M337.4 608.7h0M338.1 608.4h0M338.8 608.7h0M339.6 608.3h0M340.3 608.5h0M341.0 609.2h0M341.7 608.3h0M342.5 608.9h0M343.2 607.5h0M335.7 603.7h0M342.3 608.9h0M332.3 604.4h0M331.3 607.9h0M339.0 605.2h0M339.2 605.3h0M338.1 607.9h0M333.8 607.5h0M341.5 607.2h0M333.4 607.9h0M341.7 608.2h0M334.3 605.6h0M331.9 606.6h0M332.9 606.3h0M341.2 608.4h0M333.3 606.8h0M338.8 608.7h0M339.3 607.0h0M335.2 606.2h0M340.5 606.2h0M334.3 606.3h0M331.7 605.1h0M334.2 605.4h0M339.6 590.7h0M338.2 596.0h0M340.0 600.2h0M359.3 606.7h0M360.0 605.8h0M360.7 607.6h0M361.4 606.1h0M362.1 607.7h0M362.8 607.3h0M363.5 607.5h0M364.2 607.3h0M364.9 606.1h0M365.6 606.4h0M366.4 603.9h0M367.1 603.8h0M367.8 604.8h0M368.5 605.8h0M369.2 605.5h0M369.9 606.6h0M370.6 606.3h0M371.3 606.1h0M372.0 606.6h0M369.0 602.0h0M365.6 605.4h0M370.0 606.5h0M367.6 604.8h0M369.6 602.7h0M368.8 604.0h0M370.4 605.6h0M370.8 604.1h0M363.2 604.8h0M362.4 607.0h0M364.0 604.9h0M369.5 606.3h0M364.6 601.1h0M364.9 604.5h0M360.2 604.2h0M366.8 603.9h0M360.1 604.2h0M361.9 605.8h0M368.6 603.8h0M366.7 602.0h0M366.4 603.2h0M370.3 602.3h0M361.7 605.8h0M366.7 601.1h0M360.3 593.8h0M361.5 596.0h0M368.5 598.1h0M386.0 613.4h0M386.7 609.3h0M387.4 613.0h0M388.1 610.5h0M388.8 611.8h0M389.5 610.2h0M390.2 611.1h0M390.9 613.3h0M391.6 611.0h0M392.4 611.3h0M393.1 613.5h0M393.8 610.1h0M394.5 613.4h0M395.2 613.0h0M395.9 612.7h0M396.6 612.5h0M397.3 612.4h0M398.0 613.7h0M395.1 610.6h0M393.5 609.5h0M390.7 609.8h0M391.3 612.6h0M387.8 608.7h0M387.6 612.9h0M386.8 607.5h0M388.5 606.8h0M390.0 608.5h0M386.8 609.2h0M390.4 609.0h0M395.6 612.7h0M395.2 611.5h0M387.2 606.9h0M393.4 608.0h0M390.6 610.1h0M396.5 612.5h0M395.8 612.5h0M389.0 608.3h0M387.8 594.9h0M390.5 596.0h0M387.8 601.3h0M392.0 604.4h0M409.2 606.9h0M409.9 606.7h0M410.6 605.9h0M411.4 605.1h0M412.1 604.6h0M412.8 607.1h0M413.5 606.5h0M414.2 606.6h0M415.0 604.7h0M415.7 606.7h0M416.4 606.6h0M417.1 605.6h0M417.9 607.5h0M418.6 607.5h0M419.3 606.9h0M410.9 601.6h0M411.7 603.7h0M410.3 604.9h0M411.8 604.4h0M414.3 606.3h0M417.6 607.4h0M418.2 602.7h0M412.4 604.5h0M414.6 606.3h0M412.5 607.0h0M410.5 605.0h0M411.2 605.1h0M416.6 602.3h0M410.3 603.2h0M418.2 606.2h0M417.0 603.2h0M410.6 601.4h0M418.2 603.8h0M413.2 598.1h0M417.0 598.1h0M430.7 608.0h0M431.4 607.8h0M432.1 606.7h0M432.9 607.9h0M433.6 607.9h0M434.3 608.1h0M435.0 606.1h0M435.8 606.6h0M436.5 606.8h0M437.2 605.4h0M433.4 607.8h0M434.9 604.2h0M435.2 603.5h0M431.7 607.8h0M434.9 605.2h0M432.6 604.7h0M436.1 605.0h0M432.0 606.4h0M434.5 608.1h0M435.1 599.1h0" stroke="#c06a2a" stroke-width="2.8" stroke-linecap="round" fill="none"/>
</g>
<line x1="175.2" y1="573.7" x2="175.2" y2="610.8" stroke="#c06a2a" stroke-width="3.0" stroke-linecap="round"/>
<line x1="175.2" y1="567.3" x2="175.2" y2="573.7" stroke="#c06a2a" stroke-width="3.8" stroke-linecap="round"/>
<line x1="175.2" y1="554.6" x2="175.2" y2="560.4" stroke="#c06a2a" stroke-width="3.8" stroke-linecap="round"/>
<circle cx="175.2" cy="496.7" r="2.1" fill="#c06a2a"/>
<circle cx="175.2" cy="543.0" r="2.1" fill="#c06a2a"/>
<line x1="28.5" y1="573.7" x2="436" y2="573.7" stroke="#4d4d4d" stroke-width="1.15" stroke-dasharray="2.9 2.65"/>
<line x1="28.0" y1="488.9" x2="28.0" y2="637.3" stroke="#8a8a8a" stroke-width="1"/>
<line x1="25" y1="637.3" x2="28.0" y2="637.3" stroke="#8a8a8a" stroke-width="1"/>
<text x="22.6" y="640.2" font-size="9.7" text-anchor="end" fill="#231f20">0</text>
<line x1="25" y1="616.1" x2="28.0" y2="616.1" stroke="#8a8a8a" stroke-width="1"/>
<text x="22.6" y="619.0" font-size="9.7" text-anchor="end" fill="#231f20">2</text>
<line x1="25" y1="594.9" x2="28.0" y2="594.9" stroke="#8a8a8a" stroke-width="1"/>
<text x="22.6" y="597.8" font-size="9.7" text-anchor="end" fill="#231f20">4</text>
<line x1="25" y1="573.7" x2="28.0" y2="573.7" stroke="#8a8a8a" stroke-width="1"/>
<text x="22.6" y="576.6" font-size="9.7" text-anchor="end" fill="#231f20">6</text>
<line x1="25" y1="552.5" x2="28.0" y2="552.5" stroke="#8a8a8a" stroke-width="1"/>
<text x="22.6" y="555.4" font-size="9.7" text-anchor="end" fill="#231f20">8</text>
<line x1="25" y1="531.3" x2="28.0" y2="531.3" stroke="#8a8a8a" stroke-width="1"/>
<text x="22.6" y="534.2" font-size="9.7" text-anchor="end" fill="#231f20">10</text>
<line x1="25" y1="510.1" x2="28.0" y2="510.1" stroke="#8a8a8a" stroke-width="1"/>
<text x="22.6" y="513.0" font-size="9.7" text-anchor="end" fill="#231f20">12</text>
<line x1="25" y1="488.9" x2="28.0" y2="488.9" stroke="#8a8a8a" stroke-width="1"/>
<text x="22.6" y="491.8" font-size="9.7" text-anchor="end" fill="#231f20">14</text>
<line x1="27.6" y1="643.7" x2="436.5" y2="643.7" stroke="#8a8a8a" stroke-width="1.1"/>
<line x1="27.6" y1="643.7" x2="27.6" y2="646.7" stroke="#8a8a8a" stroke-width="1"/>
<line x1="45.6" y1="643.7" x2="45.6" y2="646.5" stroke="#8a8a8a" stroke-width="0.9"/>
<text x="45.6" y="656.9" font-size="9.6" text-anchor="middle" fill="#231f20">1</text>
<line x1="77.4" y1="643.7" x2="77.4" y2="646.5" stroke="#8a8a8a" stroke-width="0.9"/>
<text x="77.4" y="656.9" font-size="9.6" text-anchor="middle" fill="#231f20">2</text>
<line x1="106.6" y1="643.7" x2="106.6" y2="646.5" stroke="#8a8a8a" stroke-width="0.9"/>
<text x="106.6" y="656.9" font-size="9.6" text-anchor="middle" fill="#231f20">3</text>
<line x1="132.4" y1="643.7" x2="132.4" y2="646.5" stroke="#8a8a8a" stroke-width="0.9"/>
<text x="132.4" y="656.9" font-size="9.6" text-anchor="middle" fill="#231f20">4</text>
<line x1="157.4" y1="643.7" x2="157.4" y2="646.5" stroke="#8a8a8a" stroke-width="0.9"/>
<text x="157.4" y="656.9" font-size="9.6" text-anchor="middle" fill="#231f20">5</text>
<line x1="181.2" y1="643.7" x2="181.2" y2="646.5" stroke="#8a8a8a" stroke-width="0.9"/>
<text x="181.2" y="656.9" font-size="9.6" text-anchor="middle" fill="#231f20">6</text>
<line x1="203.8" y1="643.7" x2="203.8" y2="646.5" stroke="#8a8a8a" stroke-width="0.9"/>
<text x="203.8" y="656.9" font-size="9.6" text-anchor="middle" fill="#231f20">7</text>
<line x1="224.7" y1="643.7" x2="224.7" y2="646.5" stroke="#8a8a8a" stroke-width="0.9"/>
<text x="224.7" y="656.9" font-size="9.6" text-anchor="middle" fill="#231f20">8</text>
<line x1="244.8" y1="643.7" x2="244.8" y2="646.5" stroke="#8a8a8a" stroke-width="0.9"/>
<text x="244.8" y="656.9" font-size="9.6" text-anchor="middle" fill="#231f20">9</text>
<line x1="263.9" y1="643.7" x2="263.9" y2="646.5" stroke="#8a8a8a" stroke-width="0.9"/>
<text x="263.9" y="656.9" font-size="9.6" text-anchor="middle" fill="#231f20">10</text>
<line x1="282.8" y1="643.7" x2="282.8" y2="646.5" stroke="#8a8a8a" stroke-width="0.9"/>
<text x="282.8" y="656.9" font-size="9.6" text-anchor="middle" fill="#231f20">11</text>
<line x1="301.6" y1="643.7" x2="301.6" y2="646.5" stroke="#8a8a8a" stroke-width="0.9"/>
<text x="301.6" y="656.9" font-size="9.6" text-anchor="middle" fill="#231f20">12</text>
<line x1="319.6" y1="643.7" x2="319.6" y2="646.5" stroke="#8a8a8a" stroke-width="0.9"/>
<text x="319.6" y="656.9" font-size="9.6" text-anchor="middle" fill="#231f20">13</text>
<line x1="335.6" y1="643.7" x2="335.6" y2="646.5" stroke="#8a8a8a" stroke-width="0.9"/>
<text x="335.6" y="656.9" font-size="9.6" text-anchor="middle" fill="#231f20">14</text>
<line x1="351.0" y1="643.7" x2="351.0" y2="646.5" stroke="#8a8a8a" stroke-width="0.9"/>
<text x="351.0" y="656.9" font-size="9.6" text-anchor="middle" fill="#231f20">15</text>
<line x1="365.6" y1="643.7" x2="365.6" y2="646.5" stroke="#8a8a8a" stroke-width="0.9"/>
<text x="365.6" y="656.9" font-size="9.6" text-anchor="middle" fill="#231f20">16</text>
<line x1="379.0" y1="643.7" x2="379.0" y2="646.5" stroke="#8a8a8a" stroke-width="0.9"/>
<text x="379.0" y="656.9" font-size="9.6" text-anchor="middle" fill="#231f20">17</text>
<line x1="391.8" y1="643.7" x2="391.8" y2="646.5" stroke="#8a8a8a" stroke-width="0.9"/>
<text x="391.8" y="656.9" font-size="9.6" text-anchor="middle" fill="#231f20">18</text>
<line x1="403.6" y1="643.7" x2="403.6" y2="646.5" stroke="#8a8a8a" stroke-width="0.9"/>
<text x="403.6" y="656.9" font-size="9.6" text-anchor="middle" fill="#231f20">19</text>
<line x1="414.6" y1="643.7" x2="414.6" y2="646.5" stroke="#8a8a8a" stroke-width="0.9"/>
<line x1="424.3" y1="643.7" x2="424.3" y2="646.5" stroke="#8a8a8a" stroke-width="0.9"/>
<text x="424.3" y="656.9" font-size="9.6" text-anchor="middle" fill="#231f20">21</text>
<line x1="433.7" y1="643.7" x2="433.7" y2="646.5" stroke="#8a8a8a" stroke-width="0.9"/>
<text x="27.2" y="656.9" font-size="9.6" text-anchor="middle" fill="#231f20">chr</text>
<text transform="translate(8.6 571) rotate(-90)" font-size="9.4" text-anchor="middle" fill="#231f20">-log10(P-value)</text>
<text x="38.6" y="477.0" font-size="9.0" font-weight="bold" fill="#231f20">FL</text>
<text x="2.0" y="9.8" font-size="11.2" fill="#231f20">a</text>
<text x="2.3" y="238.4" font-size="11.2" fill="#231f20">b</text>
<text x="2.3" y="466.8" font-size="11.2" fill="#231f20">c</text>
<text x="463.0" y="9.0" font-size="11.2" fill="#231f20">d</text>
<text x="463.0" y="237.8" font-size="11.2" fill="#231f20">e</text>
<text x="465.8" y="466.3" font-size="11.2" fill="#231f20">f</text>
<text x="2.2" y="721.6" font-size="11.2" fill="#231f20">g</text>
<text x="308.2" y="722.8" font-size="11.2" fill="#231f20">h</text>
<text x="82.2" y="31.8" font-size="7.0" fill="#231f20">rs4302219</text>
<path d="M118.18 26.55 L118.85 28.37 L120.79 28.45 L119.27 29.66 L119.79 31.52 L118.18 30.46 L116.56 31.52 L117.08 29.66 L115.56 28.45 L117.50 28.37Z" fill="#231f20"/>
<text x="82.2" y="38.6" font-size="7.0" fill="#231f20">rs7602904</text>
<path d="M118.18 33.35 L118.85 35.17 L120.79 35.25 L119.27 36.46 L119.79 38.32 L118.18 37.26 L116.56 38.32 L117.08 36.46 L115.56 35.25 L117.50 35.17Z" fill="#231f20"/>
<text x="96.8" y="59.6" font-size="7.0" fill="#231f20">rs9989835</text>
<path d="M132.78 54.35 L133.45 56.17 L135.39 56.25 L133.87 57.46 L134.39 59.32 L132.78 58.26 L131.16 59.32 L131.68 57.46 L130.16 56.25 L132.10 56.17Z" fill="#231f20"/>
<text x="96.8" y="66.3" font-size="7.0" fill="#231f20">rs6710297</text>
<path d="M132.78 61.05 L133.45 62.87 L135.39 62.95 L133.87 64.16 L134.39 66.02 L132.78 64.95 L131.16 66.02 L131.68 64.16 L130.16 62.95 L132.10 62.87Z" fill="#231f20"/>
<text x="96.8" y="73.3" font-size="7.0" fill="#231f20">rs9989746</text>
<path d="M132.78 68.05 L133.45 69.87 L135.39 69.95 L133.87 71.16 L134.39 73.02 L132.78 71.95 L131.16 73.02 L131.68 71.16 L130.16 69.95 L132.10 69.87Z" fill="#231f20"/>
<text x="272.0" y="116.1" font-size="7.0" fill="#231f20">rs2296600</text>
<path d="M307.97 110.85 L308.65 112.67 L310.59 112.75 L309.07 113.96 L309.59 115.82 L307.97 114.75 L306.36 115.82 L306.88 113.96 L305.36 112.75 L307.30 112.67Z" fill="#231f20"/>
<text x="355.9" y="113.7" font-size="7.0" fill="#231f20">rs539846</text>
<circle cx="388.0" cy="111.2" r="2.15" fill="#231f20"/>
<path d="M393.58 108.45 L394.26 110.27 L396.20 110.35 L394.68 111.56 L395.20 113.42 L393.58 112.36 L391.97 113.42 L392.48 111.56 L390.97 110.35 L392.90 110.27Z" fill="#231f20"/>
<circle cx="308.8" cy="16.2" r="2.6" fill="#231f20"/>
<text x="314.5" y="18.7" font-size="7.0" fill="#231f20">Reported SNP</text>
<path d="M308.80 22.45 L309.61 24.63 L311.94 24.73 L310.12 26.18 L310.74 28.42 L308.80 27.14 L306.86 28.42 L307.48 26.18 L305.66 24.73 L307.99 24.63Z" fill="#231f20"/>
<text x="314.5" y="28.2" font-size="7.0" fill="#231f20">Reported gene</text>
<rect x="306.5" y="33.0" width="4.6" height="4.6" fill="#231f20"/>
<text x="314.5" y="37.8" font-size="7.0" fill="#231f20">FinnGen GWAS repeated</text>
<path d="M305.7 47.45L308.8 42.050000000000004L311.90000000000003 47.45Z" fill="#231f20"/>
<text x="314.5" y="47.4" font-size="7.0" fill="#231f20">UK Biobank array GWAS repeated</text>
<text x="95.6" y="282.4" font-size="7.0" fill="#231f20">rs9989835</text>
<text x="183.9" y="247.3" font-size="7.0" fill="#231f20">rs1270942</text>
<circle cx="219.9" cy="244.8" r="2.15" fill="#231f20"/>
<path d="M225.48 242.05 L226.15 243.87 L228.09 243.95 L226.57 245.16 L227.09 247.02 L225.48 245.96 L223.86 247.02 L224.38 245.16 L222.86 243.95 L224.80 243.87Z" fill="#231f20"/>
<text x="183.9" y="254.4" font-size="7.0" fill="#231f20">rs2233980</text>
<text x="183.9" y="261.5" font-size="7.0" fill="#231f20">rs1150756</text>
<text x="183.9" y="268.7" font-size="7.0" fill="#231f20">rs1150757</text>
<text x="183.9" y="275.8" font-size="7.0" fill="#231f20">rs1264308</text>
<text x="183.9" y="282.9" font-size="7.0" fill="#231f20">rs3130288</text>
<path d="M175.2 278.6L183.2 245.4M177.3 283.2L183.2 280.6" stroke="#d4884e" stroke-width="0.6" fill="none"/>
<text x="102.7" y="487.8" font-size="7.0" fill="#231f20">rs2071475</text>
<path d="M136.4 487.3L138.7 483.1L141.0 487.3Z" fill="#231f20"/>
<rect x="142.3" y="483.3" width="4.0" height="4.0" fill="#231f20"/>
<circle cx="149.9" cy="485.3" r="2.15" fill="#231f20"/>
<path d="M155.47 482.55 L156.15 484.37 L158.09 484.45 L156.57 485.66 L157.09 487.52 L155.47 486.45 L153.86 487.52 L154.38 485.66 L152.86 484.45 L154.80 484.37Z" fill="#231f20"/>
<text x="102.7" y="496.2" font-size="7.0" fill="#231f20">rs114733011</text>
<path d="M144.2 495.7L146.5 491.5L148.8 495.7Z" fill="#231f20"/>
<text x="102.7" y="504.6" font-size="7.0" fill="#231f20">rs41521946</text>
<path d="M140.3 504.1L142.6 499.9L144.9 504.1Z" fill="#231f20"/>
<rect x="146.2" y="500.1" width="4.0" height="4.0" fill="#231f20"/>
<text x="102.7" y="513.0" font-size="7.0" fill="#231f20">rs41342846</text>
<rect x="140.6" y="508.5" width="4.0" height="4.0" fill="#231f20"/>
<text x="102.7" y="521.4" font-size="7.0" fill="#231f20">rs17202435</text>
<rect x="140.6" y="516.9" width="4.0" height="4.0" fill="#231f20"/>
<text x="102.7" y="529.8" font-size="7.0" fill="#231f20">rs28362677</text>
<path d="M140.3 529.2L142.6 525.0L144.9 529.2Z" fill="#231f20"/>
<rect x="146.2" y="525.2" width="4.0" height="4.0" fill="#231f20"/>
<text x="102.7" y="538.1" font-size="7.0" fill="#231f20">rs41449245</text>
<rect x="140.6" y="533.6" width="4.0" height="4.0" fill="#231f20"/>
<text x="102.7" y="546.5" font-size="7.0" fill="#231f20">rs41535850</text>
<rect x="140.6" y="542.0" width="4.0" height="4.0" fill="#231f20"/>
<text x="102.7" y="554.9" font-size="7.0" fill="#231f20">rs28362678</text>
<path d="M140.3 554.4L142.6 550.2L144.9 554.4Z" fill="#231f20"/>
<rect x="146.2" y="550.4" width="4.0" height="4.0" fill="#231f20"/>
<text x="102.7" y="563.3" font-size="7.0" fill="#231f20">rs41499544</text>
<rect x="140.6" y="558.8" width="4.0" height="4.0" fill="#231f20"/>
<text x="102.7" y="571.7" font-size="7.0" fill="#231f20">rs2076529</text>
<path d="M136.4 571.2L138.7 567.0L141.0 571.2Z" fill="#231f20"/>
<rect x="142.3" y="567.2" width="4.0" height="4.0" fill="#231f20"/>
<text x="179.8" y="499.0" font-size="7.0" fill="#231f20">rs70993830</text>
<rect x="217.7" y="494.5" width="4.0" height="4.0" fill="#231f20"/>
<path d="M225.27 493.75 L225.95 495.57 L227.88 495.65 L226.37 496.86 L226.88 498.72 L225.27 497.65 L223.65 498.72 L224.17 496.86 L222.65 495.65 L224.59 495.57Z" fill="#231f20"/>
<text x="179.8" y="545.4" font-size="7.0" fill="#231f20">rs7192</text>
<path d="M201.8 544.9L204.1 540.7L206.4 544.9Z" fill="#231f20"/>
<rect x="207.7" y="540.9" width="4.0" height="4.0" fill="#231f20"/>
<path d="M215.30 540.15 L215.98 541.97 L217.91 542.05 L216.40 543.26 L216.92 545.12 L215.30 544.05 L213.68 545.12 L214.20 543.26 L212.68 542.05 L214.62 541.97Z" fill="#231f20"/>
<text x="183.0" y="565.5" font-size="7.0" fill="#231f20">rs2076530</text>
<path d="M216.7 565.0L219.0 560.8L221.3 565.0Z" fill="#231f20"/>
<rect x="222.6" y="561.0" width="4.0" height="4.0" fill="#231f20"/>
<text x="183.0" y="572.1" font-size="7.0" fill="#231f20">rs2269425</text>
<path d="M216.7 571.6L219.0 567.4L221.3 571.6Z" fill="#231f20"/>
<rect x="222.6" y="567.6" width="4.0" height="4.0" fill="#231f20"/>
<path d="M151.6 486.6L174.3 553.0M150.5 569.0L173.4 558.7M176.6 566.0L182.3 563.0M176.6 569.6L182.3 569.6" stroke="#d4884e" stroke-width="0.6" fill="none"/>
<g fill-opacity="0.5"><circle cx="545.2" cy="74.2" r="48.6" fill="#41b589"/><circle cx="609.7" cy="74.2" r="48.6" fill="#319dc5"/><circle cx="577.5" cy="134.8" r="48.6" fill="#d17dad"/></g>
<text x="540.8" y="16.4" font-size="9.3" text-anchor="middle" fill="#231f20">Collapsing</text>
<text x="611.6" y="16.4" font-size="9.3" text-anchor="middle" fill="#231f20">Burden wilcox</text>
<text x="576.7" y="197.5" font-size="9.3" text-anchor="middle" fill="#231f20">Burden glm</text>
<text x="477.6" y="17.9" font-size="8.8" font-weight="bold" fill="#231f20">CLL</text>
<text x="539.6" y="79.8" font-size="9.2" text-anchor="middle" fill="#231f20">240</text>
<text x="578.0" y="71.9" font-size="9.2" text-anchor="middle" fill="#231f20">64</text>
<text x="617.0" y="79.8" font-size="9.2" text-anchor="middle" fill="#231f20">92</text>
<text x="578.0" y="100.8" font-size="9.2" text-anchor="middle" fill="#231f20">38</text>
<text x="555.2" y="110.0" font-size="9.2" text-anchor="middle" fill="#231f20">47</text>
<text x="601.7" y="110.0" font-size="9.2" text-anchor="middle" fill="#231f20">13</text>
<text x="578.0" y="139.4" font-size="9.2" text-anchor="middle" fill="#231f20">17</text>
<g fill-opacity="0.5"><circle cx="545.5" cy="304.3" r="48.6" fill="#41b589"/><circle cx="610.0" cy="304.3" r="48.6" fill="#319dc5"/><circle cx="577.8" cy="364.9" r="48.6" fill="#d17dad"/></g>
<text x="541.1" y="246.5" font-size="9.3" text-anchor="middle" fill="#231f20">Collapsing</text>
<text x="606.4" y="246.5" font-size="9.3" text-anchor="middle" fill="#231f20">Burden wilcox</text>
<text x="577.0" y="427.6" font-size="9.3" text-anchor="middle" fill="#231f20">Burden glm</text>
<text x="477.6" y="248.0" font-size="8.8" font-weight="bold" fill="#231f20">DLBCL</text>
<text x="539.9" y="309.9" font-size="9.2" text-anchor="middle" fill="#231f20">212</text>
<text x="578.3" y="302.0" font-size="9.2" text-anchor="middle" fill="#231f20">27</text>
<text x="617.3" y="309.9" font-size="9.2" text-anchor="middle" fill="#231f20">57</text>
<text x="578.3" y="330.9" font-size="9.2" text-anchor="middle" fill="#231f20">20</text>
<text x="555.5" y="340.1" font-size="9.2" text-anchor="middle" fill="#231f20">26</text>
<text x="602.0" y="340.1" font-size="9.2" text-anchor="middle" fill="#231f20">4</text>
<text x="578.3" y="369.5" font-size="9.2" text-anchor="middle" fill="#231f20">7</text>
<g fill-opacity="0.5"><circle cx="536.4" cy="533.7" r="48.6" fill="#41b589"/><circle cx="600.9" cy="533.7" r="48.6" fill="#319dc5"/><circle cx="568.7" cy="594.3" r="48.6" fill="#d17dad"/></g>
<text x="532.0" y="475.9" font-size="9.3" text-anchor="middle" fill="#231f20">Collapsing</text>
<text x="596.4" y="475.9" font-size="9.3" text-anchor="middle" fill="#231f20">Burden wilcox</text>
<text x="567.9" y="657.0" font-size="9.3" text-anchor="middle" fill="#231f20">Burden glm</text>
<text x="477.6" y="477.4" font-size="8.8" font-weight="bold" fill="#231f20">FL</text>
<text x="530.8" y="539.3" font-size="9.2" text-anchor="middle" fill="#231f20">193</text>
<text x="569.2" y="531.4" font-size="9.2" text-anchor="middle" fill="#231f20">54</text>
<text x="608.2" y="539.3" font-size="9.2" text-anchor="middle" fill="#231f20">118</text>
<text x="569.2" y="560.3" font-size="9.2" text-anchor="middle" fill="#231f20">23</text>
<text x="546.4" y="569.5" font-size="9.2" text-anchor="middle" fill="#231f20">45</text>
<text x="592.9" y="569.5" font-size="9.2" text-anchor="middle" fill="#231f20">4</text>
<text x="569.2" y="598.9" font-size="9.2" text-anchor="middle" fill="#231f20">16</text>
<line x1="38.2" y1="746.9" x2="38.2" y2="922.1" stroke="#555" stroke-width="1"/>
<line x1="38.2" y1="922.1" x2="301.6" y2="922.1" stroke="#555" stroke-width="1"/>
<line x1="34.5" y1="922.1" x2="38.2" y2="922.1" stroke="#555" stroke-width="1"/>
<text x="31.8" y="925.1" font-size="9.3" text-anchor="end" fill="#231f20">0</text>
<line x1="34.5" y1="892.9" x2="38.2" y2="892.9" stroke="#555" stroke-width="1"/>
<text x="31.8" y="895.9" font-size="9.3" text-anchor="end" fill="#231f20">2.5</text>
<line x1="34.5" y1="863.7" x2="38.2" y2="863.7" stroke="#555" stroke-width="1"/>
<text x="31.8" y="866.7" font-size="9.3" text-anchor="end" fill="#231f20">5.0</text>
<line x1="34.5" y1="834.5" x2="38.2" y2="834.5" stroke="#555" stroke-width="1"/>
<text x="31.8" y="837.5" font-size="9.3" text-anchor="end" fill="#231f20">7.5</text>
<line x1="34.5" y1="805.3" x2="38.2" y2="805.3" stroke="#555" stroke-width="1"/>
<text x="31.8" y="808.3" font-size="9.3" text-anchor="end" fill="#231f20">10.0</text>
<line x1="34.5" y1="776.1" x2="38.2" y2="776.1" stroke="#555" stroke-width="1"/>
<text x="31.8" y="779.1" font-size="9.3" text-anchor="end" fill="#231f20">12.5</text>
<line x1="34.5" y1="746.9" x2="38.2" y2="746.9" stroke="#555" stroke-width="1"/>
<text x="31.8" y="749.9" font-size="9.3" text-anchor="end" fill="#231f20">15.0</text>
<rect x="50.9" y="866.0" width="25.0" height="56.1" fill="#3e89b7"/>
<path d="M63.4 849.2V882.6M61.1 849.2h4.6M61.1 882.6h4.6" stroke="#666" stroke-width="0.8" fill="none"/>
<rect x="82.6" y="786.6" width="25.3" height="135.5" fill="#cb8953"/>
<path d="M95.2 770.3V803.0M93.0 770.3h4.6M93.0 803.0h4.6" stroke="#666" stroke-width="0.8" fill="none"/>
<rect x="139.0" y="870.5" width="24.8" height="51.6" fill="#3e89b7"/>
<path d="M151.4 857.4V883.4M149.1 857.4h4.6M149.1 883.4h4.6" stroke="#666" stroke-width="0.8" fill="none"/>
<rect x="170.5" y="884.1" width="25.4" height="38.0" fill="#cb8953"/>
<path d="M183.2 871.4V897.7M180.9 871.4h4.6M180.9 897.7h4.6" stroke="#666" stroke-width="0.8" fill="none"/>
<rect x="227.2" y="860.0" width="24.8" height="62.1" fill="#3e89b7"/>
<path d="M239.6 840.3V879.0M237.3 840.3h4.6M237.3 879.0h4.6" stroke="#666" stroke-width="0.8" fill="none"/>
<rect x="258.4" y="867.0" width="25.1" height="55.1" fill="#cb8953"/>
<path d="M270.9 852.4V881.6M268.6 852.4h4.6M268.6 881.6h4.6" stroke="#666" stroke-width="0.8" fill="none"/>
<line x1="79.4" y1="922.1" x2="79.4" y2="924.5" stroke="#555" stroke-width="1"/>
<text x="81.4" y="936.4" font-size="9.6" text-anchor="middle" fill="#231f20">CLL</text>
<line x1="167.3" y1="922.1" x2="167.3" y2="924.5" stroke="#555" stroke-width="1"/>
<text x="170.6" y="936.4" font-size="9.6" text-anchor="middle" fill="#231f20">DLBCL</text>
<line x1="255.2" y1="922.1" x2="255.2" y2="924.5" stroke="#555" stroke-width="1"/>
<text x="262.0" y="936.4" font-size="9.6" text-anchor="middle" fill="#231f20">FL</text>
<text transform="translate(9.0 826) rotate(-90)" font-size="9.4" text-anchor="middle" fill="#231f20">Heritability (%)</text>
<rect x="171.2" y="752.7" width="5.1" height="5.1" fill="#3e89b7"/><rect x="171.2" y="764.1" width="5.1" height="5.1" fill="#cb8953"/>
<text x="179.4" y="758.2" font-size="9.35" fill="#231f20"><tspan font-style="italic">h</tspan><tspan font-size="6" dy="-3">2</tspan><tspan dy="3"> for Common variants</tspan></text>
<text x="179.4" y="769.8" font-size="9.35" fill="#231f20"><tspan font-style="italic">h</tspan><tspan font-size="6" dy="-3">2</tspan><tspan dy="3"> for Rare variants</tspan></text>
<line x1="339.6" y1="754" x2="339.6" y2="921.2" stroke="#333" stroke-width="0.9"/>
<line x1="339.6" y1="921.2" x2="666" y2="921.2" stroke="#333" stroke-width="0.9"/>
<line x1="343.9" y1="921.2" x2="343.9" y2="924.2" stroke="#333" stroke-width="0.9"/>
<text x="343.9" y="935.8" font-size="9.6" text-anchor="middle" fill="#231f20">0</text>
<line x1="408.2" y1="921.2" x2="408.2" y2="924.2" stroke="#333" stroke-width="0.9"/>
<text x="408.2" y="935.8" font-size="9.6" text-anchor="middle" fill="#231f20">0.2</text>
<line x1="472.5" y1="921.2" x2="472.5" y2="924.2" stroke="#333" stroke-width="0.9"/>
<text x="472.5" y="935.8" font-size="9.6" text-anchor="middle" fill="#231f20">0.4</text>
<line x1="536.9" y1="921.2" x2="536.9" y2="924.2" stroke="#333" stroke-width="0.9"/>
<text x="536.9" y="935.8" font-size="9.6" text-anchor="middle" fill="#231f20">0.6</text>
<line x1="601.2" y1="921.2" x2="601.2" y2="924.2" stroke="#333" stroke-width="0.9"/>
<text x="601.2" y="935.8" font-size="9.6" text-anchor="middle" fill="#231f20">0.8</text>
<line x1="665.5" y1="921.2" x2="665.5" y2="924.2" stroke="#333" stroke-width="0.9"/>
<text x="665.5" y="935.8" font-size="9.6" text-anchor="middle" fill="#231f20">1</text>
<text x="488.6" y="950.2" font-size="9.3" text-anchor="middle" fill="#231f20">Fraction of burden heritability</text>
<line x1="337.2" y1="783.3" x2="339.6" y2="783.3" stroke="#333" stroke-width="0.9"/>
<text x="335.2" y="786.3" font-size="9.5" text-anchor="end" fill="#231f20">CLL</text>
<line x1="337.2" y1="839.1" x2="339.6" y2="839.1" stroke="#333" stroke-width="0.9"/>
<text x="335.2" y="842.1" font-size="9.5" text-anchor="end" fill="#231f20">DLBCL</text>
<line x1="337.2" y1="894.4" x2="339.6" y2="894.4" stroke="#333" stroke-width="0.9"/>
<text x="335.2" y="897.4" font-size="9.5" text-anchor="end" fill="#231f20">FL</text>
<rect x="344.2" y="767.5" width="234.3" height="31.3" fill="#8ccfbb"/>
<path d="M344.2 767.5V798.8M397.3 767.5V798.8M447.7 767.5V798.8M463 767.5V798.8M476.1 767.5V798.8M486.3 767.5V798.8M496.6 767.5V798.8M505.1 767.5V798.8M512.3 767.5V798.8M519.4 767.5V798.8M525.5 767.5V798.8M531.7 767.5V798.8M536.8 767.5V798.8M541.9 767.5V798.8M546.6 767.5V798.8M551.1 767.5V798.8M555.2 767.5V798.8M559.3 767.5V798.8M562.9 767.5V798.8M566.4 767.5V798.8M569.9 767.5V798.8M573.2 767.5V798.8M576.0 767.5V798.8M578.5 767.5V798.8M344.2 767.5H578.5M344.2 798.8H578.5" stroke="#4a4a4a" stroke-width="0.8" fill="none"/>
<path d="M578.5 767.5V798.8M589.9 767.5V798.8M595 767.5V798.8M599.5 767.5V798.8M603.2 767.5V798.8M606.9 767.5V798.8M610.4 767.5V798.8M613.8 767.5V798.8M617.1 767.5V798.8M620.6 767.5V798.8M623.6 767.5V798.8M626.7 767.5V798.8M629.8 767.5V798.8M578.5 767.5H629.8M578.5 798.8H629.8" stroke="#8fd3bf" stroke-width="0.8" fill="none"/>
<rect x="344.2" y="823.4" width="167.3" height="31.8" fill="#7db3d6"/>
<path d="M344.2 823.4V855.2M393.9 823.4V855.2M411.5 823.4V855.2M428 823.4V855.2M443.3 823.4V855.2M457.4 823.4V855.2M470 823.4V855.2M482.4 823.4V855.2M492.4 823.4V855.2M502.1 823.4V855.2M511.5 823.4V855.2M344.2 823.4H511.5M344.2 855.2H511.5" stroke="#4a4a4a" stroke-width="0.8" fill="none"/>
<path d="M511.5 823.4V855.2M524.7 823.4V855.2M537.5 823.4V855.2M549.6 823.4V855.2M559.7 823.4V855.2M569.7 823.4V855.2M511.5 823.4H569.7M511.5 855.2H569.7" stroke="#86b9dd" stroke-width="0.8" fill="none"/>
<rect x="344.2" y="878.4" width="94.8" height="32.2" fill="#e1aac9"/>
<path d="M344.2 878.4V910.6M356.1 878.4V910.6M366.4 878.4V910.6M375.5 878.4V910.6M383 878.4V910.6M390.5 878.4V910.6M397.7 878.4V910.6M403.8 878.4V910.6M409.3 878.4V910.6M414.3 878.4V910.6M419.9 878.4V910.6M424.6 878.4V910.6M429.3 878.4V910.6M434.3 878.4V910.6M439 878.4V910.6M344.2 878.4H439M344.2 910.6H439" stroke="#4a4a4a" stroke-width="0.8" fill="none"/>
<path d="M439 878.4V910.6M459.3 878.4V910.6M469.8 878.4V910.6M477.3 878.4V910.6M483.7 878.4V910.6M489.8 878.4V910.6M495.3 878.4V910.6M500.9 878.4V910.6M505.9 878.4V910.6M510.6 878.4V910.6M515.3 878.4V910.6M519.8 878.4V910.6M524.5 878.4V910.6M439 878.4H524.5M439 910.6H524.5" stroke="#e8b4d2" stroke-width="0.8" fill="none"/>
<text x="344.6" y="741.1" font-size="9.35" fill="#231f20">23 risk genes (23/34, 67.65%): <tspan font-style="italic">NFKBIE, SF3B1, TP53, RAN, POT1, IGLL5,</tspan></text>
<text x="344.6" y="752.4" font-size="9.35" fill="#231f20"><tspan font-style="italic">SAMHD1, MAPK8IP2, ATM, POTEM, KPNA5, RPS23, MBD1, KRAS, CCNB1IP1,</tspan></text>
<text x="344.6" y="763.8" font-size="9.35" fill="#231f20"><tspan font-style="italic">EVX1, KLHL6, SMARCD1, GPX4, FXYD3, CNTNAP2, CHD2, GHITM</tspan></text>
<text x="344.6" y="809.6" font-size="9.35" fill="#231f20">10 risk genes (10/15, 66.67%): <tspan font-style="italic">NFKBIE, IL6R, CERS5, PHGR1, ATM, CD70,</tspan></text>
<text x="344.6" y="820.8" font-size="9.35" fill="#231f20"><tspan font-style="italic">RETNLB, DNMT3A, DPY19L3, KCNAB2</tspan></text>
<text x="344.6" y="865.0" font-size="9.35" fill="#231f20">14 risk genes (14/26,53.85%): <tspan font-style="italic">TMEM240, C11orf21, TMPO, PAQR5,CCDC186,</tspan></text>
<text x="344.6" y="876.3" font-size="9.35" fill="#231f20"><tspan font-style="italic">KANSL2, CEP70, ANXA1, ZNF146, ADIRF, CSTA, POU2F1, TBRG4, NUP133</tspan></text>
</svg></body></html>
